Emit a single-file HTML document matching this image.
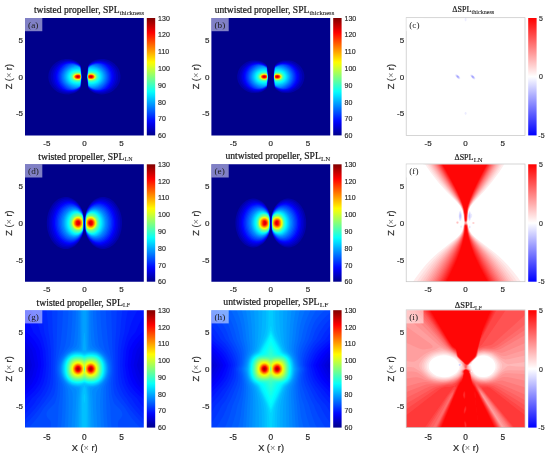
<!DOCTYPE html>
<html><head><meta charset="utf-8"><title>SPL maps</title><style>html,body{margin:0;padding:0;background:#fff}svg{display:block}</style></head><body>
<svg width="550" height="457" viewBox="0 0 550 457">
<rect width="550" height="457" fill="#fff"/>
<defs>
<linearGradient id="gj" x1="0" y1="0" x2="0" y2="1"><stop offset="0.0000" stop-color="#800000"/><stop offset="0.0312" stop-color="#9f0000"/><stop offset="0.0625" stop-color="#bf0000"/><stop offset="0.0938" stop-color="#de0000"/><stop offset="0.1250" stop-color="#fe0000"/><stop offset="0.1562" stop-color="#ff1e00"/><stop offset="0.1875" stop-color="#ff3e00"/><stop offset="0.2188" stop-color="#ff5d00"/><stop offset="0.2500" stop-color="#ff7d00"/><stop offset="0.2812" stop-color="#ff9c00"/><stop offset="0.3125" stop-color="#ffbc00"/><stop offset="0.3438" stop-color="#ffdb00"/><stop offset="0.3750" stop-color="#fffb00"/><stop offset="0.4062" stop-color="#e4ff1b"/><stop offset="0.4375" stop-color="#c4ff3b"/><stop offset="0.4688" stop-color="#a5ff5a"/><stop offset="0.5000" stop-color="#85ff7a"/><stop offset="0.5312" stop-color="#66ff99"/><stop offset="0.5625" stop-color="#46ffb9"/><stop offset="0.5938" stop-color="#27ffd8"/><stop offset="0.6250" stop-color="#07fff8"/><stop offset="0.6562" stop-color="#00e6ff"/><stop offset="0.6875" stop-color="#00c7ff"/><stop offset="0.7188" stop-color="#00a7ff"/><stop offset="0.7500" stop-color="#0088ff"/><stop offset="0.7812" stop-color="#0068ff"/><stop offset="0.8125" stop-color="#0049ff"/><stop offset="0.8438" stop-color="#0029ff"/><stop offset="0.8750" stop-color="#000aff"/><stop offset="0.9062" stop-color="#0000e9"/><stop offset="0.9375" stop-color="#0000ca"/><stop offset="0.9688" stop-color="#0000aa"/><stop offset="1.0000" stop-color="#00008b"/></linearGradient>
<linearGradient id="gb" x1="0" y1="0" x2="0" y2="1"><stop offset="0" stop-color="#ff0000"/><stop offset="0.5" stop-color="#ffffff"/><stop offset="1" stop-color="#0000ff"/></linearGradient>
<clipPath id="c00"><rect x="25.0" y="18.0" width="118.8" height="117.4"/></clipPath>
<clipPath id="c01"><rect x="211.4" y="18.0" width="118.8" height="117.4"/></clipPath>
<clipPath id="c02"><rect x="406.2" y="18.0" width="118.8" height="117.4"/></clipPath>
<clipPath id="c10"><rect x="25.0" y="164.3" width="118.8" height="117.4"/></clipPath>
<clipPath id="c11"><rect x="211.4" y="164.3" width="118.8" height="117.4"/></clipPath>
<clipPath id="c12"><rect x="406.2" y="164.3" width="118.8" height="117.4"/></clipPath>
<clipPath id="c20"><rect x="25.0" y="310.2" width="118.8" height="117.4"/></clipPath>
<clipPath id="c21"><rect x="211.4" y="310.2" width="118.8" height="117.4"/></clipPath>
<clipPath id="c22"><rect x="406.2" y="310.2" width="118.8" height="117.4"/></clipPath>
<filter id="bl" x="-5%" y="-5%" width="110%" height="110%" color-interpolation-filters="sRGB"><feGaussianBlur stdDeviation="0.6"/></filter>
</defs>
<g clip-path="url(#c00)"><g filter="url(#bl)">
<rect x="21.0" y="14.0" width="126.8" height="125.4" fill="#00008b"/>
<path fill="#0000ab" d="M63.4,59.4 65.5,59.0 68.7,59.0 70.3,59.2 73.5,60.1 76.8,61.6 78.4,62.8 80.0,64.5 80.6,65.8 80.8,67.6 81.2,68.3 81.4,69.1 81.6,76.3 81.4,84.3 81.2,85.1 80.8,85.8 80.6,87.6 80.4,88.4 79.2,89.9 77.6,91.3 75.2,92.7 72.7,93.6 68.7,94.4 64.7,94.3 60.7,93.3 57.5,91.9 54.3,89.6 51.7,86.8 50.1,84.3 48.9,81.1 48.3,77.9 48.5,73.9 49.4,70.7 51.1,67.4 53.0,65.0 55.9,62.6 59.1,60.7 61.5,59.8 63.4,59.4ZM97.8,59.4 100.9,59.0 104.1,59.1 108.1,60.1 111.3,61.5 114.5,63.8 117.1,66.6 118.7,69.1 119.9,72.3 120.5,75.5 120.4,78.7 119.7,81.9 118.2,85.1 116.5,87.6 113.7,90.2 111.3,91.9 109.7,92.7 107.3,93.6 104.1,94.3 101.7,94.4 99.3,94.3 96.1,93.6 93.6,92.7 91.2,91.3 89.6,89.9 88.4,88.4 88.2,87.6 88.0,85.8 87.6,85.1 87.4,83.5 87.3,74.7 87.4,69.1 87.6,68.3 88.0,67.6 88.4,65.0 89.6,63.5 92.0,61.6 95.3,60.1 97.8,59.4Z"/>
<path fill="#0000c1" d="M67.3,60.2 70.3,60.3 73.5,61.0 76.0,61.9 78.4,63.4 79.2,64.0 80.4,65.8 81.3,70.7 81.5,76.3 81.4,81.9 81.1,84.3 80.8,85.1 80.4,87.6 79.2,89.4 77.6,90.6 76.0,91.5 73.5,92.4 70.3,93.1 66.3,93.1 63.1,92.5 59.9,91.2 56.8,89.2 54.3,86.8 52.6,84.3 51.3,81.1 50.7,77.9 50.8,74.7 51.5,71.5 53.1,68.3 55.0,65.8 57.8,63.4 60.7,61.8 63.9,60.7 67.3,60.2ZM99.5,60.2 103.3,60.4 106.5,61.2 109.7,62.6 112.0,64.2 114.5,66.6 116.2,69.1 117.5,72.3 118.1,75.5 118.0,78.7 117.3,81.9 115.7,85.1 113.8,87.6 111.0,90.0 108.1,91.6 104.9,92.7 101.7,93.2 98.5,93.1 96.1,92.7 93.6,91.9 91.2,90.6 89.6,89.4 88.4,87.6 87.5,82.7 87.3,77.1 87.4,71.5 87.7,69.1 88.0,68.3 88.4,65.8 89.6,64.0 91.2,62.8 92.8,61.9 96.1,60.7 99.5,60.2Z"/>
<path fill="#0000d6" d="M64.2,61.8 66.3,61.3 68.7,61.1 71.1,61.2 73.5,61.6 76.0,62.5 78.4,63.8 79.2,64.4 80.2,65.8 81.2,70.7 81.5,76.3 81.2,82.7 80.5,86.8 80.0,88.0 79.2,89.0 76.8,90.5 75.2,91.3 72.7,92.0 68.7,92.3 65.5,91.9 62.3,90.9 59.2,89.2 56.7,87.0 54.6,84.3 53.5,81.9 52.8,78.7 52.7,75.5 53.3,72.3 54.2,69.9 55.8,67.4 58.3,64.9 60.7,63.3 64.2,61.8ZM94.7,61.8 97.7,61.2 100.9,61.1 104.1,61.7 106.5,62.5 109.6,64.2 112.1,66.4 114.2,69.1 115.3,71.5 116.0,74.7 116.1,77.9 115.5,81.1 114.6,83.5 113.0,86.0 110.7,88.4 108.1,90.1 105.7,91.2 103.3,91.9 100.9,92.3 98.5,92.3 96.1,92.0 93.6,91.3 91.2,90.1 89.6,89.0 88.6,87.6 87.6,82.7 87.3,77.1 87.6,70.7 88.3,66.6 88.8,65.4 90.4,63.8 92.8,62.5 94.7,61.8Z"/>
<path fill="#0000ec" d="M68.1,61.8 71.1,61.8 73.5,62.1 76.0,62.9 78.4,64.2 79.2,64.8 80.1,65.8 80.4,66.6 81.1,70.7 81.5,76.3 81.3,81.1 80.6,86.0 80.1,87.6 79.2,88.6 76.8,90.1 74.4,91.0 71.9,91.5 68.7,91.6 65.5,91.1 62.5,90.0 59.9,88.4 58.0,86.8 56.3,84.3 55.2,81.9 54.4,78.7 54.4,75.5 54.7,73.1 55.9,69.9 57.3,67.4 59.8,65.0 62.3,63.5 65.5,62.3 68.1,61.8ZM97.3,61.8 100.1,61.8 103.3,62.3 106.3,63.4 109.0,65.0 110.8,66.6 112.5,69.1 113.6,71.5 114.4,74.7 114.4,77.9 114.1,80.3 112.9,83.5 111.5,86.0 109.0,88.4 106.5,89.9 104.1,90.9 100.9,91.6 98.5,91.7 95.3,91.3 92.0,90.1 89.6,88.6 88.8,87.7 88.4,86.8 87.6,81.9 87.3,77.1 87.5,72.3 88.2,67.4 88.7,65.8 89.6,64.8 92.0,63.3 94.4,62.4 97.3,61.8Z"/>
<path fill="#0003ff" d="M67.2,62.6 71.1,62.3 72.7,62.5 75.2,63.0 78.4,64.5 80.0,65.9 80.3,66.6 81.1,71.5 81.4,76.3 81.1,81.9 80.3,86.8 80.0,87.5 78.4,88.9 76.8,89.7 74.4,90.6 71.1,91.1 67.9,90.9 64.7,90.1 62.3,88.9 60.5,87.6 58.5,85.1 57.2,82.7 56.4,80.3 55.9,77.1 56.2,73.9 57.2,70.7 58.5,68.3 60.5,65.8 61.5,65.0 64.5,63.4 67.2,62.6ZM95.3,62.6 97.7,62.3 100.9,62.5 104.1,63.3 106.5,64.5 108.3,65.8 110.3,68.3 111.6,70.7 112.4,73.1 112.8,75.5 112.7,78.7 111.9,81.9 110.7,84.3 109.0,86.8 107.4,88.4 104.9,89.7 102.5,90.6 100.9,90.9 98.5,91.1 96.9,91.0 94.4,90.6 92.0,89.7 90.4,88.9 88.8,87.5 88.5,86.8 87.7,81.9 87.4,77.1 87.7,71.5 88.5,66.6 88.8,65.9 90.4,64.5 92.8,63.3 95.3,62.6Z"/>
<path fill="#0018ff" d="M66.7,63.4 68.7,63.0 70.3,62.8 72.7,62.9 74.4,63.2 76.8,64.0 78.4,64.8 80.0,66.2 80.2,66.6 81.1,72.3 81.4,76.3 81.1,81.1 80.4,86.0 80.0,87.2 79.2,88.0 76.0,89.7 73.5,90.4 70.3,90.6 67.9,90.3 64.5,89.2 63.0,88.4 60.6,86.0 59.0,83.5 57.9,81.1 57.3,78.7 57.2,75.5 57.7,73.1 58.6,70.7 60.0,68.3 62.3,65.7 63.0,65.0 64.5,64.2 66.7,63.4ZM93.8,63.4 96.1,62.9 99.3,62.9 101.7,63.3 104.3,64.2 105.8,65.0 108.2,67.4 109.8,69.9 110.9,72.3 111.5,74.7 111.6,77.1 111.3,79.5 110.5,82.0 109.3,84.3 107.3,86.9 105.8,88.4 103.3,89.6 100.9,90.3 99.3,90.5 96.9,90.6 95.3,90.4 92.8,89.7 91.2,89.0 89.6,88.0 88.8,87.2 88.6,86.8 87.7,81.1 87.4,77.1 87.7,72.3 88.4,67.4 88.8,66.2 89.6,65.4 92.0,64.0 93.8,63.4Z"/>
<path fill="#002eff" d="M69.3,63.4 72.7,63.3 76.0,64.0 77.6,64.7 79.2,65.6 80.0,66.4 80.3,67.4 81.0,72.3 81.4,77.1 81.0,81.1 80.1,86.8 79.2,87.8 77.6,88.7 76.0,89.4 73.5,90.0 71.1,90.1 68.7,89.9 66.1,89.2 64.7,88.3 62.3,86.1 60.7,84.1 59.2,81.1 58.6,78.7 58.4,76.3 58.7,73.9 59.5,71.5 60.9,69.1 62.9,66.6 64.8,65.0 66.3,64.1 69.3,63.4ZM95.4,63.4 97.7,63.3 100.1,63.5 102.7,64.2 104.1,65.1 106.5,67.3 108.1,69.3 109.6,72.3 110.2,74.7 110.4,77.1 110.1,79.5 109.3,81.9 107.9,84.3 105.9,86.8 104.0,88.4 102.5,89.3 99.3,90.0 96.9,90.1 95.3,90.0 92.8,89.4 91.2,88.7 89.6,87.8 88.8,87.0 88.3,85.1 87.7,80.3 87.4,76.3 87.8,72.3 88.7,66.6 89.6,65.6 91.2,64.7 92.8,64.0 95.4,63.4Z"/>
<path fill="#0043ff" d="M68.1,64.2 71.1,63.7 73.5,63.8 75.2,64.1 77.6,65.0 79.2,65.9 80.0,66.6 80.3,67.4 81.0,72.3 81.3,76.3 81.2,79.5 80.3,86.0 80.0,86.8 79.2,87.5 77.6,88.4 76.0,89.1 74.4,89.5 71.9,89.7 70.3,89.6 67.9,89.1 65.5,87.6 62.9,85.1 61.2,82.7 60.2,80.3 59.7,77.9 59.7,75.5 60.2,73.1 60.8,71.5 62.3,69.1 63.7,67.4 65.5,65.8 68.1,64.2ZM93.3,64.2 95.3,63.8 97.7,63.7 100.7,64.2 101.7,64.8 104.1,66.5 105.9,68.3 107.6,70.7 108.6,73.1 109.1,75.5 109.1,77.9 108.6,80.3 108.0,81.9 106.5,84.3 105.1,86.0 103.3,87.6 100.7,89.2 97.7,89.7 95.3,89.6 93.6,89.3 91.2,88.4 89.6,87.5 88.8,86.8 88.5,86.0 87.8,81.1 87.5,77.1 87.6,73.9 88.5,67.4 88.8,66.6 89.6,65.9 91.2,65.0 93.3,64.2Z"/>
<path fill="#0059ff" d="M70.6,64.2 72.7,64.1 74.4,64.3 77.6,65.3 79.2,66.1 80.0,66.8 80.3,68.3 81.1,73.9 81.3,77.1 80.2,86.0 80.0,86.6 78.4,87.7 76.8,88.5 74.4,89.1 71.9,89.3 70.3,89.1 67.9,87.9 66.1,86.8 64.3,85.1 62.5,82.7 61.7,81.1 61.0,78.7 60.8,76.3 61.1,73.9 62.1,71.5 63.0,69.9 64.3,68.3 66.3,66.5 68.7,65.0 70.6,64.2ZM95.0,64.2 96.9,64.1 98.5,64.3 101.5,65.8 103.6,67.4 105.2,69.1 106.7,71.5 107.4,73.1 107.9,75.5 107.9,77.9 107.7,79.5 106.7,81.9 105.8,83.5 104.5,85.1 102.5,86.9 100.1,88.4 98.2,89.2 95.3,89.2 92.8,88.7 90.4,87.7 88.8,86.6 88.5,85.1 87.8,80.3 87.6,77.9 87.6,75.5 88.5,68.3 88.8,66.8 89.6,66.1 91.2,65.3 92.8,64.7 95.0,64.2Z"/>
<path fill="#006fff" d="M71.0,65.0 72.7,64.7 74.4,64.7 76.8,65.2 78.4,65.9 80.0,67.0 80.3,68.3 81.1,74.7 81.2,77.1 80.1,86.0 80.0,86.4 78.4,87.5 76.8,88.2 74.4,88.7 72.7,88.7 71.0,88.4 68.7,87.3 66.3,85.6 64.7,84.0 63.3,81.9 62.5,80.3 62.0,77.9 62.0,75.5 62.3,73.9 62.9,72.3 63.9,70.4 65.0,69.1 66.7,67.4 68.7,66.1 71.0,65.0ZM92.7,65.0 94.4,64.7 96.9,64.8 98.5,65.3 101.0,66.6 103.0,68.3 104.9,70.4 105.9,72.3 106.7,74.7 106.9,76.3 106.7,78.7 105.9,81.1 104.9,83.0 103.3,84.9 101.7,86.3 99.3,87.7 96.9,88.6 94.4,88.7 91.2,87.9 88.8,86.4 88.5,85.1 87.7,78.7 87.6,76.3 88.7,67.4 88.8,67.0 89.6,66.4 91.2,65.5 92.7,65.0Z"/>
<path fill="#0084ff" d="M71.6,65.8 74.4,65.1 77.6,65.8 80.0,67.2 81.1,74.7 81.2,77.9 80.0,86.2 77.6,87.6 74.4,88.3 71.9,87.7 69.8,86.8 67.9,85.6 66.4,84.3 65.0,82.7 64.1,81.1 63.4,79.5 63.1,77.9 63.1,75.5 63.4,73.9 64.1,72.3 65.0,70.7 66.4,69.1 67.9,67.8 69.5,66.8 71.6,65.8ZM91.2,65.8 94.4,65.1 97.7,66.0 100.4,67.4 102.4,69.1 104.1,71.1 105.1,73.1 105.7,75.5 105.7,77.9 105.4,79.5 104.3,81.9 103.1,83.5 101.5,85.1 99.3,86.6 96.9,87.7 94.4,88.3 92.0,87.9 89.6,86.8 88.8,86.2 88.6,85.1 87.6,77.9 87.8,73.9 88.8,67.2 91.2,65.8Z"/>
<path fill="#009aff" d="M75.3,65.8 76.8,65.9 78.4,66.5 80.0,67.4 81.2,76.3 81.0,78.7 80.0,86.0 78.4,86.9 76.8,87.5 76.0,87.6 73.5,87.2 71.1,86.4 69.5,85.5 67.9,84.3 66.3,82.7 65.3,81.1 64.3,78.7 64.1,77.1 64.3,74.7 64.9,73.1 65.7,71.5 67.0,69.9 68.7,68.4 71.1,67.0 73.5,66.2 75.3,65.8ZM92.3,65.8 94.4,66.0 96.9,66.7 99.3,67.9 100.9,69.1 102.5,70.7 103.5,72.3 104.5,74.7 104.7,76.3 104.5,78.7 103.9,80.3 103.1,81.9 101.7,83.6 99.9,85.1 97.7,86.4 95.3,87.2 92.8,87.6 92.0,87.5 90.4,86.9 88.8,86.0 87.6,77.1 87.8,74.7 88.8,67.4 90.4,66.5 92.3,65.8Z"/>
<path fill="#00b0ff" d="M75.8,66.6 77.8,66.6 80.0,67.7 81.1,75.5 81.1,77.9 80.0,85.7 79.2,86.2 77.6,86.8 75.2,86.7 72.7,86.1 70.7,85.1 68.7,83.8 67.6,82.7 66.3,81.0 65.5,79.1 65.2,77.1 65.2,75.5 65.6,73.9 66.4,72.3 67.9,70.3 69.4,69.1 71.1,68.0 73.5,67.1 75.8,66.6ZM91.0,66.6 92.8,66.6 95.3,67.1 97.7,68.0 99.4,69.1 101.2,70.7 102.4,72.3 103.2,73.9 103.6,76.3 103.6,77.9 103.2,79.5 102.4,81.1 100.9,83.1 99.4,84.3 97.7,85.4 95.3,86.3 92.8,86.8 91.0,86.8 88.8,85.7 87.7,77.9 87.7,75.5 88.8,67.7 91.0,66.6Z"/>
<path fill="#00c5ff" d="M76.6,67.4 79.2,67.4 80.0,68.0 80.2,70.7 81.0,74.7 81.1,77.9 80.2,82.7 80.0,85.1 80.0,85.4 79.2,86.0 76.8,86.0 74.4,85.6 71.9,84.8 70.3,83.9 68.9,82.7 67.5,81.1 66.7,79.5 66.3,77.9 66.3,75.5 66.7,73.9 67.5,72.3 68.7,70.8 70.3,69.5 71.9,68.6 74.4,67.8 76.6,67.4ZM89.7,67.4 92.0,67.4 93.6,67.6 96.1,68.3 97.7,69.1 99.3,70.1 100.7,71.5 101.7,73.1 102.4,74.7 102.6,76.3 102.5,77.9 102.1,79.5 101.3,81.1 100.1,82.6 99.0,83.5 96.9,84.8 95.3,85.4 93.6,85.8 91.2,86.0 89.6,86.0 88.8,85.4 88.6,82.7 87.7,77.9 87.7,76.3 88.8,68.0 89.7,67.4Z"/>
<path fill="#00dbff" d="M73.3,69.1 76.8,68.4 80.0,68.5 80.2,70.7 81.1,76.3 81.0,77.9 80.3,81.9 80.0,84.9 78.4,85.1 76.0,85.0 72.7,84.1 71.1,83.3 69.5,82.0 68.7,81.1 67.8,79.5 67.3,77.9 67.2,76.3 67.5,74.7 68.2,73.1 69.4,71.5 70.3,70.7 71.9,69.6 73.3,69.1ZM88.8,69.1 88.8,68.5 90.4,68.3 92.8,68.4 95.3,69.0 96.9,69.6 98.5,70.7 99.4,71.5 100.6,73.1 101.5,75.5 101.6,77.1 101.3,78.7 100.1,81.1 99.3,82.0 97.7,83.3 96.1,84.1 93.6,84.8 91.2,85.1 88.8,84.9 88.6,82.7 87.7,77.1 87.8,75.5 88.5,71.5 88.8,69.1Z"/>
<path fill="#00f0ff" d="M73.9,69.9 76.8,69.3 80.0,69.4 80.3,72.3 81.0,75.5 81.0,77.1 80.0,84.0 76.8,84.1 73.5,83.4 71.9,82.7 70.8,81.9 69.5,80.6 68.9,79.5 68.2,77.1 68.3,75.5 68.9,73.9 69.5,72.8 70.8,71.5 72.0,70.7 73.9,69.9ZM88.8,69.9 88.8,69.4 90.4,69.3 92.8,69.4 94.4,69.7 96.1,70.3 97.7,71.2 99.5,73.1 100.1,74.2 100.5,75.5 100.5,77.9 100.1,79.2 99.5,80.3 97.7,82.2 96.1,83.1 93.6,83.9 91.2,84.1 88.8,84.0 87.8,77.1 87.8,75.5 88.8,69.9Z"/>
<path fill="#07fff8" d="M74.5,70.7 77.6,70.2 80.0,70.4 81.0,76.3 80.9,77.9 80.0,83.0 76.8,83.2 73.5,82.5 71.1,80.9 70.5,80.3 69.6,78.7 69.2,76.3 69.6,74.7 70.0,73.9 70.5,73.1 71.9,71.8 73.5,70.9 74.5,70.7ZM88.8,70.7 88.8,70.4 91.2,70.2 94.4,70.7 96.9,71.8 98.3,73.1 99.2,74.7 99.6,77.1 99.2,78.7 98.3,80.3 97.7,80.9 95.3,82.5 93.6,82.9 91.2,83.2 88.8,83.0 87.8,77.1 88.0,74.7 88.8,70.7Z"/>
<path fill="#1dffe2" d="M74.2,71.5 76.8,71.0 80.0,71.1 81.0,76.3 80.8,78.7 80.3,80.3 80.0,82.3 76.8,82.4 74.4,82.0 72.7,81.3 71.9,80.7 70.8,79.5 70.4,78.7 70.0,77.1 70.1,75.5 70.4,74.7 70.8,73.9 71.9,72.7 72.7,72.1 74.2,71.5ZM88.8,71.5 88.8,71.1 90.4,70.9 93.6,71.2 96.1,72.1 97.3,73.1 98.4,74.7 98.8,76.3 98.7,77.9 98.4,78.7 97.3,80.3 96.1,81.3 93.6,82.2 91.2,82.5 88.8,82.3 87.8,77.1 88.0,74.7 88.8,71.5Z"/>
<path fill="#32ffcd" d="M73.7,72.3 75.2,71.8 76.8,71.5 80.0,71.6 80.9,76.3 80.8,78.5 80.0,81.8 76.8,81.9 74.4,81.4 72.4,80.3 71.1,78.8 70.6,77.1 70.7,75.5 71.1,74.6 71.9,73.5 73.7,72.3ZM88.7,72.3 88.8,71.6 92.0,71.5 94.4,72.0 96.4,73.1 97.7,74.7 98.2,76.3 98.1,77.9 97.2,79.5 96.1,80.6 93.6,81.6 91.2,81.9 88.8,81.8 87.9,77.1 88.0,74.9 88.7,72.3Z"/>
<path fill="#48ffb7" d="M75.4,72.3 77.6,72.0 80.0,72.2 80.8,75.2 80.9,76.3 80.8,78.2 80.0,81.2 77.6,81.4 75.2,81.1 73.4,80.3 72.4,79.5 71.7,78.7 71.2,77.1 71.4,75.5 71.7,74.7 72.4,73.9 73.4,73.1 75.4,72.3ZM88.8,72.3 90.4,72.0 92.8,72.2 95.3,73.0 96.4,73.9 97.4,75.5 97.6,77.1 97.1,78.7 96.4,79.5 95.3,80.4 93.6,81.1 91.2,81.4 88.8,81.2 88.0,78.2 87.9,77.1 88.0,75.2 88.8,72.3Z"/>
<path fill="#5dffa2" d="M74.6,73.1 76.0,72.7 77.6,72.5 80.0,72.7 80.8,75.4 80.9,76.3 80.8,78.0 80.0,80.7 77.6,80.9 75.2,80.5 73.5,79.8 72.4,78.7 71.8,77.1 72.0,75.5 72.4,74.7 73.2,73.9 74.6,73.1ZM88.8,73.1 88.8,72.7 91.2,72.5 93.6,72.9 95.3,73.6 96.4,74.7 97.0,76.3 96.8,77.9 96.4,78.7 95.3,79.8 93.6,80.5 91.2,80.9 88.8,80.7 88.0,78.0 87.9,77.1 88.0,75.4 88.8,73.1Z"/>
<path fill="#73ff8c" d="M76.8,73.1 78.4,73.0 80.0,73.2 80.7,75.5 80.8,76.3 80.7,77.9 80.0,80.2 77.6,80.5 75.2,80.1 73.5,79.3 72.5,77.9 72.2,77.1 72.2,76.3 73.0,74.7 73.5,74.1 75.2,73.3 76.8,73.1ZM89.8,73.1 91.2,72.9 93.6,73.3 95.3,74.1 95.8,74.7 96.6,76.3 96.6,77.1 95.8,78.7 95.3,79.3 93.6,80.1 92.8,80.3 91.2,80.5 88.8,80.2 88.1,77.9 88.0,75.7 88.8,73.2 89.8,73.1Z"/>
<path fill="#89ff76" d="M74.6,73.9 75.2,73.5 76.8,73.3 80.0,73.4 80.8,76.3 80.7,77.9 80.0,80.0 77.6,80.2 76.0,80.1 75.2,79.9 73.4,78.7 72.6,77.1 72.6,76.3 73.4,74.7 74.6,73.9ZM88.6,73.9 88.8,73.4 90.4,73.2 93.6,73.5 95.3,74.6 95.9,75.5 96.2,76.3 96.2,77.1 95.9,77.9 95.3,78.8 93.6,79.9 91.2,80.2 88.8,80.0 88.0,77.1 88.1,75.5 88.6,73.9Z"/>
<path fill="#9eff61" d="M75.0,73.9 76.0,73.6 77.6,73.4 80.0,73.6 80.8,76.3 80.6,77.9 80.0,79.8 78.4,80.0 76.0,79.8 74.4,79.2 73.5,78.5 72.9,77.1 72.9,76.3 73.1,75.5 73.8,74.7 75.0,73.9ZM88.7,73.9 88.8,73.6 91.2,73.4 92.8,73.6 94.4,74.2 95.3,74.9 95.9,76.3 95.9,77.1 95.7,77.9 94.4,79.2 92.8,79.8 90.4,80.0 88.8,79.8 88.0,77.1 88.2,75.5 88.7,73.9Z"/>
<path fill="#b4ff4b" d="M75.6,73.9 77.6,73.6 80.0,73.8 80.7,76.3 80.6,77.9 80.0,79.6 78.4,79.8 76.0,79.6 74.4,78.9 73.5,78.1 73.1,77.1 73.1,76.3 73.4,75.5 74.4,74.5 75.6,73.9ZM88.8,73.9 90.4,73.6 92.0,73.6 93.6,74.0 94.4,74.5 95.4,75.5 95.7,76.3 95.7,77.1 95.4,77.9 94.4,78.9 92.8,79.6 90.4,79.8 88.8,79.6 88.1,77.1 88.2,75.5 88.8,73.9Z"/>
<path fill="#caff35" d="M76.4,73.9 78.4,73.7 80.0,74.0 80.7,76.3 80.5,77.9 80.0,79.4 78.4,79.7 76.0,79.4 74.4,78.7 73.7,77.9 73.3,77.1 73.3,76.3 73.7,75.5 74.4,74.7 76.4,73.9ZM89.4,73.9 92.0,73.8 93.6,74.3 94.4,74.7 95.1,75.5 95.5,76.3 95.5,77.1 95.1,77.9 94.4,78.7 92.8,79.4 90.4,79.7 88.8,79.4 88.3,77.9 88.1,76.3 88.8,74.0 89.4,73.9Z"/>
<path fill="#dfff20" d="M74.8,74.7 76.0,74.1 76.8,74.0 78.4,73.9 80.0,74.2 80.6,76.3 80.5,77.9 80.0,79.2 78.4,79.5 76.8,79.4 75.2,78.9 74.4,78.4 73.6,77.1 73.6,76.3 73.9,75.5 74.8,74.7ZM88.6,74.7 88.8,74.2 90.4,73.9 92.0,74.0 93.6,74.5 94.9,75.5 95.2,76.3 95.2,77.1 94.9,77.9 94.0,78.7 92.8,79.3 90.4,79.5 88.8,79.2 88.2,77.1 88.3,75.5 88.6,74.7Z"/>
<path fill="#f5ff0a" d="M75.1,74.7 76.0,74.3 77.6,74.0 79.2,74.1 80.0,74.4 80.6,76.3 80.4,77.9 80.0,79.0 78.4,79.4 76.8,79.3 75.2,78.7 74.4,78.1 73.8,77.1 73.8,76.3 74.2,75.5 75.1,74.7ZM88.7,74.7 88.8,74.4 90.4,74.0 92.8,74.3 93.7,74.7 94.6,75.5 95.0,76.3 95.0,77.1 94.4,78.1 92.8,79.1 90.4,79.4 88.8,79.0 88.2,77.1 88.4,75.5 88.7,74.7Z"/>
<path fill="#fff400" d="M75.5,74.7 76.8,74.2 77.6,74.1 79.2,74.3 80.0,74.5 80.5,76.3 80.4,77.9 80.0,78.9 78.4,79.2 76.8,79.2 75.2,78.6 74.4,77.9 73.9,77.1 73.9,76.3 74.4,75.5 75.5,74.7ZM88.8,74.7 89.6,74.3 90.4,74.2 92.0,74.2 92.8,74.4 93.6,74.8 94.4,75.5 94.9,76.3 94.9,77.1 94.4,77.9 93.6,78.6 92.8,79.0 92.0,79.2 90.4,79.2 88.8,78.9 88.3,77.1 88.4,75.5 88.8,74.7Z"/>
<path fill="#ffde00" d="M75.8,74.7 77.6,74.3 79.2,74.4 80.0,74.7 80.5,76.3 80.3,77.9 80.0,78.7 78.4,79.1 76.8,79.0 75.2,78.4 74.6,77.9 74.1,77.1 74.1,76.3 74.6,75.5 75.8,74.7ZM88.9,74.7 90.4,74.3 92.0,74.4 92.8,74.6 94.2,75.5 94.7,76.3 94.7,77.1 94.2,77.9 93.6,78.4 92.0,79.0 90.4,79.1 88.8,78.7 88.5,77.9 88.3,76.3 88.9,74.7Z"/>
<path fill="#ffc800" d="M76.1,74.7 76.8,74.5 78.4,74.4 80.0,74.8 80.4,76.3 80.3,77.9 80.0,78.6 78.4,79.0 76.8,78.9 76.0,78.7 74.8,77.9 74.3,77.1 74.3,76.3 75.2,75.2 76.1,74.7ZM89.2,74.7 91.2,74.4 92.8,74.7 94.0,75.5 94.5,76.3 94.5,77.1 93.6,78.2 92.0,78.9 90.4,79.0 88.8,78.6 88.5,77.9 88.4,76.3 88.8,74.8 89.2,74.7Z"/>
<path fill="#ffb300" d="M76.5,74.7 78.4,74.5 80.0,75.0 80.3,76.3 80.3,77.1 80.0,78.4 79.2,78.7 77.6,78.9 76.0,78.5 75.0,77.9 74.5,77.1 74.5,76.3 75.2,75.3 76.5,74.7ZM89.6,74.7 90.4,74.5 92.0,74.6 93.6,75.3 94.3,76.3 94.3,77.1 93.8,77.9 92.8,78.5 91.2,78.9 89.6,78.7 88.8,78.4 88.5,77.1 88.6,75.5 88.8,75.0 89.6,74.7Z"/>
<path fill="#ff9d00" d="M77.1,74.7 78.4,74.6 80.0,75.1 80.3,76.3 80.3,77.1 80.0,78.3 78.6,78.7 77.6,78.8 76.0,78.4 75.1,77.9 74.6,77.1 74.6,76.3 75.2,75.5 76.0,75.0 77.1,74.7ZM90.2,74.7 92.0,74.7 93.7,75.5 94.2,76.3 94.2,77.1 93.7,77.9 92.8,78.4 91.2,78.8 90.2,78.7 88.8,78.3 88.5,77.1 88.7,75.5 88.8,75.1 90.2,74.7Z"/>
<path fill="#ff8800" d="M75.4,75.5 76.0,75.1 77.6,74.7 78.4,74.8 80.0,75.2 80.2,76.3 80.0,78.2 78.4,78.6 77.6,78.7 76.0,78.3 75.4,77.9 74.8,77.1 74.8,76.3 75.4,75.5ZM88.7,75.5 88.8,75.2 90.4,74.8 92.0,74.9 93.4,75.5 94.0,76.3 94.0,77.1 93.4,77.9 92.0,78.5 91.2,78.7 89.6,78.5 88.8,78.2 88.7,77.9 88.6,77.1 88.7,75.5Z"/>
<path fill="#ff7200" d="M75.6,75.5 77.6,74.9 78.4,74.9 80.0,75.4 80.2,76.3 80.0,78.0 78.4,78.5 77.6,78.5 76.0,78.1 74.9,77.1 74.9,76.3 75.6,75.5ZM88.8,75.5 90.4,74.9 92.0,75.0 92.8,75.3 93.6,76.0 93.9,76.3 93.9,77.1 93.2,77.9 92.0,78.4 91.2,78.5 89.6,78.3 88.8,77.9 88.6,77.1 88.8,75.5Z"/>
<path fill="#ff5c00" d="M75.8,75.5 77.6,75.0 78.4,75.0 80.0,75.5 80.1,76.3 80.0,77.9 78.4,78.4 77.6,78.4 76.0,78.0 75.1,77.1 75.1,76.3 75.8,75.5ZM88.8,75.5 90.4,75.0 91.2,75.0 92.8,75.4 93.7,76.3 93.7,77.1 93.0,77.9 92.0,78.3 91.2,78.4 89.6,78.2 88.8,77.9 88.7,77.1 88.8,75.5Z"/>
<path fill="#ff4700" d="M76.0,75.5 77.6,75.1 78.4,75.1 79.7,75.5 80.0,75.8 80.1,76.3 80.0,77.6 79.7,77.9 78.4,78.3 77.6,78.3 76.0,77.9 75.3,77.1 75.3,76.3 76.0,75.5ZM89.1,75.5 90.4,75.1 91.2,75.1 92.8,75.5 93.5,76.3 93.5,77.1 92.8,77.9 92.0,78.1 91.2,78.3 89.6,78.1 88.8,77.6 88.7,77.1 88.8,75.8 89.1,75.5Z"/>
<path fill="#ff3100" d="M76.4,75.5 77.6,75.2 79.3,75.5 80.0,76.0 80.0,77.4 79.3,77.9 78.4,78.1 76.4,77.9 75.5,77.1 75.5,76.3 76.4,75.5ZM89.5,75.5 91.2,75.2 92.4,75.5 93.3,76.3 93.3,77.1 92.8,77.6 92.0,78.0 90.4,78.1 89.5,77.9 88.8,77.4 88.8,77.1 88.8,76.0 89.5,75.5Z"/>
<path fill="#ff1b00" d="M76.9,75.5 78.4,75.4 79.2,75.6 80.0,76.3 80.0,77.1 78.8,77.9 77.6,78.0 76.8,77.9 75.8,77.1 75.8,76.3 76.9,75.5ZM90.0,75.5 91.2,75.4 92.0,75.5 93.0,76.3 93.0,77.1 91.9,77.9 90.4,78.0 89.6,77.8 88.8,77.1 88.8,76.3 90.0,75.5Z"/>
<path fill="#ff0600" d="M76.0,76.3 76.8,75.7 77.6,75.5 78.4,75.5 79.2,75.8 79.7,76.3 79.7,77.1 79.2,77.6 78.4,77.9 77.6,77.9 76.8,77.7 76.0,77.1 76.0,76.3ZM89.1,76.3 89.6,75.8 90.4,75.5 91.2,75.5 92.0,75.7 92.8,76.3 92.8,77.1 92.0,77.7 91.2,77.9 90.4,77.9 89.6,77.6 89.1,77.1 89.1,76.3Z"/>
<path fill="#ef0000" d="M76.3,76.3 77.6,75.7 78.4,75.7 79.4,76.3 79.4,77.1 78.4,77.7 77.6,77.7 76.3,77.1 76.3,76.3ZM89.4,76.3 90.4,75.7 91.2,75.7 92.5,76.3 92.5,77.1 91.2,77.7 90.4,77.7 89.4,77.1 89.4,76.3Z"/>
<path fill="#da0000" d="M76.6,76.3 77.6,75.9 78.4,75.9 79.2,76.3 79.2,77.1 78.4,77.5 77.6,77.5 76.6,77.1 76.6,76.3ZM89.6,76.3 90.4,75.9 91.2,75.9 92.2,76.3 92.2,77.1 91.2,77.5 90.4,77.5 89.6,77.1 89.6,76.3Z"/>
<path fill="#c40000" d="M77.0,76.3 77.6,76.1 78.7,76.3 78.7,77.1 77.6,77.3 77.0,77.1 77.0,76.3ZM90.1,76.3 91.2,76.1 91.8,76.3 91.8,77.1 91.2,77.3 90.1,77.1 90.1,76.3Z"/>
<path fill="#ae0000" d="M77.5,76.3 77.7,76.3 77.7,77.1 77.5,77.1 77.5,76.3ZM91.1,76.3 91.3,76.3 91.2,77.1 91.1,77.1 91.1,76.3Z"/>
</g></g>
<rect x="25.0" y="18.0" width="17.3" height="13.2" fill="#fff" fill-opacity="0.5"/>
<text x="28.1" y="27.9" font-family="'Liberation Serif',serif" font-size="9.2" fill="#1a1a1a">(a)</text>
<rect x="146.8" y="18.0" width="8.4" height="117.4" fill="url(#gj)"/>
<g font-family="'Liberation Sans',sans-serif" font-size="7" fill="#262626" stroke="#262626" stroke-width="0.15">
<text x="158.1" y="20.6">130</text>
<text x="158.1" y="37.4">120</text>
<text x="158.1" y="54.1">110</text>
<text x="158.1" y="70.9">100</text>
<text x="158.1" y="87.7">90</text>
<text x="158.1" y="104.5">80</text>
<text x="158.1" y="121.2">70</text>
<text x="158.1" y="138.0">60</text>
</g>
<g font-family="'Liberation Sans',sans-serif" font-size="8.0" fill="#262626" stroke="#262626" stroke-width="0.18">
<text x="46.9" y="146.3" text-anchor="middle">-5</text>
<text x="84.4" y="146.3" text-anchor="middle">0</text>
<text x="121.5" y="146.3" text-anchor="middle">5</text>
<text x="23.0" y="43.0" text-anchor="end" font-size="8.0">5</text>
<text x="23.0" y="79.7" text-anchor="end" font-size="8.0">0</text>
<text x="23.0" y="116.4" text-anchor="end" font-size="8.0">-5</text>
</g>
<text transform="translate(12.4,76.7) rotate(-90)" text-anchor="middle" font-family="'Liberation Sans',sans-serif" font-size="9.2" fill="#262626" stroke="#262626" stroke-width="0.2">Z (<tspan fill="#777" stroke="none">×</tspan> r)</text>
<g clip-path="url(#c01)"><g filter="url(#bl)">
<rect x="207.4" y="14.0" width="126.8" height="125.4" fill="#00008b"/>
<path fill="#0000ab" d="M249.6,61.0 251.1,60.6 254.3,60.3 256.7,60.4 259.1,60.7 261.6,61.5 264.0,62.8 265.6,64.0 266.9,65.8 267.2,67.8 267.8,69.1 267.9,70.7 267.9,77.9 267.8,84.3 267.2,85.6 266.9,87.6 266.5,88.4 265.6,89.4 264.0,90.6 261.6,91.9 258.3,92.8 255.1,93.1 251.1,92.8 247.9,91.8 244.7,90.1 241.6,87.6 239.7,85.1 238.1,81.9 237.3,78.7 237.2,75.5 238.1,71.5 239.2,69.1 240.9,66.6 243.4,64.2 246.3,62.3 249.6,61.0ZM281.7,61.0 283.3,60.6 284.9,60.4 288.9,60.4 291.3,60.8 293.7,61.6 295.3,62.3 298.2,64.2 300.1,66.0 301.9,68.3 303.5,71.5 304.3,74.7 304.4,77.9 303.7,81.1 302.8,83.5 301.3,86.0 299.2,88.4 296.9,90.1 293.7,91.8 291.3,92.6 288.1,93.1 285.7,93.1 282.5,92.7 280.0,91.9 277.6,90.6 276.0,89.4 274.7,87.6 274.4,85.6 273.8,84.3 273.6,77.1 273.8,69.1 274.4,67.8 274.7,65.8 276.0,64.0 277.6,62.8 280.0,61.5 281.7,61.0Z"/>
<path fill="#0000c1" d="M251.8,61.8 255.9,61.3 258.3,61.5 260.8,62.0 263.2,63.0 265.6,64.6 266.4,65.4 266.9,66.6 267.2,68.4 267.7,69.9 267.9,76.3 267.7,82.7 266.9,86.8 266.4,88.0 265.6,88.8 263.2,90.4 260.8,91.4 257.5,92.0 254.3,92.0 251.1,91.4 247.9,90.1 245.2,88.4 243.1,86.3 241.1,83.5 240.1,81.1 239.4,77.9 239.5,74.7 240.4,71.5 241.6,69.1 243.4,66.6 246.3,64.2 248.7,62.9 251.8,61.8ZM281.8,61.8 284.9,61.3 288.1,61.5 291.3,62.2 294.0,63.4 296.4,65.0 298.9,67.4 300.5,69.9 301.5,72.3 302.2,75.5 302.1,78.7 301.5,81.1 300.1,84.1 298.2,86.8 296.1,88.6 293.7,90.1 290.5,91.4 288.1,91.9 285.7,92.1 283.3,91.9 280.8,91.4 278.4,90.4 276.0,88.8 275.2,88.0 274.7,86.8 274.4,85.0 273.9,83.5 273.7,77.1 273.9,70.7 274.7,66.6 275.2,65.4 276.8,64.0 279.2,62.7 281.8,61.8Z"/>
<path fill="#0000d6" d="M252.9,62.6 255.1,62.2 257.5,62.2 259.1,62.3 261.6,62.9 264.8,64.5 266.4,65.8 266.8,66.6 267.6,70.7 267.9,76.3 267.6,82.7 267.0,86.0 266.4,87.6 265.6,88.3 264.0,89.4 261.6,90.5 258.3,91.2 255.1,91.2 251.9,90.5 249.5,89.6 247.1,88.1 244.7,86.0 243.0,83.5 241.9,81.1 241.3,78.7 241.2,75.5 241.9,72.3 243.0,69.9 244.7,67.4 247.1,65.3 249.5,63.8 252.9,62.6ZM281.3,62.6 283.3,62.2 286.5,62.2 289.7,62.9 292.1,63.8 294.5,65.3 296.9,67.4 298.6,69.9 299.7,72.3 300.3,74.7 300.4,77.9 300.0,80.3 299.1,82.7 297.5,85.1 295.3,87.5 292.9,89.1 290.5,90.3 288.1,90.9 286.5,91.2 284.1,91.2 281.7,90.9 279.2,90.2 277.6,89.4 276.0,88.3 275.2,87.6 274.8,86.8 274.0,82.7 273.7,77.1 274.0,70.7 274.8,66.6 275.2,65.8 276.8,64.5 279.2,63.2 281.3,62.6Z"/>
<path fill="#0000ec" d="M252.8,63.4 254.3,63.0 256.7,62.8 259.1,62.9 260.8,63.2 263.2,64.0 264.8,64.8 266.4,66.1 266.7,66.6 267.5,70.7 267.8,76.3 267.6,81.9 266.9,86.0 266.4,87.3 265.6,88.0 262.4,89.7 259.9,90.4 256.7,90.6 253.5,90.2 251.1,89.4 248.7,88.1 246.1,86.0 244.3,83.5 243.1,81.1 242.5,78.7 242.4,76.3 242.9,73.1 243.8,70.7 245.4,68.3 247.9,65.9 250.3,64.4 252.8,63.4ZM280.0,63.4 282.5,62.9 285.7,62.8 288.8,63.4 291.3,64.4 293.6,65.8 295.5,67.4 297.3,69.9 298.5,72.3 299.1,74.7 299.2,77.1 298.7,80.3 297.8,82.7 296.2,85.1 294.5,86.9 292.1,88.6 289.7,89.7 288.1,90.2 285.7,90.6 283.3,90.6 281.7,90.4 279.2,89.7 277.6,89.0 276.0,88.0 275.2,87.3 274.9,86.8 274.1,82.7 273.8,77.1 274.0,71.5 274.7,67.4 275.2,66.1 276.0,65.4 277.6,64.4 280.0,63.4Z"/>
<path fill="#0003ff" d="M256.0,63.4 258.3,63.3 260.8,63.6 263.2,64.3 265.6,65.7 266.4,66.3 266.8,67.4 267.5,71.5 267.8,75.5 267.8,78.7 267.5,81.9 266.5,86.8 265.6,87.7 264.0,88.7 261.6,89.6 259.9,89.9 257.5,90.1 254.3,89.7 251.9,88.9 249.4,87.6 247.4,86.0 245.7,83.5 244.3,80.3 244.0,78.7 243.9,75.5 244.3,73.1 245.3,70.7 246.7,68.3 248.4,66.6 250.8,65.0 253.5,63.9 256.0,63.4ZM282.1,63.4 284.9,63.3 287.3,63.7 289.7,64.5 292.2,65.8 294.2,67.4 295.4,69.1 296.7,71.5 297.5,73.9 297.7,76.3 297.5,79.5 296.3,82.7 294.9,85.1 293.2,86.8 291.3,88.1 288.9,89.2 286.5,89.9 284.1,90.1 281.7,89.9 279.2,89.3 276.8,88.3 276.0,87.7 275.1,86.8 274.2,82.7 273.8,78.7 273.8,74.7 274.1,71.5 275.1,66.6 276.0,65.7 277.6,64.7 280.0,63.8 282.1,63.4Z"/>
<path fill="#0018ff" d="M254.8,64.2 256.7,63.9 258.3,63.8 259.9,63.9 262.4,64.4 264.8,65.4 265.6,65.9 266.4,66.6 266.7,67.4 267.5,72.3 267.8,76.3 267.5,81.1 266.9,85.1 266.4,86.8 264.8,88.0 262.4,89.0 259.9,89.5 256.7,89.5 253.5,88.8 251.9,88.1 249.7,86.8 248.1,85.1 246.5,82.7 245.6,80.3 245.1,77.9 245.2,74.7 245.8,72.3 247.0,69.9 248.1,68.3 249.7,66.6 251.9,65.3 254.8,64.2ZM280.0,64.2 282.5,63.8 284.9,63.9 288.1,64.6 290.5,65.7 291.9,66.6 293.7,68.5 295.1,70.7 296.0,73.1 296.5,75.5 296.5,77.9 296.0,80.3 295.1,82.7 293.5,85.1 291.9,86.8 290.5,87.7 288.1,88.8 284.9,89.5 282.5,89.6 280.8,89.4 278.4,88.7 276.8,88.0 275.2,86.8 274.9,86.0 274.1,81.1 273.8,77.1 274.1,72.3 274.9,67.4 275.2,66.6 276.8,65.4 278.4,64.7 280.0,64.2Z"/>
<path fill="#002eff" d="M258.2,64.2 259.9,64.3 262.4,64.7 264.8,65.7 266.4,66.8 266.8,68.3 267.7,75.5 267.7,77.9 267.4,81.1 266.8,85.1 266.4,86.6 264.8,87.7 263.2,88.4 261.6,88.9 259.1,89.2 256.7,89.1 253.9,88.4 252.2,87.6 250.3,86.0 248.7,84.1 247.4,81.9 246.5,79.5 246.2,77.1 246.3,74.7 247.0,72.3 248.3,69.9 249.5,68.2 252.2,65.8 255.1,64.7 258.2,64.2ZM282.4,64.2 284.9,64.3 287.7,65.0 289.4,65.8 291.3,67.4 292.9,69.3 294.2,71.5 295.1,73.9 295.4,76.3 295.3,78.7 294.6,81.1 293.3,83.5 291.4,86.0 289.4,87.6 287.7,88.4 285.7,88.9 283.3,89.2 281.7,89.1 279.2,88.7 276.8,87.7 275.2,86.6 274.8,85.1 274.2,81.1 273.9,77.1 274.2,72.3 274.8,68.3 275.2,66.8 276.8,65.7 278.4,65.0 280.0,64.5 282.4,64.2Z"/>
<path fill="#0043ff" d="M255.7,65.0 258.3,64.6 261.6,64.9 264.8,66.0 266.4,67.0 266.6,67.4 267.3,72.3 267.7,76.3 267.4,80.3 266.8,85.1 266.4,86.4 265.6,87.0 264.0,87.8 262.4,88.4 259.9,88.8 257.5,88.7 255.7,88.4 253.9,87.6 251.9,86.1 250.2,84.3 248.6,81.9 247.7,79.5 247.4,77.9 247.4,75.5 247.9,73.1 248.7,71.3 250.2,69.1 251.7,67.4 253.9,65.8 255.7,65.0ZM279.3,65.0 281.7,64.6 284.1,64.7 285.9,65.0 287.7,65.8 289.7,67.3 291.4,69.1 293.0,71.5 293.9,73.9 294.2,75.5 294.2,77.9 293.7,80.3 292.9,82.1 291.4,84.3 289.9,86.0 287.7,87.6 285.9,88.4 283.3,88.8 280.0,88.5 276.8,87.4 275.2,86.4 275.0,86.0 274.3,81.1 273.9,77.1 274.2,73.1 274.8,68.3 275.2,67.0 276.0,66.4 277.6,65.6 279.3,65.0Z"/>
<path fill="#0059ff" d="M258.7,65.0 260.8,65.1 263.2,65.6 264.8,66.2 266.4,67.2 266.7,68.3 267.6,75.5 267.6,77.9 267.4,80.3 266.7,85.1 266.4,86.2 264.8,87.2 263.2,87.8 259.9,88.4 257.5,88.2 255.8,87.6 253.5,86.2 251.9,84.8 250.3,82.8 249.4,81.1 248.8,79.5 248.4,77.1 248.6,74.7 249.0,73.1 249.8,71.5 251.1,69.5 252.7,67.9 255.1,66.2 256.7,65.5 258.7,65.0ZM281.5,65.0 283.3,65.1 285.7,65.8 287.3,66.7 289.3,68.3 290.8,69.9 292.2,72.3 292.8,73.9 293.2,76.3 293.0,78.7 292.6,80.3 291.8,81.9 290.5,83.9 288.9,85.5 286.5,87.2 284.9,87.9 282.9,88.4 280.8,88.3 278.4,87.8 276.8,87.2 275.2,86.2 274.9,85.1 274.0,77.9 274.0,75.5 274.2,73.1 274.9,68.3 275.2,67.2 277.6,65.9 279.2,65.4 281.5,65.0Z"/>
<path fill="#006fff" d="M258.0,65.8 260.8,65.5 263.2,65.9 264.8,66.5 266.4,67.4 266.6,68.3 267.6,76.3 267.5,78.7 266.6,85.1 266.4,86.0 265.6,86.5 264.0,87.3 262.4,87.7 260.8,87.9 258.3,87.7 256.2,86.8 254.3,85.6 252.8,84.3 251.4,82.7 250.5,81.1 249.6,78.7 249.4,77.1 249.6,74.7 250.1,73.1 251.1,71.2 252.1,69.9 253.7,68.3 255.9,66.8 258.0,65.8ZM278.6,65.8 280.8,65.5 283.3,65.7 284.9,66.4 286.8,67.4 288.8,69.1 290.2,70.7 291.1,72.3 292.0,74.7 292.2,76.3 292.0,78.7 291.1,81.1 290.2,82.7 288.8,84.3 287.3,85.6 285.4,86.8 283.3,87.7 280.8,87.9 278.4,87.5 276.8,86.9 275.2,86.0 275.0,85.1 274.0,77.1 274.1,74.7 275.0,68.3 275.2,67.4 276.8,66.5 278.6,65.8Z"/>
<path fill="#0084ff" d="M258.3,66.6 260.8,65.9 261.6,65.9 264.0,66.4 265.6,67.1 266.4,67.6 266.6,68.3 267.5,75.5 267.5,78.7 266.4,85.8 264.0,87.0 261.6,87.5 260.8,87.5 258.3,86.8 256.6,86.0 254.3,84.4 252.7,82.8 251.6,81.1 250.9,79.5 250.5,77.9 250.5,75.5 250.9,73.9 251.6,72.3 252.6,70.7 254.3,69.0 255.9,67.8 258.3,66.6ZM277.1,66.6 280.0,65.9 280.8,65.9 283.3,66.6 285.7,67.8 287.4,69.1 289.0,70.7 290.0,72.3 290.9,74.7 291.1,76.3 290.9,78.7 290.0,81.1 289.0,82.7 287.4,84.3 285.7,85.6 283.3,86.8 280.8,87.5 280.0,87.5 277.6,87.0 275.2,85.8 275.0,85.1 274.1,77.9 274.1,74.7 275.2,67.6 277.1,66.6Z"/>
<path fill="#009aff" d="M261.8,66.6 263.6,66.6 265.6,67.4 266.4,67.8 267.6,76.3 267.4,78.7 266.4,85.6 265.6,86.0 263.2,86.8 261.6,86.7 259.1,86.1 257.0,85.1 255.1,83.9 253.5,82.3 252.3,80.3 251.7,78.7 251.5,77.1 251.6,75.5 252.3,73.1 253.2,71.5 254.3,70.2 255.9,68.9 257.5,67.9 259.9,67.0 261.8,66.6ZM278.0,66.6 280.0,66.7 282.5,67.3 284.6,68.3 286.5,69.5 288.1,71.1 289.3,73.1 289.9,74.7 290.1,76.3 290.0,77.9 289.3,80.3 288.4,81.9 287.3,83.2 285.7,84.5 284.1,85.5 281.7,86.4 279.2,86.8 277.6,86.6 275.2,85.6 274.0,77.1 274.2,74.7 275.2,67.8 276.0,67.4 278.0,66.6Z"/>
<path fill="#00b0ff" d="M262.1,67.4 264.8,67.4 266.4,68.1 266.4,68.3 267.5,75.5 267.5,77.9 266.4,85.3 264.8,86.0 263.2,86.1 260.8,85.7 258.3,84.9 256.7,84.0 255.1,82.7 253.8,81.1 253.0,79.5 252.5,77.9 252.4,76.3 252.7,74.7 253.3,73.1 254.4,71.5 255.9,70.0 257.5,68.9 259.9,67.9 262.1,67.4ZM276.7,67.4 278.4,67.3 280.8,67.7 283.3,68.5 284.9,69.4 286.5,70.7 287.8,72.3 288.6,73.9 289.1,75.5 289.2,77.1 288.9,78.7 288.3,80.3 287.2,81.9 285.7,83.4 284.1,84.5 282.5,85.2 280.0,85.9 278.4,86.1 276.8,86.0 275.2,85.3 275.2,85.1 274.1,77.9 274.1,75.5 275.2,68.1 276.7,67.4Z"/>
<path fill="#00c5ff" d="M262.4,68.3 264.8,68.1 266.4,68.4 266.7,71.5 267.5,76.3 267.4,77.9 266.7,81.9 266.4,85.0 264.8,85.3 262.4,85.1 259.9,84.6 258.3,84.0 256.7,83.0 255.6,81.9 254.4,80.3 253.7,78.7 253.4,77.1 253.5,75.5 254.0,73.9 255.1,72.0 256.4,70.7 258.3,69.4 259.9,68.8 262.4,68.3ZM275.8,68.3 279.2,68.3 281.7,68.8 283.3,69.4 284.9,70.4 286.0,71.5 287.6,73.9 288.1,75.5 288.2,77.1 287.9,78.7 287.3,80.2 286.5,81.4 285.2,82.7 282.5,84.3 279.2,85.1 276.8,85.3 275.2,85.0 274.9,81.9 274.2,77.9 274.1,76.3 274.9,71.5 275.2,68.4 275.8,68.3Z"/>
<path fill="#00dbff" d="M263.1,69.1 266.4,69.2 267.5,76.3 267.4,77.9 266.6,81.9 266.4,84.2 264.8,84.4 262.4,84.3 259.9,83.7 258.3,83.0 256.8,81.9 255.9,81.0 255.0,79.5 254.4,77.9 254.3,76.3 254.7,74.7 255.1,73.6 256.0,72.3 257.5,70.9 259.1,70.0 260.8,69.5 263.1,69.1ZM276.2,69.1 279.2,69.1 282.5,70.0 284.9,71.6 285.7,72.4 286.6,73.9 287.3,76.3 287.2,77.9 286.6,79.5 285.7,81.0 284.9,81.8 282.5,83.4 279.2,84.3 276.8,84.4 275.2,84.2 275.0,81.9 274.2,77.9 274.1,76.3 275.2,69.2 276.2,69.1Z"/>
<path fill="#00f0ff" d="M259.9,70.7 261.6,70.2 263.2,69.9 266.4,70.1 267.4,76.3 267.4,77.9 266.4,83.3 263.2,83.5 259.9,82.8 257.5,81.4 256.0,79.5 255.6,78.7 255.3,77.1 255.6,74.7 256.5,73.1 257.3,72.3 258.3,71.4 259.9,70.7ZM275.2,70.7 275.2,70.1 276.0,70.0 278.4,69.9 280.0,70.2 282.5,71.0 284.1,72.0 284.9,72.9 286.0,74.7 286.3,77.1 286.0,78.7 285.6,79.5 284.1,81.4 282.5,82.4 280.0,83.2 277.6,83.5 275.2,83.3 274.2,77.1 274.4,74.7 275.2,70.7Z"/>
<path fill="#07fff8" d="M260.3,71.5 261.6,71.0 263.2,70.8 266.4,70.9 267.4,76.3 267.2,78.7 266.4,82.5 263.2,82.6 260.8,82.1 259.9,81.8 258.3,80.9 257.1,79.5 256.6,78.7 256.2,77.1 256.2,76.3 256.6,74.7 257.1,73.9 258.3,72.5 260.3,71.5ZM275.2,71.5 275.2,70.9 276.8,70.8 279.2,70.9 281.7,71.6 283.9,73.1 285.0,74.7 285.4,76.3 285.4,77.1 285.0,78.7 283.9,80.3 281.7,81.8 280.0,82.4 277.6,82.6 275.2,82.5 274.2,77.1 274.4,74.7 275.2,71.5Z"/>
<path fill="#1dffe2" d="M263.3,71.5 266.4,71.6 267.4,76.3 267.2,78.5 266.4,81.8 264.0,82.0 260.8,81.5 259.1,80.7 258.3,80.0 257.4,78.7 257.1,77.9 256.9,77.1 257.1,75.5 257.4,74.7 258.3,73.4 259.1,72.7 260.8,71.9 263.3,71.5ZM276.4,71.5 278.4,71.5 280.8,71.9 282.9,73.1 284.2,74.7 284.7,76.3 284.5,77.9 283.7,79.5 282.5,80.7 280.8,81.5 279.2,81.8 277.6,82.0 275.2,81.8 274.3,77.9 274.3,75.5 275.2,71.6 276.4,71.5Z"/>
<path fill="#32ffcd" d="M261.5,72.3 264.0,71.9 266.4,72.1 267.3,76.3 267.2,78.2 266.4,81.3 264.0,81.5 261.5,81.1 259.6,80.3 258.6,79.5 258.0,78.7 257.5,77.1 257.7,75.5 258.0,74.7 258.6,73.9 259.6,73.1 261.5,72.3ZM275.2,72.3 275.2,72.1 276.8,71.9 279.2,72.1 281.7,72.9 283.0,73.9 283.9,75.5 284.1,77.1 283.6,78.7 283.0,79.5 281.7,80.5 280.0,81.2 277.6,81.5 275.2,81.3 274.3,77.1 274.4,75.2 275.2,72.3Z"/>
<path fill="#48ffb7" d="M260.7,73.1 263.2,72.5 266.4,72.6 267.3,76.3 267.2,78.0 266.4,80.8 264.0,81.0 261.6,80.6 259.9,79.9 258.7,78.7 258.1,77.1 258.3,75.5 259.1,74.1 260.7,73.1ZM275.1,73.1 275.2,72.6 278.4,72.5 280.0,72.8 281.7,73.5 282.9,74.7 283.3,75.5 283.5,77.1 282.9,78.7 281.7,79.9 280.0,80.6 277.6,81.0 275.2,80.8 274.3,77.1 274.4,75.4 275.1,73.1Z"/>
<path fill="#5dffa2" d="M262.3,73.1 264.0,72.9 266.4,73.1 267.2,76.3 267.1,77.9 266.4,80.3 264.0,80.5 261.6,80.2 259.9,79.3 258.8,77.9 258.6,76.3 258.8,75.5 259.3,74.7 260.8,73.6 262.3,73.1ZM275.4,73.1 277.6,72.9 279.2,73.1 280.0,73.2 281.7,74.1 282.5,75.0 283.0,76.3 282.8,77.9 282.3,78.7 281.3,79.5 280.0,80.2 277.6,80.5 275.2,80.3 274.5,77.9 274.4,76.3 274.7,74.7 275.4,73.1Z"/>
<path fill="#73ff8c" d="M261.1,73.9 262.4,73.3 263.2,73.2 266.4,73.4 267.2,76.3 267.1,77.9 266.4,80.0 264.8,80.2 262.4,80.1 260.8,79.4 259.9,78.7 259.3,77.9 259.2,77.1 259.3,75.5 260.0,74.7 261.1,73.9ZM275.1,73.9 275.2,73.4 277.6,73.2 279.2,73.3 280.8,74.0 282.3,75.5 282.4,76.3 282.3,77.9 280.8,79.4 279.2,80.1 276.8,80.2 275.2,80.0 274.4,77.1 274.5,75.5 275.1,73.9Z"/>
<path fill="#89ff76" d="M261.8,73.9 262.4,73.6 264.0,73.4 266.4,73.7 267.2,76.3 267.0,77.9 266.4,79.7 264.8,80.0 262.4,79.8 260.8,79.1 259.6,77.9 259.4,77.1 259.6,75.5 260.8,74.3 261.8,73.9ZM275.2,73.9 275.2,73.7 276.0,73.5 278.4,73.4 279.2,73.6 280.8,74.3 282.0,75.5 282.2,76.3 282.0,77.9 280.8,79.1 279.2,79.8 276.8,80.0 275.2,79.7 274.4,77.1 274.6,75.5 275.2,73.9Z"/>
<path fill="#9eff61" d="M262.3,73.9 264.0,73.6 266.4,73.9 267.1,76.3 267.0,77.9 266.4,79.5 264.8,79.8 263.2,79.7 260.8,78.8 259.9,77.9 259.6,77.1 259.6,76.3 259.9,75.5 260.8,74.6 262.3,73.9ZM275.4,73.9 276.8,73.6 278.4,73.7 280.8,74.6 281.7,75.5 282.0,76.3 282.0,77.1 281.7,77.9 280.8,78.8 278.4,79.7 276.8,79.8 275.2,79.5 274.6,77.9 274.5,76.3 274.9,74.7 275.2,73.9 275.4,73.9Z"/>
<path fill="#b4ff4b" d="M263.2,73.9 264.8,73.8 266.4,74.1 267.1,76.3 266.9,77.9 266.4,79.3 264.8,79.6 262.4,79.4 261.0,78.7 260.2,77.9 259.8,77.1 259.8,76.3 260.2,75.5 261.6,74.3 263.2,73.9ZM276.3,73.9 278.4,73.9 279.2,74.0 280.6,74.7 281.4,75.5 281.8,76.3 281.8,77.1 281.4,77.9 280.6,78.7 279.2,79.4 276.8,79.6 275.2,79.3 274.5,77.1 274.7,75.5 275.2,74.1 276.3,73.9Z"/>
<path fill="#caff35" d="M261.3,74.7 262.4,74.2 264.0,74.0 266.4,74.3 267.0,76.3 266.9,77.9 266.4,79.1 264.8,79.4 263.2,79.4 261.6,78.9 260.8,78.3 260.1,77.1 260.1,76.3 260.4,75.5 261.3,74.7ZM275.1,74.7 275.2,74.3 276.8,74.0 279.2,74.2 280.3,74.7 281.2,75.5 281.5,76.3 281.5,77.1 280.8,78.3 279.2,79.2 276.8,79.4 275.2,79.1 274.6,77.1 274.7,75.5 275.1,74.7Z"/>
<path fill="#dfff20" d="M261.7,74.7 263.2,74.2 264.0,74.1 265.6,74.2 266.4,74.5 267.0,76.3 266.8,77.9 266.4,78.9 264.8,79.3 263.2,79.2 261.6,78.7 260.8,78.0 260.3,77.1 260.3,76.3 260.7,75.5 261.7,74.7ZM275.1,74.7 275.2,74.5 276.8,74.1 278.4,74.2 279.2,74.4 280.0,74.7 280.9,75.5 281.3,76.3 281.3,77.1 280.8,78.0 280.0,78.7 279.2,79.0 278.4,79.2 276.8,79.3 275.2,78.9 274.6,77.1 274.8,75.5 275.1,74.7Z"/>
<path fill="#f5ff0a" d="M262.1,74.7 264.0,74.2 265.6,74.3 266.4,74.6 266.9,76.3 266.7,77.9 266.4,78.8 264.8,79.2 263.2,79.1 261.6,78.5 260.9,77.9 260.5,77.1 260.5,76.3 260.9,75.5 262.1,74.7ZM275.2,74.7 276.8,74.2 278.4,74.3 279.2,74.6 280.0,74.9 280.7,75.5 281.1,76.3 281.1,77.1 280.7,77.9 280.0,78.5 278.4,79.1 276.8,79.2 275.2,78.8 274.7,77.1 274.9,75.5 275.2,74.7Z"/>
<path fill="#fff400" d="M262.5,74.7 263.2,74.4 264.8,74.3 266.4,74.8 266.9,76.3 266.9,77.1 266.4,78.6 264.8,79.1 263.2,79.0 261.6,78.3 261.1,77.9 260.7,77.1 260.7,76.3 261.1,75.5 262.5,74.7ZM275.5,74.7 276.8,74.3 277.6,74.3 278.4,74.4 280.0,75.1 280.5,75.5 280.9,76.3 280.9,77.1 280.5,77.9 280.0,78.3 278.4,79.0 276.8,79.1 275.2,78.6 274.7,77.1 274.7,76.3 275.2,74.8 275.5,74.7Z"/>
<path fill="#ffde00" d="M262.8,74.7 264.8,74.5 266.4,74.9 266.8,76.3 266.8,77.1 266.4,78.5 264.8,78.9 264.0,79.0 262.4,78.6 261.3,77.9 260.8,77.1 260.8,76.3 261.6,75.3 262.8,74.7ZM275.9,74.7 277.6,74.4 278.4,74.6 280.0,75.3 280.8,76.3 280.8,77.1 280.3,77.9 279.2,78.6 277.6,79.0 276.8,78.9 275.2,78.5 274.8,77.1 274.8,76.3 275.2,74.9 275.9,74.7Z"/>
<path fill="#ffc800" d="M263.3,74.7 264.8,74.6 266.4,75.0 266.8,76.3 266.8,77.1 266.4,78.4 264.8,78.8 264.0,78.8 262.4,78.4 261.5,77.9 261.0,77.1 261.0,76.3 261.6,75.4 263.3,74.7ZM276.4,74.7 277.6,74.6 278.4,74.7 280.0,75.4 280.6,76.3 280.6,77.1 280.1,77.9 279.2,78.4 277.6,78.8 276.8,78.8 275.2,78.4 274.8,77.1 275.0,75.5 275.2,75.0 276.4,74.7Z"/>
<path fill="#ffb300" d="M261.7,75.5 262.4,75.1 264.0,74.7 265.6,74.9 266.4,75.2 266.7,76.3 266.7,77.1 266.4,78.2 264.8,78.7 263.2,78.6 262.4,78.3 261.7,77.9 261.1,77.1 261.1,76.3 261.7,75.5ZM275.1,75.5 275.2,75.2 276.0,74.9 277.6,74.7 278.4,74.8 279.9,75.5 280.5,76.3 280.5,77.1 279.9,77.9 279.2,78.3 277.6,78.7 276.0,78.5 275.2,78.2 275.1,77.9 274.9,77.1 275.1,75.5Z"/>
<path fill="#ff9d00" d="M261.9,75.5 262.4,75.2 264.0,74.8 265.6,75.0 266.4,75.3 266.7,76.3 266.7,77.1 266.4,78.1 264.8,78.6 263.2,78.5 262.4,78.2 261.9,77.9 261.3,77.1 261.3,76.3 261.9,75.5ZM275.1,75.5 275.2,75.3 276.8,74.8 278.4,74.9 279.7,75.5 280.3,76.3 280.3,77.1 279.7,77.9 278.4,78.5 277.6,78.6 276.0,78.4 275.2,78.1 275.1,77.9 274.9,77.1 275.1,75.5Z"/>
<path fill="#ff8800" d="M262.0,75.5 264.0,74.9 265.6,75.1 266.4,75.4 266.6,76.3 266.4,78.0 264.8,78.5 263.2,78.4 262.4,78.1 261.4,77.1 261.4,76.3 262.0,75.5ZM275.2,75.5 276.8,74.9 278.4,75.0 279.6,75.5 280.0,76.1 280.2,77.1 279.6,77.9 278.4,78.4 277.6,78.5 276.0,78.3 275.2,77.9 275.0,77.1 275.2,75.5Z"/>
<path fill="#ff7200" d="M262.2,75.5 264.0,75.0 265.6,75.2 266.3,75.5 266.5,76.3 266.4,77.8 264.8,78.4 263.2,78.3 262.4,78.0 261.6,77.1 261.6,76.3 262.2,75.5ZM275.3,75.5 276.0,75.2 277.6,75.0 279.2,75.4 280.0,76.3 280.0,77.1 279.4,77.9 278.4,78.3 277.6,78.4 276.0,78.2 275.2,77.8 275.1,76.3 275.3,75.5Z"/>
<path fill="#ff5c00" d="M262.5,75.5 264.0,75.1 264.8,75.2 266.0,75.5 266.4,75.8 266.5,76.3 266.4,77.6 265.6,78.1 264.8,78.2 264.0,78.3 262.5,77.9 261.7,77.1 261.7,76.3 262.5,75.5ZM275.6,75.5 276.8,75.2 277.6,75.1 279.1,75.5 279.9,76.3 279.9,77.1 279.2,77.8 278.4,78.1 277.6,78.3 276.0,78.1 275.2,77.6 275.1,77.1 275.2,75.8 275.6,75.5Z"/>
<path fill="#ff4700" d="M262.8,75.5 264.0,75.2 265.8,75.5 266.4,76.0 266.4,77.4 265.8,77.9 264.8,78.1 262.8,77.9 261.9,77.1 261.9,76.3 262.8,75.5ZM275.8,75.5 277.6,75.2 278.8,75.5 279.7,76.3 279.7,77.1 279.2,77.6 278.4,78.0 276.8,78.1 275.8,77.9 275.2,77.4 275.2,77.1 275.2,76.0 275.8,75.5Z"/>
<path fill="#ff3100" d="M263.1,75.5 264.8,75.4 265.6,75.6 266.4,76.2 266.4,77.2 265.4,77.9 264.0,78.0 263.1,77.9 262.1,77.1 262.1,76.3 263.1,75.5ZM276.2,75.5 277.6,75.4 278.5,75.5 279.5,76.3 279.5,77.1 278.4,77.9 276.8,78.0 276.0,77.8 275.2,77.2 275.2,76.3 276.2,75.5Z"/>
<path fill="#ff1b00" d="M263.8,75.5 264.8,75.5 265.6,75.8 266.2,76.3 266.2,77.1 265.6,77.6 264.8,77.9 263.2,77.7 262.3,77.1 262.3,76.3 263.2,75.7 263.8,75.5ZM276.8,75.5 278.4,75.7 279.3,76.3 279.3,77.1 278.4,77.7 277.8,77.9 276.8,77.9 276.0,77.6 275.4,77.1 275.4,76.3 276.0,75.8 276.8,75.5Z"/>
<path fill="#ff0600" d="M262.6,76.3 263.2,75.9 264.0,75.6 264.8,75.7 266.0,76.3 266.0,77.1 264.8,77.7 264.0,77.8 263.2,77.5 262.6,77.1 262.6,76.3ZM275.6,76.3 276.8,75.7 277.6,75.6 278.4,75.9 279.0,76.3 279.0,77.1 278.4,77.5 277.6,77.8 276.8,77.7 275.6,77.1 275.6,76.3Z"/>
<path fill="#ef0000" d="M262.8,76.3 264.0,75.8 264.8,75.8 265.7,76.3 265.7,77.1 264.8,77.6 264.0,77.6 262.8,77.1 262.8,76.3ZM275.9,76.3 276.8,75.8 277.6,75.8 278.8,76.3 278.8,77.1 277.6,77.6 276.8,77.6 275.9,77.1 275.9,76.3Z"/>
<path fill="#da0000" d="M263.1,76.3 264.0,76.0 264.8,76.0 265.4,76.3 265.4,77.1 264.8,77.4 264.0,77.4 263.2,77.2 263.1,76.3ZM276.2,76.3 276.8,76.0 277.6,76.0 278.4,76.2 278.5,77.1 277.6,77.4 276.8,77.4 276.2,77.1 276.2,76.3Z"/>
<path fill="#c40000" d="M263.5,76.3 264.0,76.1 265.0,76.3 265.0,77.1 264.0,77.3 263.5,77.1 263.5,76.3ZM276.6,76.3 277.6,76.1 278.1,76.3 278.1,77.1 277.6,77.3 276.6,77.1 276.6,76.3Z"/>
</g></g>
<rect x="211.4" y="18.0" width="17.3" height="13.2" fill="#fff" fill-opacity="0.5"/>
<text x="214.5" y="27.9" font-family="'Liberation Serif',serif" font-size="9.2" fill="#1a1a1a">(b)</text>
<rect x="333.2" y="18.0" width="8.4" height="117.4" fill="url(#gj)"/>
<g font-family="'Liberation Sans',sans-serif" font-size="7" fill="#262626" stroke="#262626" stroke-width="0.15">
<text x="344.5" y="20.6">130</text>
<text x="344.5" y="37.4">120</text>
<text x="344.5" y="54.1">110</text>
<text x="344.5" y="70.9">100</text>
<text x="344.5" y="87.7">90</text>
<text x="344.5" y="104.5">80</text>
<text x="344.5" y="121.2">70</text>
<text x="344.5" y="138.0">60</text>
</g>
<g font-family="'Liberation Sans',sans-serif" font-size="8.0" fill="#262626" stroke="#262626" stroke-width="0.18">
<text x="233.3" y="146.3" text-anchor="middle">-5</text>
<text x="270.8" y="146.3" text-anchor="middle">0</text>
<text x="307.9" y="146.3" text-anchor="middle">5</text>
<text x="209.4" y="43.0" text-anchor="end" font-size="8.0">5</text>
<text x="209.4" y="79.7" text-anchor="end" font-size="8.0">0</text>
<text x="209.4" y="116.4" text-anchor="end" font-size="8.0">-5</text>
</g>
<text transform="translate(198.8,76.7) rotate(-90)" text-anchor="middle" font-family="'Liberation Sans',sans-serif" font-size="9.2" fill="#262626" stroke="#262626" stroke-width="0.2">Z (<tspan fill="#777" stroke="none">×</tspan> r)</text>
<g clip-path="url(#c02)"><g filter="url(#bl)">
<rect x="402.2" y="14.0" width="126.8" height="125.4" fill="#fff"/>
<path fill="#ececff" d="M464.8,18.4 465.2,17.6 466.0,17.6 466.4,18.4 466.6,20.0 466.0,21.3 465.2,21.3 464.9,20.8 464.6,20.0 464.8,18.4ZM455.2,74.7 455.6,74.3 456.4,74.2 458.0,75.0 459.9,77.1 460.2,77.9 460.2,78.7 459.6,79.3 458.8,79.2 457.2,78.0 455.6,76.3 455.2,75.5 455.2,74.7ZM470.4,74.7 470.8,74.4 471.6,74.5 472.4,74.8 474.0,76.3 475.3,77.9 475.4,78.7 474.8,79.4 474.0,79.4 473.2,79.1 471.1,77.1 470.2,75.5 470.4,74.7ZM464.8,112.5 465.2,112.1 466.0,112.1 466.4,112.5 466.7,113.3 466.5,114.1 466.0,114.7 465.2,114.7 464.7,114.1 464.5,113.3 464.8,112.5Z"/>
<path fill="#dfdfff" d="M456.2,74.7 457.2,74.9 458.9,76.3 459.9,77.9 459.6,78.7 458.8,78.7 458.0,78.4 456.5,77.1 455.9,76.3 455.7,75.5 456.2,74.7ZM470.7,75.5 470.8,75.2 471.6,74.9 472.4,75.1 473.2,75.7 474.5,77.1 474.8,77.9 474.8,78.7 474.0,79.0 472.4,78.2 471.4,77.1 470.7,75.5Z"/>
<path fill="#d2d2ff" d="M455.9,75.5 456.4,75.0 457.2,75.1 458.7,76.3 459.3,77.1 459.5,77.9 458.8,78.5 458.0,78.2 456.7,77.1 456.2,76.3 455.9,75.5ZM471.1,75.5 471.6,75.1 472.4,75.4 473.6,76.3 474.2,77.1 474.6,77.9 474.0,78.7 473.2,78.5 471.7,77.1 471.1,76.3 471.1,75.5Z"/>
<path fill="#c6c6ff" d="M456.2,75.5 456.4,75.3 457.2,75.3 458.0,75.8 459.1,77.1 459.2,77.9 458.8,78.2 458.0,77.9 457.2,77.3 456.4,76.3 456.2,75.5ZM471.5,75.5 471.6,75.4 472.4,75.6 473.3,76.3 474.0,77.1 474.3,77.9 474.0,78.4 473.2,78.3 471.9,77.1 471.3,76.3 471.5,75.5Z"/>
<path fill="#b9b9ff" d="M457.0,75.5 458.3,76.3 458.9,77.1 458.9,77.9 458.0,77.7 457.2,77.1 456.6,76.3 457.0,75.5ZM471.5,76.3 471.6,75.9 472.4,75.8 473.8,77.1 474.1,77.9 473.2,78.1 472.0,77.1 471.5,76.3Z"/>
<path fill="#acacff" d="M456.8,76.3 457.2,75.7 458.0,76.1 458.7,77.1 458.0,77.6 456.8,76.3ZM471.8,76.3 472.4,76.0 473.2,76.6 473.7,77.1 473.4,77.9 472.4,77.4 471.8,76.3Z"/>
<path fill="#9f9fff" d="M456.9,76.3 457.2,76.0 458.0,76.3 458.4,77.1 458.0,77.4 456.9,76.3ZM472.1,76.3 472.4,76.1 473.2,76.8 473.5,77.1 473.2,77.6 472.3,77.1 472.1,76.3Z"/>
<path fill="#9393ff" d="M457.1,76.3 457.3,76.3 457.1,76.3ZM457.8,77.1 458.0,76.8 458.1,77.1 457.8,77.1ZM472.8,77.1 473.3,77.1 473.2,77.3 472.8,77.1Z"/>
</g></g>
<rect x="406.20" y="17.70" width="118.8" height="117.7" fill="none" stroke="#c4c4c4" stroke-width="0.7"/>
<rect x="406.2" y="18.0" width="17.3" height="13.2" fill="#fff" fill-opacity="0.5"/>
<text x="409.3" y="27.9" font-family="'Liberation Serif',serif" font-size="9.2" fill="#1a1a1a">(c)</text>
<rect x="528.2" y="18.0" width="8.4" height="117.4" fill="url(#gb)"/>
<g font-family="'Liberation Sans',sans-serif" font-size="7" fill="#262626" stroke="#262626" stroke-width="0.15">
<text x="539.1" y="20.6">5</text>
<text x="539.1" y="79.3">0</text>
<text x="538.3" y="138.0">-5</text>
</g>
<g font-family="'Liberation Sans',sans-serif" font-size="8.0" fill="#262626" stroke="#262626" stroke-width="0.18">
<text x="428.1" y="146.3" text-anchor="middle">-5</text>
<text x="465.6" y="146.3" text-anchor="middle">0</text>
<text x="502.7" y="146.3" text-anchor="middle">5</text>
<text x="404.2" y="43.0" text-anchor="end" font-size="8.0">5</text>
<text x="404.2" y="79.7" text-anchor="end" font-size="8.0">0</text>
<text x="404.2" y="116.4" text-anchor="end" font-size="8.0">-5</text>
</g>
<text transform="translate(393.6,76.7) rotate(-90)" text-anchor="middle" font-family="'Liberation Sans',sans-serif" font-size="9.2" fill="#262626" stroke="#262626" stroke-width="0.2">Z (<tspan fill="#777" stroke="none">×</tspan> r)</text>
<g clip-path="url(#c10)"><g filter="url(#bl)">
<rect x="21.0" y="160.3" width="126.8" height="125.4" fill="#00008b"/>
<path fill="#0000ab" d="M61.6,197.7 64.7,197.0 67.1,197.1 68.7,197.3 71.9,198.4 75.2,200.4 78.4,203.6 80.4,206.5 82.1,209.7 82.4,210.9 82.8,211.3 83.2,213.8 83.6,214.6 83.8,215.4 84.0,220.2 83.8,229.8 83.6,231.4 83.2,232.2 82.8,234.7 82.4,235.1 82.1,236.3 79.4,241.1 77.6,243.3 76.0,244.9 74.4,246.2 71.9,247.6 69.5,248.5 67.9,248.9 65.5,249.0 63.9,248.9 60.7,248.0 57.5,246.4 54.1,243.5 51.6,240.3 49.1,235.5 47.6,230.6 46.9,226.6 46.8,221.8 47.3,217.0 48.2,212.9 49.8,208.9 51.6,205.7 53.4,203.3 54.9,201.7 58.3,199.1 61.6,197.7ZM98.8,197.7 100.1,197.3 102.5,197.0 104.9,197.1 106.5,197.4 108.9,198.3 110.5,199.1 113.7,201.6 116.6,204.9 119.0,208.9 120.6,212.9 121.4,216.2 121.9,219.4 122.0,224.2 121.4,229.8 120.3,233.9 118.2,238.7 117.2,240.3 115.4,242.7 113.7,244.4 112.1,245.8 108.9,247.7 106.5,248.6 104.9,248.9 101.7,248.9 99.3,248.5 96.1,247.2 92.8,244.9 91.2,243.3 89.4,241.1 87.5,237.9 86.7,236.3 86.4,235.1 86.0,234.7 85.6,232.2 85.2,231.4 85.0,230.6 84.8,225.8 84.9,217.0 85.2,214.6 85.6,213.8 86.0,211.3 86.4,210.9 86.7,209.7 88.4,206.5 89.4,204.9 91.2,202.7 94.4,199.8 96.9,198.4 98.8,197.7Z"/>
<path fill="#0000c1" d="M65.2,198.5 67.1,198.4 68.7,198.5 71.9,199.4 75.2,201.3 77.6,203.4 80.0,206.5 81.8,209.7 82.8,212.1 83.2,214.5 83.5,215.4 83.8,217.8 83.9,225.8 83.7,229.8 82.8,233.9 81.0,237.9 78.4,241.7 76.8,243.4 75.2,244.7 73.5,245.8 71.1,246.9 69.5,247.3 67.1,247.6 63.9,247.3 61.9,246.7 60.1,245.9 57.5,244.2 55.8,242.7 54.4,241.1 51.8,237.1 50.2,233.3 49.1,229.0 48.6,224.2 48.7,219.4 49.7,214.6 51.1,210.5 53.2,206.5 55.8,203.3 58.7,200.9 61.9,199.3 65.2,198.5ZM100.6,198.5 104.1,198.5 107.3,199.4 110.5,201.2 112.1,202.5 113.7,204.1 115.4,206.2 116.6,208.1 118.4,212.1 119.7,217.0 120.2,221.8 120.1,226.6 119.1,231.4 117.4,236.3 115.4,239.8 112.9,242.7 109.7,245.3 106.5,246.9 104.1,247.5 102.5,247.6 99.3,247.3 96.9,246.6 93.6,244.7 91.2,242.6 88.8,239.5 87.0,236.3 86.0,233.9 85.6,231.5 85.3,230.6 85.0,228.2 84.9,220.2 85.1,216.2 86.0,212.1 87.8,208.1 90.4,204.3 92.0,202.6 93.6,201.3 96.9,199.4 98.5,198.9 100.6,198.5Z"/>
<path fill="#0000d6" d="M64.6,200.1 67.9,199.7 71.1,200.2 74.4,201.6 76.8,203.4 79.2,205.9 81.6,209.8 82.8,212.9 83.7,217.8 83.7,228.2 82.8,233.1 81.6,236.2 79.2,240.1 77.6,241.9 76.0,243.3 72.7,245.2 71.1,245.8 68.7,246.2 65.5,246.1 62.3,245.2 59.4,243.5 56.7,241.0 54.3,237.9 52.3,233.9 51.1,229.8 50.5,225.8 50.4,221.0 50.9,217.0 52.0,212.9 53.8,208.9 56.0,205.7 58.4,203.3 61.5,201.2 64.6,200.1ZM98.2,200.1 100.1,199.8 101.7,199.7 104.9,200.2 108.2,201.7 111.3,204.1 114.0,207.3 116.2,211.3 117.5,215.4 118.3,220.2 118.4,225.0 117.7,229.8 116.5,233.9 114.5,237.9 112.1,241.1 110.5,242.6 108.9,243.8 105.7,245.5 102.5,246.2 99.3,246.1 96.9,245.5 93.6,243.9 91.2,241.9 88.8,239.0 87.2,236.2 86.0,233.1 85.1,228.2 85.1,217.8 86.0,212.9 87.2,209.8 89.6,205.9 92.0,203.4 93.6,202.1 95.3,201.2 98.2,200.1Z"/>
<path fill="#0000ec" d="M64.5,201.7 66.3,201.2 67.9,201.0 71.1,201.3 73.5,202.1 75.2,202.9 76.8,204.1 79.2,206.5 81.6,210.2 82.7,212.9 83.6,217.8 83.6,228.2 82.7,233.1 81.6,235.8 79.2,239.5 76.8,241.9 75.2,243.1 73.5,243.9 70.3,244.9 67.1,244.9 63.9,244.1 60.7,242.4 58.4,240.3 56.4,237.9 54.6,234.7 53.1,230.6 52.3,226.6 52.1,222.6 52.4,218.6 53.1,215.4 54.6,211.3 56.4,208.1 59.1,205.0 61.5,203.1 64.5,201.7ZM96.4,201.7 99.3,201.0 102.5,201.2 105.7,202.2 108.9,204.3 111.8,207.3 114.2,211.3 115.7,215.4 116.5,219.4 116.7,223.4 116.4,227.4 115.2,232.3 113.4,236.3 111.2,239.5 108.1,242.4 104.9,244.1 101.7,244.9 98.5,244.9 95.3,243.9 92.8,242.5 90.4,240.4 88.8,238.4 87.2,235.8 86.1,233.1 85.2,228.2 85.2,217.8 86.1,212.9 86.7,211.3 88.0,208.8 90.4,205.6 92.0,204.1 93.6,202.9 96.4,201.7Z"/>
<path fill="#0003ff" d="M66.1,202.5 68.7,202.1 71.9,202.4 75.2,203.7 77.6,205.4 80.0,208.1 81.6,210.6 82.5,212.9 83.6,217.8 83.6,228.2 82.5,233.1 81.6,235.4 79.2,238.9 76.8,241.2 75.2,242.3 73.5,243.1 70.3,243.9 67.1,243.7 64.7,243.1 62.3,241.8 59.6,239.5 57.1,236.3 55.5,233.1 54.4,229.8 53.7,225.8 53.5,221.8 54.0,217.8 55.1,213.7 56.6,210.5 58.3,208.0 60.7,205.4 63.1,203.7 66.1,202.5ZM96.6,202.5 98.5,202.1 100.1,202.1 103.3,202.7 106.3,204.1 108.9,206.2 111.2,208.9 113.0,212.1 114.4,216.2 115.1,220.2 115.2,225.0 114.6,229.0 113.3,233.1 111.7,236.3 109.2,239.5 106.5,241.8 104.1,243.1 100.9,243.9 97.7,243.8 95.3,243.1 92.8,241.8 90.4,239.8 88.8,237.9 87.2,235.4 86.3,233.1 85.2,228.2 85.2,217.8 86.3,212.9 87.2,210.6 88.8,208.1 91.2,205.4 93.6,203.7 96.6,202.5Z"/>
<path fill="#0018ff" d="M67.9,203.3 71.1,203.2 73.5,203.7 76.0,204.9 78.4,206.8 80.0,208.6 81.6,211.0 82.6,213.7 83.5,217.8 83.6,222.6 83.5,228.2 82.6,232.3 81.6,235.0 79.2,238.4 76.8,240.6 75.2,241.6 73.5,242.3 71.9,242.7 70.3,242.9 67.1,242.5 64.7,241.7 62.3,240.1 59.9,237.8 57.8,234.7 56.4,231.4 55.5,228.2 55.0,224.2 55.1,220.2 55.6,217.0 56.7,213.7 58.2,210.5 60.0,208.1 62.5,205.7 65.3,204.1 67.9,203.3ZM97.1,203.3 100.1,203.2 103.3,204.0 105.7,205.3 108.1,207.3 110.5,210.5 112.1,213.7 113.2,217.0 113.8,221.0 113.8,225.0 113.2,229.0 112.1,232.3 110.5,235.5 108.1,238.7 105.7,240.7 103.3,242.0 100.1,242.8 97.7,242.8 95.3,242.3 92.8,241.1 90.4,239.2 88.8,237.4 87.2,235.0 86.2,232.3 85.3,228.2 85.2,223.4 85.3,217.8 86.2,213.7 87.2,211.0 88.8,208.6 91.2,206.0 92.8,204.9 94.4,204.1 97.1,203.3Z"/>
<path fill="#002eff" d="M66.6,204.9 69.5,204.2 71.9,204.2 73.5,204.6 75.2,205.2 77.6,206.7 80.0,209.0 81.6,211.4 82.5,213.7 83.4,217.8 83.5,222.6 83.4,228.2 82.5,232.3 81.6,234.6 80.0,237.0 77.6,239.3 75.2,240.8 73.5,241.4 71.9,241.8 69.5,241.8 66.6,241.1 63.9,239.6 61.9,237.9 59.9,235.5 58.6,233.1 57.3,229.8 56.6,226.6 56.4,223.4 56.6,219.4 57.3,216.2 58.6,212.9 59.9,210.5 61.9,208.1 63.9,206.4 66.6,204.9ZM94.3,204.9 96.9,204.2 98.5,204.2 100.1,204.3 101.7,204.7 103.3,205.4 105.7,207.0 108.1,209.5 109.8,212.1 111.2,215.4 112.2,219.4 112.4,222.6 112.2,226.6 111.2,230.6 109.8,233.9 108.1,236.5 105.7,239.0 103.3,240.6 101.7,241.3 100.1,241.7 97.7,241.8 95.3,241.4 92.8,240.4 90.4,238.7 88.8,237.0 87.2,234.6 86.3,232.3 85.4,228.2 85.3,223.4 85.4,217.8 86.4,213.2 87.2,211.4 88.0,210.1 89.6,208.1 92.0,206.1 94.3,204.9Z"/>
<path fill="#0043ff" d="M68.0,205.7 69.5,205.3 71.1,205.2 73.5,205.4 76.0,206.3 78.4,207.9 80.0,209.5 81.6,211.8 82.4,213.7 83.3,217.8 83.4,222.6 83.3,228.2 82.4,232.3 81.6,234.2 80.0,236.5 77.6,238.7 75.2,240.1 72.7,240.7 70.3,240.8 67.9,240.3 65.5,239.1 63.0,237.1 61.1,234.7 59.7,232.3 58.6,229.0 57.9,225.8 57.8,222.6 58.0,219.4 58.8,216.2 60.1,212.9 61.6,210.5 63.8,208.1 66.1,206.5 68.0,205.7ZM94.3,205.7 96.9,205.2 98.5,205.2 100.1,205.5 102.5,206.4 105.0,208.1 107.2,210.5 108.9,213.4 110.2,217.0 110.9,220.2 111.0,224.2 110.6,227.4 109.7,230.6 108.2,233.9 106.5,236.3 103.9,238.7 102.5,239.6 100.9,240.3 98.5,240.8 96.1,240.7 93.6,240.1 91.2,238.7 89.6,237.4 87.2,234.2 86.4,232.3 85.5,228.2 85.4,223.4 85.5,217.8 86.4,213.6 87.2,211.8 89.6,208.6 92.0,206.7 94.3,205.7Z"/>
<path fill="#0059ff" d="M69.3,206.5 71.9,206.2 74.4,206.5 76.8,207.4 78.4,208.5 80.0,210.0 81.6,212.2 82.4,213.9 83.2,217.8 83.4,222.6 83.2,228.2 82.4,232.1 81.6,233.8 80.0,236.0 77.6,238.1 75.2,239.3 72.7,239.8 70.3,239.7 67.9,239.0 65.9,237.9 63.9,236.1 62.2,233.9 60.9,231.4 59.8,228.2 59.2,225.0 59.2,221.8 59.6,218.6 60.5,215.4 61.7,212.9 63.1,210.8 64.9,208.9 67.1,207.4 69.3,206.5ZM94.3,206.5 96.9,206.2 99.3,206.5 101.7,207.4 104.1,209.1 106.1,211.3 107.9,214.6 109.0,217.8 109.6,221.0 109.6,224.2 109.2,227.4 108.3,230.6 106.6,233.9 104.7,236.3 102.5,238.1 100.1,239.3 97.7,239.8 95.3,239.7 93.6,239.3 91.2,238.1 89.6,236.8 87.2,233.8 86.4,232.1 85.6,228.2 85.4,223.4 85.6,217.8 86.4,213.9 87.2,212.2 89.6,209.2 92.0,207.4 94.3,206.5Z"/>
<path fill="#006fff" d="M70.8,207.3 72.7,207.1 75.2,207.5 77.6,208.5 79.2,209.7 80.8,211.4 81.6,212.5 82.4,214.3 83.1,217.8 83.3,222.6 83.1,228.2 82.7,230.6 82.1,232.3 81.6,233.5 80.8,234.6 78.4,236.9 76.0,238.2 73.5,238.8 71.1,238.8 68.7,238.0 67.0,237.1 65.1,235.5 63.2,233.1 62.0,230.6 61.2,228.2 60.6,225.0 60.5,221.8 60.8,219.4 61.7,216.2 62.8,213.7 64.4,211.3 66.3,209.5 68.4,208.1 70.8,207.3ZM94.4,207.3 96.9,207.2 99.3,207.7 101.7,208.9 103.7,210.5 105.6,212.9 106.8,215.4 107.6,217.8 108.2,221.0 108.3,224.2 107.8,227.4 106.8,230.6 105.6,233.1 103.7,235.5 101.7,237.1 99.3,238.3 96.9,238.8 94.4,238.7 92.8,238.2 91.2,237.5 89.6,236.3 88.0,234.6 87.2,233.5 86.4,231.7 85.7,228.2 85.5,223.4 85.7,217.8 86.4,214.3 87.2,212.5 88.0,211.4 89.6,209.7 92.0,208.1 94.4,207.3Z"/>
<path fill="#0084ff" d="M72.8,208.1 75.2,208.3 76.8,208.8 79.2,210.3 80.8,211.9 81.6,212.9 82.6,215.4 83.1,217.8 83.2,221.8 83.1,228.2 82.4,231.4 81.6,233.1 80.0,235.0 77.6,236.8 76.0,237.5 73.5,237.9 71.1,237.6 69.5,237.1 67.1,235.5 65.5,233.9 63.9,231.4 62.8,229.0 62.2,226.6 61.9,223.4 62.1,220.2 62.6,217.8 63.5,215.4 64.9,212.9 66.3,211.2 68.7,209.3 71.1,208.4 72.8,208.1ZM95.1,208.1 96.9,208.2 99.3,208.9 101.7,210.5 103.3,212.1 104.9,214.6 106.0,217.0 106.6,219.4 106.9,222.6 106.7,225.8 106.2,228.2 105.3,230.6 103.9,233.1 102.5,234.8 100.1,236.7 98.5,237.4 96.1,237.9 93.6,237.7 92.0,237.2 89.6,235.7 88.0,234.1 87.2,233.1 86.2,230.6 85.7,228.2 85.6,225.8 85.7,217.8 86.4,214.6 87.2,212.9 88.8,211.0 91.2,209.2 92.8,208.5 95.1,208.1Z"/>
<path fill="#009aff" d="M70.6,209.7 71.9,209.2 74.4,209.0 76.0,209.2 78.4,210.2 80.0,211.5 81.6,213.3 82.4,214.9 82.7,216.2 83.1,219.4 83.1,225.0 83.0,228.2 82.4,231.1 81.6,232.7 80.0,234.5 78.4,235.8 76.0,236.8 74.4,237.0 71.9,236.8 70.3,236.2 68.7,235.3 67.2,233.9 65.9,232.3 64.2,229.0 63.5,226.6 63.2,224.2 63.2,221.8 63.5,219.4 64.2,217.0 64.9,215.4 66.5,212.9 68.7,210.7 70.6,209.7ZM91.5,209.7 93.6,209.1 96.1,209.1 97.7,209.5 100.1,210.7 101.6,212.1 102.9,213.7 104.6,217.0 105.3,219.4 105.6,222.6 105.4,225.8 104.6,229.0 103.9,230.6 102.3,233.1 100.8,234.7 99.3,235.8 96.9,236.8 95.3,237.0 93.6,236.9 92.0,236.5 90.4,235.8 88.8,234.5 87.2,232.7 86.4,231.1 86.1,229.8 85.7,226.6 85.6,221.8 85.8,217.8 86.3,215.4 87.2,213.3 88.0,212.3 89.6,210.8 91.5,209.7Z"/>
<path fill="#00b0ff" d="M73.5,209.7 75.2,209.7 77.6,210.3 79.2,211.2 80.8,212.6 81.6,213.6 82.4,215.2 82.8,217.0 83.0,219.4 83.0,226.6 82.8,229.0 82.4,230.8 81.6,232.4 80.8,233.4 79.2,234.8 77.6,235.7 75.2,236.3 73.5,236.3 71.1,235.6 69.5,234.7 67.7,233.1 66.5,231.4 65.3,229.0 64.6,226.6 64.3,224.2 64.3,221.8 64.6,219.4 65.3,217.0 66.5,214.6 67.9,212.7 69.5,211.3 71.1,210.4 73.5,209.7ZM93.4,209.7 95.3,209.7 97.7,210.4 99.3,211.3 101.1,212.9 102.3,214.6 103.5,217.0 104.2,219.4 104.6,222.6 104.5,225.0 104.0,227.4 103.1,229.8 101.7,232.3 100.3,233.9 98.5,235.2 96.9,235.9 94.4,236.3 92.0,236.0 90.4,235.3 88.8,234.2 87.2,232.4 86.4,230.8 86.1,229.8 85.7,225.8 85.8,219.4 86.0,217.0 86.4,215.2 87.2,213.6 88.0,212.6 89.6,211.2 91.2,210.3 93.4,209.7Z"/>
<path fill="#00c5ff" d="M73.1,210.5 75.2,210.3 76.8,210.5 78.4,211.1 80.0,212.2 81.6,213.9 82.4,215.4 82.8,217.8 83.0,225.0 82.8,228.2 82.4,230.6 81.6,232.1 80.0,233.8 78.4,234.9 76.0,235.6 73.5,235.6 71.9,235.1 70.3,234.2 69.0,233.1 67.7,231.4 66.7,229.8 65.8,227.4 65.3,225.0 65.2,222.6 65.4,220.2 66.1,217.8 67.1,215.4 68.3,213.7 69.9,212.1 71.1,211.3 73.1,210.5ZM92.1,210.5 94.4,210.3 96.1,210.6 97.7,211.3 99.8,212.9 101.1,214.6 102.4,217.0 103.2,219.4 103.6,221.8 103.6,224.2 103.2,226.6 102.4,229.0 101.1,231.4 99.8,233.1 97.7,234.7 96.1,235.4 94.4,235.7 92.8,235.6 91.2,235.2 88.8,233.8 87.2,232.1 86.4,230.6 86.0,228.2 85.8,221.0 86.0,217.8 86.4,215.4 87.2,213.9 88.8,212.2 90.4,211.1 92.1,210.5Z"/>
<path fill="#00dbff" d="M73.1,211.3 74.4,211.0 76.0,211.0 77.6,211.3 79.2,212.0 80.8,213.3 81.6,214.1 82.4,215.6 82.7,217.0 83.0,220.2 83.0,224.2 82.8,228.2 82.4,230.4 81.6,231.9 80.0,233.4 78.4,234.4 76.8,234.9 75.2,235.0 73.5,234.8 71.9,234.2 70.3,233.1 68.8,231.4 67.8,229.8 66.8,227.4 66.3,225.0 66.2,222.6 66.4,220.2 67.1,217.8 67.8,216.2 68.8,214.6 70.3,212.9 71.4,212.1 73.1,211.3ZM91.1,211.3 92.8,211.0 95.3,211.2 96.9,211.8 98.5,212.9 100.0,214.6 101.0,216.2 102.0,218.6 102.5,221.0 102.6,223.4 102.4,225.8 101.7,228.2 100.9,230.1 100.0,231.4 98.5,233.1 96.9,234.2 94.4,235.0 92.8,235.0 91.2,234.7 88.8,233.4 87.2,231.9 86.4,230.4 86.1,229.0 85.8,222.6 85.9,219.4 86.3,216.2 87.2,214.1 88.0,213.3 89.6,212.0 91.1,211.3Z"/>
<path fill="#00f0ff" d="M73.2,212.1 74.4,211.8 76.0,211.6 77.6,211.8 79.2,212.5 80.8,213.6 81.6,214.4 82.4,215.8 82.6,217.0 82.9,220.2 83.0,224.2 82.7,228.2 82.4,230.2 81.6,231.6 80.0,233.1 78.4,233.9 76.8,234.3 75.2,234.4 73.5,234.0 71.9,233.2 70.8,232.3 69.4,230.6 68.5,229.0 67.8,227.4 67.3,225.0 67.1,223.4 67.3,221.0 67.8,218.6 68.5,217.0 69.4,215.4 70.8,213.7 71.9,212.8 73.2,212.1ZM90.3,212.1 92.0,211.7 94.4,211.8 96.1,212.4 97.7,213.4 99.3,215.2 100.3,217.0 101.0,218.6 101.5,221.0 101.7,223.4 101.4,225.8 100.7,228.2 99.9,229.8 98.8,231.4 97.0,233.1 95.3,234.0 93.6,234.4 91.2,234.2 88.8,233.1 87.2,231.6 86.4,230.2 86.2,229.0 85.8,222.6 86.0,219.4 86.3,216.2 87.2,214.4 88.0,213.6 90.3,212.1Z"/>
<path fill="#07fff8" d="M73.4,212.9 74.4,212.5 76.0,212.2 78.4,212.5 80.0,213.3 80.8,213.9 81.6,214.7 82.4,216.2 82.8,219.4 82.9,222.6 82.8,226.6 82.4,229.8 81.6,231.3 80.8,232.1 80.0,232.7 77.6,233.7 76.0,233.8 74.4,233.5 71.9,232.1 70.5,230.6 69.5,229.0 68.8,227.4 68.2,225.0 68.1,223.4 68.2,221.0 69.1,217.8 70.0,216.2 71.1,214.7 71.9,213.9 73.4,212.9ZM89.5,212.9 91.2,212.3 93.6,212.3 95.3,212.9 96.9,213.9 98.3,215.4 99.3,217.0 100.0,218.6 100.6,221.0 100.7,222.6 100.6,225.0 100.0,227.4 99.3,229.0 98.3,230.6 96.9,232.1 95.3,233.1 93.6,233.7 91.2,233.7 88.8,232.7 87.2,231.3 86.4,229.8 86.0,226.6 85.9,223.4 86.0,219.4 86.4,216.2 87.2,214.7 88.8,213.3 89.5,212.9Z"/>
<path fill="#1dffe2" d="M75.0,212.9 76.0,212.7 77.6,212.7 80.0,213.6 81.6,214.9 82.4,216.4 82.5,217.0 82.9,223.4 82.4,229.6 81.6,231.1 80.8,231.9 79.2,232.8 77.6,233.3 76.0,233.3 75.2,233.1 73.5,232.5 72.2,231.4 70.3,229.0 69.3,226.6 69.0,225.0 68.8,223.4 69.0,221.0 69.3,219.4 70.3,217.0 72.2,214.6 73.5,213.5 75.0,212.9ZM90.4,212.9 92.0,212.7 93.6,212.9 95.3,213.5 96.6,214.6 98.0,216.2 98.9,217.8 99.5,219.4 99.9,221.8 99.9,224.2 99.5,226.6 98.9,228.2 98.0,229.8 96.6,231.4 95.3,232.5 92.8,233.3 91.2,233.3 88.8,232.4 87.2,231.1 86.4,229.6 86.3,229.0 85.9,222.6 86.4,216.4 87.2,214.9 88.0,214.1 88.8,213.6 90.4,212.9Z"/>
<path fill="#32ffcd" d="M74.5,213.7 76.8,213.2 79.2,213.5 80.8,214.4 81.6,215.1 82.4,216.7 82.8,222.6 82.7,225.8 82.4,229.3 81.6,230.9 80.8,231.6 79.2,232.5 77.6,232.8 76.0,232.7 74.5,232.3 73.1,231.4 71.9,230.4 70.9,229.0 70.2,227.4 69.7,225.8 69.4,224.2 69.4,221.8 70.2,218.6 70.9,217.0 71.9,215.6 73.1,214.6 74.5,213.7ZM89.1,213.7 89.6,213.5 92.0,213.2 94.3,213.7 95.7,214.6 96.9,215.6 97.9,217.0 98.6,218.6 99.1,220.2 99.4,221.8 99.4,224.2 98.9,226.6 98.3,228.2 97.7,229.3 96.1,231.2 94.4,232.2 92.8,232.7 91.2,232.8 89.6,232.5 89.1,232.3 87.2,230.9 86.4,229.3 86.0,223.4 86.4,217.0 87.2,215.1 89.1,213.7Z"/>
<path fill="#48ffb7" d="M77.2,213.7 79.2,213.8 81.6,215.3 82.4,217.2 82.6,219.4 82.8,224.2 82.3,229.0 81.6,230.7 79.2,232.2 78.7,232.3 77.2,232.3 76.0,232.0 74.4,231.4 72.7,230.2 71.1,228.2 70.3,226.1 70.0,224.2 70.1,221.0 70.5,219.4 71.1,217.8 72.4,216.2 73.5,215.1 75.2,214.3 77.2,213.7ZM90.1,213.7 92.0,213.8 93.6,214.3 95.3,215.1 96.4,216.2 97.7,217.8 98.0,218.6 98.6,220.2 98.9,222.6 98.8,224.2 98.5,226.1 97.7,228.2 96.9,229.4 95.5,230.6 94.4,231.4 92.8,232.0 91.2,232.3 89.6,232.2 87.2,230.7 86.4,228.8 86.1,225.8 86.1,221.0 86.5,217.0 87.2,215.3 89.6,213.8 90.1,213.7Z"/>
<path fill="#5dffa2" d="M77.0,214.6 78.4,214.5 80.0,214.7 81.6,215.8 82.4,217.9 82.6,219.4 82.7,224.2 82.4,228.1 81.6,230.2 80.0,231.3 78.4,231.5 76.0,231.2 74.6,230.6 73.4,229.8 72.6,229.0 71.5,227.4 70.9,225.8 70.6,224.2 70.7,221.0 71.1,219.3 71.9,217.8 72.7,216.8 74.4,215.5 76.0,214.8 77.0,214.6ZM89.7,214.6 91.2,214.5 92.8,214.8 94.2,215.4 95.4,216.2 96.2,217.0 97.3,218.6 97.9,220.2 98.2,221.8 98.1,225.0 97.7,226.7 96.8,228.2 96.1,229.2 94.4,230.5 92.8,231.2 91.2,231.5 88.8,231.3 87.2,230.2 86.4,228.1 86.2,226.6 86.1,221.8 86.4,217.9 87.2,215.8 88.8,214.7 89.7,214.6Z"/>
<path fill="#73ff8c" d="M76.8,215.4 79.2,215.3 80.8,215.9 81.6,216.3 82.4,218.4 82.7,222.6 82.4,227.6 81.6,229.7 80.0,230.5 79.2,230.7 76.8,230.6 76.0,230.4 74.4,229.6 73.5,229.0 72.3,227.4 71.3,225.0 71.1,223.4 71.3,221.0 72.3,218.6 73.5,217.0 74.4,216.4 76.0,215.6 76.8,215.4ZM89.6,215.4 92.0,215.4 92.8,215.6 94.4,216.4 95.3,217.0 96.5,218.6 97.3,220.2 97.7,221.8 97.5,225.0 96.9,226.6 96.1,228.1 95.2,229.0 93.6,230.1 92.8,230.4 91.2,230.8 88.8,230.5 87.2,229.7 86.4,227.6 86.3,226.6 86.1,222.6 86.4,218.4 87.2,216.3 88.8,215.5 89.6,215.4Z"/>
<path fill="#89ff76" d="M76.1,216.2 76.8,215.8 78.4,215.7 80.8,216.4 81.6,217.1 82.4,218.9 82.6,222.6 82.4,227.1 81.6,228.9 80.8,229.6 79.2,230.2 77.6,230.3 75.2,229.5 73.6,228.2 72.4,226.6 71.6,224.2 71.6,221.8 72.4,219.4 74.4,217.1 75.2,216.5 76.1,216.2ZM88.9,216.2 89.6,215.8 91.2,215.7 93.6,216.5 95.2,217.8 96.4,219.4 97.2,221.8 97.2,224.2 96.4,226.6 94.4,228.9 93.6,229.5 92.0,230.2 90.4,230.3 88.0,229.6 87.2,228.9 86.4,227.1 86.2,223.4 86.4,218.9 87.2,217.1 88.0,216.4 88.9,216.2Z"/>
<path fill="#9eff61" d="M77.4,216.2 78.4,216.1 80.0,216.5 81.6,217.4 82.4,219.3 82.5,220.2 82.5,225.0 82.4,226.7 82.1,227.4 81.6,228.6 80.8,229.2 78.4,229.9 77.6,229.9 76.0,229.5 75.2,229.1 74.0,228.2 73.3,227.4 72.4,225.8 71.8,223.4 72.1,221.0 72.4,220.2 73.3,218.6 75.2,216.9 77.4,216.2ZM90.2,216.2 91.2,216.1 92.8,216.5 93.6,216.9 94.8,217.8 95.5,218.6 96.4,220.2 97.0,222.6 96.7,225.0 96.4,225.8 95.5,227.4 93.6,229.1 91.2,229.9 90.4,229.9 88.8,229.5 87.2,228.6 86.4,226.7 86.3,225.8 86.3,221.0 86.4,219.3 86.7,218.6 87.2,217.4 88.0,216.8 90.2,216.2Z"/>
<path fill="#b4ff4b" d="M75.7,217.0 77.6,216.4 79.2,216.5 80.0,216.8 81.6,217.8 82.2,219.4 82.5,222.6 82.4,226.1 81.6,228.2 80.0,229.2 79.2,229.5 77.6,229.6 76.0,229.2 74.4,228.2 73.5,227.3 72.7,225.8 72.1,223.4 72.4,221.0 73.1,219.4 73.6,218.6 74.4,217.8 75.7,217.0ZM88.4,217.0 90.4,216.4 92.0,216.6 93.1,217.0 94.4,217.8 95.2,218.6 95.7,219.4 96.4,221.0 96.7,222.6 96.6,224.2 95.7,226.6 94.4,228.2 93.1,229.0 92.0,229.4 91.2,229.6 89.6,229.5 88.0,228.8 87.2,228.2 86.6,226.6 86.3,223.4 86.4,219.9 87.2,217.8 88.4,217.0Z"/>
<path fill="#caff35" d="M76.4,217.0 78.4,216.7 79.6,217.0 80.8,217.5 81.6,218.1 82.3,220.2 82.5,224.2 82.1,226.6 81.6,227.9 80.8,228.5 79.2,229.2 77.6,229.3 76.8,229.2 74.9,228.2 73.4,226.6 72.5,224.2 72.5,221.8 73.4,219.4 74.9,217.8 76.4,217.0ZM89.2,217.0 91.2,216.7 92.8,217.1 93.6,217.6 94.4,218.2 95.4,219.4 96.3,221.8 96.3,224.2 95.4,226.6 93.9,228.2 92.0,229.2 91.2,229.3 89.6,229.2 88.0,228.5 87.2,227.9 86.5,225.8 86.3,221.8 86.7,219.4 87.2,218.1 88.0,217.5 89.2,217.0Z"/>
<path fill="#dfff20" d="M75.4,217.8 76.8,217.1 78.4,217.0 80.0,217.4 81.6,218.6 82.4,221.5 82.3,225.0 81.6,227.5 80.0,228.6 79.2,228.9 77.6,229.0 76.0,228.6 74.4,227.4 73.3,225.8 72.6,223.4 72.9,221.0 73.7,219.4 74.4,218.6 75.4,217.8ZM88.1,217.8 89.6,217.1 91.2,217.0 92.0,217.1 93.4,217.8 94.4,218.6 95.5,220.2 96.2,222.6 95.9,225.0 95.3,226.4 94.4,227.4 92.8,228.6 91.2,229.0 89.6,228.9 88.1,228.2 87.2,227.4 86.4,224.5 86.4,221.5 87.2,218.5 88.1,217.8Z"/>
<path fill="#f5ff0a" d="M75.9,217.8 77.6,217.3 79.2,217.4 80.8,218.2 81.6,218.9 81.8,219.4 82.2,221.0 82.4,222.6 82.0,225.8 81.6,227.1 81.3,227.4 80.1,228.2 79.2,228.6 77.6,228.7 75.9,228.2 74.4,227.0 73.2,225.0 72.9,223.4 73.2,221.0 74.4,219.0 75.9,217.8ZM88.7,217.8 90.4,217.3 92.0,217.4 92.8,217.7 94.4,219.0 95.6,221.0 95.9,223.4 95.3,225.8 94.0,227.4 92.9,228.2 92.0,228.6 90.4,228.7 88.8,228.3 87.5,227.4 87.0,226.6 86.5,224.2 86.6,221.0 87.2,218.9 88.7,217.8Z"/>
<path fill="#fff400" d="M76.6,217.8 78.4,217.6 80.0,218.0 81.6,219.3 81.9,220.2 82.2,223.4 82.0,225.0 81.6,226.6 80.8,227.5 79.2,228.3 77.6,228.4 76.8,228.3 75.2,227.4 73.8,225.8 73.3,224.2 73.3,221.8 73.8,220.2 75.2,218.6 76.6,217.8ZM89.4,217.8 91.2,217.6 92.2,217.8 93.6,218.6 95.0,220.2 95.5,221.8 95.5,224.2 95.0,225.8 93.6,227.4 92.0,228.3 90.4,228.4 88.8,228.0 87.2,226.7 86.9,225.8 86.6,222.6 86.8,221.0 87.2,219.4 88.0,218.5 89.4,217.8Z"/>
<path fill="#ffde00" d="M75.7,218.6 76.8,218.0 77.6,217.9 79.2,218.0 80.4,218.6 81.6,219.7 82.1,222.6 81.9,225.0 81.6,226.3 80.8,227.1 80.0,227.7 78.4,228.1 76.8,228.0 75.2,227.0 74.4,226.1 73.8,225.0 73.4,223.4 73.5,221.7 74.4,219.9 75.7,218.6ZM88.4,218.6 89.6,218.0 90.4,217.9 92.0,218.0 93.6,219.0 94.4,219.9 95.0,221.0 95.4,222.6 95.3,224.2 95.0,225.0 94.4,226.1 93.6,227.0 92.0,228.0 91.2,228.1 89.6,228.0 88.4,227.4 87.2,226.3 86.7,223.4 86.9,221.0 87.2,219.7 88.4,218.6Z"/>
<path fill="#ffc800" d="M76.3,218.6 77.6,218.2 79.2,218.3 80.8,219.3 81.6,220.2 82.0,222.6 81.9,224.2 81.6,225.8 80.8,226.7 79.2,227.7 77.6,227.8 76.0,227.3 75.1,226.6 74.1,225.0 73.7,223.4 73.8,221.8 74.1,221.0 75.1,219.4 76.3,218.6ZM89.0,218.6 90.4,218.2 92.0,218.3 93.6,219.3 94.7,221.0 95.1,222.6 95.0,224.2 94.7,225.0 93.6,226.7 92.0,227.7 91.2,227.8 89.6,227.7 88.0,226.7 87.2,225.8 86.8,223.4 86.9,221.8 87.2,220.2 88.0,219.3 89.0,218.6Z"/>
<path fill="#ffb300" d="M77.1,218.6 78.4,218.5 80.0,219.0 81.2,220.2 81.6,220.8 81.8,221.8 81.8,223.4 81.6,225.2 80.8,226.3 80.0,227.0 78.4,227.5 76.8,227.3 75.6,226.6 74.4,225.0 74.0,223.4 74.1,221.8 74.8,220.2 76.0,219.1 77.1,218.6ZM89.9,218.6 91.7,218.6 93.2,219.4 94.4,221.0 94.8,222.6 94.7,224.2 94.0,225.8 92.8,226.9 91.2,227.5 89.6,227.4 88.3,226.6 87.2,225.2 87.0,224.2 87.0,222.6 87.2,220.8 88.3,219.4 89.9,218.6Z"/>
<path fill="#ff9d00" d="M76.0,219.4 77.6,218.8 79.2,218.9 80.0,219.4 80.8,220.1 81.4,221.0 81.7,222.6 81.6,224.4 80.8,225.9 80.0,226.6 79.2,227.1 77.6,227.2 76.8,227.0 76.0,226.6 75.2,225.8 74.7,225.0 74.2,223.4 74.4,221.8 75.2,220.2 76.0,219.4ZM88.8,219.4 90.4,218.8 92.0,219.0 92.8,219.4 93.6,220.2 94.1,221.0 94.6,222.6 94.4,224.2 93.6,225.8 92.8,226.6 92.0,227.0 91.2,227.2 89.6,227.1 88.8,226.6 88.0,225.9 87.4,225.0 87.1,223.4 87.2,221.6 87.9,220.2 88.8,219.4Z"/>
<path fill="#ff8800" d="M76.6,219.4 77.6,219.1 79.2,219.3 80.5,220.2 81.4,221.8 81.5,223.4 81.1,225.0 80.0,226.3 79.2,226.7 77.6,226.9 76.6,226.6 75.5,225.8 74.6,224.2 74.5,222.6 75.0,221.0 75.5,220.2 76.6,219.4ZM89.4,219.4 90.4,219.1 92.0,219.3 93.3,220.2 94.2,221.8 94.3,223.4 93.8,225.0 92.8,226.2 92.0,226.7 90.4,226.9 89.4,226.6 88.3,225.8 87.4,224.2 87.3,222.6 87.7,221.0 88.3,220.2 89.4,219.4Z"/>
<path fill="#ff7200" d="M77.6,219.4 79.2,219.6 80.0,220.1 80.7,221.0 81.3,222.6 81.1,224.2 80.7,225.0 80.0,225.9 79.2,226.4 78.4,226.6 76.8,226.4 76.0,225.8 75.3,225.0 74.8,223.4 74.9,221.8 75.3,221.0 76.0,220.2 76.8,219.6 77.6,219.4ZM90.4,219.4 91.2,219.4 92.0,219.6 92.8,220.2 93.5,221.0 94.0,222.6 93.9,224.2 93.5,225.0 92.8,225.8 92.0,226.4 91.2,226.6 89.6,226.4 88.8,225.9 88.1,225.0 87.5,223.4 87.7,221.8 88.1,221.0 88.8,220.1 89.6,219.6 90.4,219.4Z"/>
<path fill="#ff5c00" d="M76.4,220.2 77.6,219.7 78.4,219.6 79.2,219.9 80.0,220.5 80.8,221.7 81.0,222.6 80.8,224.2 80.0,225.5 79.2,226.1 78.4,226.4 77.6,226.3 76.8,226.0 76.0,225.4 75.2,224.2 75.0,223.4 75.2,221.8 75.6,221.0 76.4,220.2ZM89.2,220.2 90.4,219.6 91.2,219.7 92.0,220.0 92.8,220.6 93.6,221.8 93.8,222.6 93.6,224.2 92.8,225.4 92.0,226.0 91.2,226.3 90.4,226.4 89.2,225.8 88.4,225.0 88.0,224.2 87.8,222.6 88.4,221.0 89.2,220.2Z"/>
<path fill="#ff4700" d="M77.0,220.2 77.6,219.9 78.4,219.9 79.2,220.2 80.0,220.8 80.6,221.8 80.7,222.6 80.6,224.2 80.0,225.2 79.2,225.8 78.4,226.1 77.6,226.1 76.8,225.7 76.0,225.0 75.5,224.2 75.3,223.4 75.5,221.8 76.0,221.0 77.0,220.2ZM89.7,220.2 90.4,219.9 91.2,219.9 92.0,220.3 92.8,221.0 93.3,221.8 93.5,222.6 93.3,224.2 92.8,225.0 92.0,225.7 91.2,226.1 90.4,226.1 89.6,225.8 88.8,225.2 88.2,224.2 88.1,223.4 88.2,221.8 88.8,220.8 89.7,220.2Z"/>
<path fill="#ff3100" d="M76.2,221.0 76.8,220.5 77.6,220.2 78.4,220.2 79.2,220.5 80.0,221.2 80.5,222.6 80.5,223.4 80.0,224.8 79.2,225.5 78.4,225.8 77.6,225.8 76.8,225.5 76.0,224.6 75.7,224.2 75.6,222.6 75.7,221.8 76.2,221.0ZM89.0,221.0 89.6,220.5 90.4,220.2 91.2,220.2 92.0,220.5 92.8,221.4 93.1,221.8 93.2,222.6 93.1,224.2 92.0,225.5 91.2,225.8 90.4,225.8 89.6,225.5 88.8,224.8 88.3,223.4 88.3,222.6 88.5,221.8 89.0,221.0Z"/>
<path fill="#ff1b00" d="M76.6,221.0 77.6,220.4 78.4,220.4 79.2,220.7 80.0,221.6 80.3,222.6 80.3,223.4 80.0,224.4 79.2,225.3 78.4,225.6 77.6,225.6 76.8,225.2 76.0,224.2 76.0,221.8 76.6,221.0ZM89.3,221.0 90.4,220.4 91.2,220.4 92.0,220.8 92.8,221.8 92.8,224.2 92.0,225.2 91.2,225.6 90.4,225.6 89.6,225.3 88.8,224.4 88.5,223.4 88.5,222.6 88.7,221.8 89.3,221.0Z"/>
<path fill="#ff0600" d="M76.9,221.0 77.6,220.7 78.4,220.7 79.2,221.0 80.0,222.2 80.1,223.4 79.8,224.2 79.2,225.0 78.4,225.3 77.6,225.3 76.9,225.0 76.3,224.2 76.3,221.8 76.9,221.0ZM89.7,221.0 90.4,220.7 91.2,220.7 91.9,221.0 92.5,221.8 92.5,224.2 91.9,225.0 91.2,225.3 90.4,225.3 89.6,225.0 88.8,223.8 88.7,223.4 88.8,222.2 89.7,221.0Z"/>
<path fill="#ef0000" d="M77.4,221.0 78.4,220.9 79.2,221.4 79.8,222.6 79.8,223.4 79.5,224.2 79.2,224.6 78.4,225.1 77.4,225.0 76.6,224.2 76.6,221.8 77.4,221.0ZM90.2,221.0 91.2,220.9 92.2,221.8 92.2,224.2 91.2,225.1 90.4,225.1 89.6,224.6 89.0,223.4 89.0,222.6 89.3,221.8 90.2,221.0Z"/>
<path fill="#da0000" d="M77.5,221.8 78.4,221.4 79.2,221.8 79.5,222.6 79.5,223.4 79.2,224.3 78.4,224.6 77.5,224.2 77.5,221.8ZM89.6,221.8 90.4,221.4 91.3,221.8 91.4,223.4 91.2,224.3 90.4,224.6 89.6,224.2 89.3,223.4 89.3,222.6 89.6,221.8Z"/>
<path fill="#c40000" d="M78.8,222.6 79.2,222.5 79.2,223.5 78.8,223.4 78.8,222.6ZM89.6,222.6 89.6,222.5 90.0,222.6 90.0,223.4 89.6,223.5 89.6,222.6Z"/>
</g></g>
<rect x="25.0" y="164.3" width="17.3" height="13.2" fill="#fff" fill-opacity="0.5"/>
<text x="28.1" y="174.2" font-family="'Liberation Serif',serif" font-size="9.2" fill="#1a1a1a">(d)</text>
<rect x="146.8" y="164.3" width="8.4" height="117.4" fill="url(#gj)"/>
<g font-family="'Liberation Sans',sans-serif" font-size="7" fill="#262626" stroke="#262626" stroke-width="0.15">
<text x="158.1" y="166.9">130</text>
<text x="158.1" y="183.7">120</text>
<text x="158.1" y="200.4">110</text>
<text x="158.1" y="217.2">100</text>
<text x="158.1" y="234.0">90</text>
<text x="158.1" y="250.8">80</text>
<text x="158.1" y="267.5">70</text>
<text x="158.1" y="284.3">60</text>
</g>
<g font-family="'Liberation Sans',sans-serif" font-size="8.0" fill="#262626" stroke="#262626" stroke-width="0.18">
<text x="46.9" y="292.2" text-anchor="middle">-5</text>
<text x="84.4" y="292.2" text-anchor="middle">0</text>
<text x="121.5" y="292.2" text-anchor="middle">5</text>
<text x="23.0" y="189.3" text-anchor="end" font-size="8.0">5</text>
<text x="23.0" y="226.0" text-anchor="end" font-size="8.0">0</text>
<text x="23.0" y="262.7" text-anchor="end" font-size="8.0">-5</text>
</g>
<text transform="translate(12.4,223.0) rotate(-90)" text-anchor="middle" font-family="'Liberation Sans',sans-serif" font-size="9.2" fill="#262626" stroke="#262626" stroke-width="0.2">Z (<tspan fill="#777" stroke="none">×</tspan> r)</text>
<g clip-path="url(#c11)"><g filter="url(#bl)">
<rect x="207.4" y="160.3" width="126.8" height="125.4" fill="#00008b"/>
<path fill="#0000ab" d="M249.1,199.3 250.3,198.9 252.7,198.6 255.9,198.8 259.1,199.9 261.6,201.3 263.2,202.6 264.8,204.3 267.5,208.1 267.7,208.9 268.3,209.7 268.8,211.3 269.3,212.1 269.6,214.1 270.1,215.4 270.4,220.2 270.2,229.8 269.9,231.4 269.6,231.9 269.3,233.9 268.8,234.7 268.3,236.3 265.9,240.3 264.0,242.6 262.4,244.1 259.1,246.1 256.7,247.0 255.1,247.3 253.5,247.4 251.1,247.3 247.9,246.3 244.7,244.4 242.3,242.2 239.6,238.7 237.9,235.5 236.3,230.6 235.6,226.6 235.4,222.6 235.7,218.6 236.3,215.4 237.0,212.9 238.7,208.9 240.7,205.7 243.1,203.0 246.3,200.5 249.1,199.3ZM284.0,199.3 285.7,198.8 287.3,198.6 288.9,198.6 291.3,198.9 293.7,199.7 295.3,200.5 298.5,203.0 300.3,204.9 301.5,206.5 303.7,210.5 305.3,215.4 306.0,219.4 306.2,223.4 305.9,227.4 305.3,230.6 304.6,233.1 302.9,237.1 300.3,241.1 297.7,243.7 295.3,245.5 293.7,246.3 290.5,247.3 288.1,247.4 284.9,247.0 281.7,245.7 279.2,244.1 276.8,241.7 274.1,237.9 273.9,237.1 273.3,236.3 272.8,234.7 272.3,233.9 272.0,231.9 271.5,230.6 271.2,225.8 271.3,217.8 271.5,215.4 272.0,214.1 272.3,212.1 272.8,211.3 273.3,209.7 273.9,208.9 274.1,208.1 275.7,205.7 277.6,203.4 279.2,201.9 280.8,200.8 282.5,199.9 284.0,199.3Z"/>
<path fill="#0000c1" d="M251.8,200.1 255.1,199.9 258.3,200.6 261.6,202.2 264.0,204.1 266.4,207.1 268.3,210.5 269.3,212.9 270.0,216.2 270.2,217.8 270.1,229.0 269.0,233.9 268.0,236.2 265.6,240.0 264.0,241.9 262.4,243.3 259.1,245.1 257.5,245.7 255.1,246.1 251.9,246.0 248.7,244.9 245.5,242.9 243.1,240.6 240.7,237.1 239.1,233.9 237.9,229.8 237.2,225.0 237.2,220.2 237.9,216.2 239.1,212.1 240.7,208.9 242.8,205.7 245.5,203.1 248.7,201.1 251.8,200.1ZM285.1,200.1 287.3,199.8 288.9,199.9 292.1,200.7 295.3,202.5 298.1,204.9 300.5,208.1 302.5,212.1 303.7,216.2 304.4,221.0 304.4,225.8 303.5,230.6 302.2,234.7 300.1,238.4 297.7,241.5 296.1,242.9 294.5,244.1 291.3,245.6 288.1,246.1 284.9,245.9 282.5,245.1 279.2,243.3 276.8,241.0 274.4,237.7 272.6,233.9 271.6,229.8 271.4,228.2 271.5,217.0 272.3,212.9 273.3,210.5 275.2,207.1 276.8,205.0 278.4,203.4 280.0,202.2 281.7,201.2 283.3,200.6 285.1,200.1Z"/>
<path fill="#0000d6" d="M251.3,201.7 254.3,201.1 257.5,201.4 260.8,202.6 263.2,204.1 265.6,206.6 267.2,208.8 268.1,210.5 269.1,212.9 270.1,217.8 270.1,228.2 269.1,233.1 268.1,235.5 267.2,237.2 265.6,239.4 263.2,241.9 261.6,243.0 259.9,243.8 256.7,244.8 253.5,244.8 250.3,244.0 247.9,242.7 245.1,240.3 242.6,237.1 240.9,233.9 239.8,230.6 239.0,226.6 238.8,222.6 239.1,218.6 240.0,214.6 241.5,210.9 243.7,207.3 245.9,204.9 248.7,202.8 251.3,201.7ZM283.0,201.7 284.9,201.2 286.5,201.1 289.7,201.5 292.9,202.8 295.7,204.9 298.5,208.1 300.3,211.3 301.8,215.4 302.6,219.4 302.8,224.2 302.4,228.2 301.3,232.3 299.5,236.3 297.3,239.5 294.5,242.1 291.3,244.0 288.1,244.8 284.9,244.8 282.5,244.2 280.8,243.4 279.2,242.5 276.8,240.4 275.2,238.4 273.5,235.5 272.5,233.1 271.5,228.2 271.5,217.8 272.5,212.9 273.5,210.5 275.2,207.6 277.6,204.8 280.0,203.0 283.0,201.7Z"/>
<path fill="#0000ec" d="M254.1,202.5 256.7,202.4 259.1,202.8 262.4,204.3 264.8,206.3 266.4,208.2 268.0,210.7 269.0,212.9 270.0,217.8 270.1,222.6 270.0,228.2 269.0,233.1 268.0,235.3 267.2,236.7 265.6,238.9 264.0,240.5 262.4,241.7 259.1,243.2 256.7,243.6 253.5,243.4 251.9,243.0 250.3,242.3 247.9,240.7 245.8,238.7 243.5,235.5 242.0,232.3 240.9,228.2 240.4,224.2 240.5,221.0 241.1,217.0 242.0,213.7 244.0,209.7 246.3,206.8 248.7,204.7 250.3,203.7 251.9,203.0 254.1,202.5ZM284.0,202.5 286.5,202.3 289.7,203.0 291.3,203.7 292.9,204.7 295.8,207.3 298.1,210.5 299.6,213.7 300.7,217.8 301.2,221.8 301.0,225.8 300.3,229.8 298.9,233.9 297.0,237.1 294.5,240.0 292.1,241.8 289.7,243.0 286.5,243.7 284.1,243.5 281.7,242.9 279.2,241.7 276.8,239.7 275.2,237.8 273.6,235.3 272.6,233.1 271.6,228.2 271.5,223.4 271.6,217.8 272.6,212.9 273.6,210.7 275.2,208.2 277.6,205.5 279.2,204.3 280.8,203.4 282.5,202.8 284.0,202.5Z"/>
<path fill="#0003ff" d="M252.4,204.1 255.1,203.4 256.7,203.3 258.3,203.5 259.9,203.9 261.6,204.6 264.0,206.1 266.4,208.6 268.0,211.1 269.1,213.7 269.9,217.8 270.1,222.6 269.9,228.2 269.1,232.3 268.0,234.9 266.4,237.4 264.0,239.9 261.6,241.4 259.9,242.1 258.3,242.5 256.7,242.7 255.1,242.6 252.7,242.0 250.3,240.8 247.9,239.0 245.6,236.3 244.2,233.9 242.9,230.6 242.0,226.6 241.8,223.4 242.0,219.4 242.7,216.2 243.9,212.9 245.6,209.7 247.6,207.3 250.3,205.2 252.4,204.1ZM281.1,204.1 284.1,203.4 285.7,203.3 287.3,203.5 288.9,204.0 290.5,204.7 292.9,206.3 295.4,208.9 297.4,212.1 298.7,215.4 299.6,219.4 299.8,223.4 299.5,227.4 298.4,231.4 297.0,234.7 294.7,237.9 292.1,240.3 289.2,241.9 286.5,242.6 284.1,242.6 281.7,242.1 279.2,241.0 276.8,239.2 275.2,237.4 273.6,234.9 272.5,232.3 271.7,228.2 271.5,223.4 271.7,217.8 272.8,212.9 274.4,209.7 276.0,207.7 278.4,205.5 281.1,204.1Z"/>
<path fill="#0018ff" d="M253.7,204.9 256.7,204.3 259.1,204.5 261.6,205.3 264.0,206.7 266.4,209.1 268.0,211.4 269.0,213.7 269.8,217.8 270.0,222.6 269.8,228.2 269.0,232.3 268.0,234.6 266.4,236.9 264.0,239.3 261.6,240.7 259.9,241.3 258.3,241.6 255.9,241.6 253.5,241.1 251.1,239.9 248.7,237.9 246.7,235.5 244.9,232.3 243.9,229.0 243.3,225.8 243.1,222.6 243.4,219.4 244.1,216.2 245.3,212.9 246.7,210.5 248.7,208.1 251.1,206.1 253.7,204.9ZM281.0,204.9 284.1,204.3 286.5,204.5 288.1,204.9 289.7,205.7 292.1,207.3 294.3,209.7 296.3,212.9 297.5,216.2 298.3,220.2 298.5,224.2 297.9,228.2 297.0,231.4 295.4,234.7 293.7,237.1 291.0,239.5 288.1,241.1 285.7,241.6 283.3,241.6 280.8,241.0 278.4,239.8 276.8,238.6 275.2,236.9 273.6,234.6 272.6,232.3 271.8,228.2 271.6,223.4 271.7,218.6 272.8,213.2 274.4,210.2 276.0,208.2 278.4,206.2 281.0,204.9Z"/>
<path fill="#002eff" d="M254.9,205.7 257.5,205.3 259.9,205.5 262.4,206.4 264.8,208.0 266.4,209.6 268.0,211.8 268.8,213.7 269.7,217.8 269.9,222.6 269.7,228.2 268.8,232.3 268.0,234.2 266.4,236.4 264.0,238.7 261.6,240.0 259.1,240.6 256.7,240.7 254.3,240.1 251.9,238.9 249.7,237.1 247.7,234.7 246.4,232.3 245.2,229.0 244.6,225.8 244.4,222.6 244.7,219.4 245.5,216.2 246.8,212.9 248.3,210.5 250.3,208.3 252.7,206.6 254.9,205.7ZM281.0,205.7 282.5,205.4 284.1,205.3 286.5,205.6 288.9,206.6 291.3,208.3 293.3,210.5 295.2,213.7 296.4,217.0 297.0,220.2 297.1,224.2 296.7,227.4 295.9,230.6 294.4,233.9 292.6,236.3 290.0,238.7 287.3,240.1 284.9,240.7 282.5,240.6 280.0,240.0 277.6,238.7 276.0,237.3 273.6,234.2 272.8,232.3 271.9,228.2 271.7,223.4 271.8,218.6 272.8,213.6 273.6,211.8 274.4,210.6 276.0,208.7 278.4,206.8 281.0,205.7Z"/>
<path fill="#0043ff" d="M256.2,206.5 258.3,206.2 260.8,206.5 263.2,207.5 265.6,209.2 267.2,211.0 268.0,212.2 268.8,213.9 269.7,218.6 269.8,223.4 269.6,228.2 268.8,232.1 268.0,233.8 266.4,236.0 264.0,238.1 261.6,239.2 259.1,239.7 256.7,239.6 254.3,238.9 251.9,237.4 250.3,235.8 248.7,233.7 247.2,230.6 246.4,228.2 245.8,225.0 245.8,221.8 246.2,218.6 247.2,215.4 248.3,212.9 250.0,210.5 251.9,208.6 254.0,207.3 256.2,206.5ZM280.9,206.5 282.5,206.3 284.1,206.3 286.5,206.8 288.9,208.0 290.9,209.7 292.8,212.1 294.1,214.6 295.2,217.8 295.8,221.0 295.8,224.2 295.4,227.4 294.4,230.6 292.8,233.9 290.9,236.3 288.9,238.0 286.5,239.2 284.1,239.7 281.7,239.6 280.0,239.2 277.6,238.1 276.0,236.8 274.4,235.0 273.6,233.8 272.8,232.1 271.9,227.4 271.8,223.4 271.9,218.6 272.8,213.9 273.6,212.2 274.4,211.0 276.0,209.2 278.4,207.5 280.9,206.5Z"/>
<path fill="#0059ff" d="M257.5,207.3 259.1,207.2 261.6,207.5 264.0,208.6 265.6,209.7 267.2,211.4 268.0,212.5 268.8,214.3 269.6,218.6 269.8,223.4 269.5,228.2 268.8,231.7 268.0,233.5 266.4,235.5 264.8,236.9 262.4,238.2 259.9,238.8 257.5,238.7 255.9,238.3 253.6,237.1 251.7,235.5 249.8,233.1 248.5,230.6 247.7,228.2 247.1,225.0 247.1,221.8 247.5,218.6 248.2,216.2 249.5,213.4 250.9,211.3 252.7,209.6 255.1,208.0 257.5,207.3ZM280.9,207.3 283.3,207.2 285.7,207.7 288.0,208.9 289.9,210.5 291.8,212.9 293.1,215.4 294.1,218.6 294.5,221.8 294.5,225.0 294.1,227.4 293.1,230.6 291.8,233.1 289.9,235.5 288.0,237.1 285.7,238.3 283.3,238.8 280.8,238.7 279.2,238.2 276.8,236.9 275.2,235.5 273.6,233.5 272.8,231.7 272.0,227.4 271.8,223.4 271.9,219.4 272.2,217.0 272.8,214.3 273.6,212.5 274.4,211.4 276.0,209.7 278.4,208.1 280.9,207.3Z"/>
<path fill="#006fff" d="M259.0,208.1 260.8,208.1 263.2,208.8 265.6,210.3 267.2,211.9 268.0,212.9 269.0,215.4 269.5,217.8 269.7,221.0 269.5,228.2 268.8,231.4 268.0,233.1 266.4,235.0 264.8,236.3 262.4,237.5 259.9,237.9 257.5,237.6 255.9,237.1 253.5,235.5 251.9,233.9 250.3,231.4 249.3,229.0 248.7,226.6 248.3,223.4 248.5,220.2 249.1,217.8 249.9,215.4 251.3,212.9 252.7,211.2 254.5,209.7 256.7,208.6 259.0,208.1ZM281.3,208.1 283.3,208.2 285.7,208.9 288.1,210.5 289.7,212.1 291.3,214.6 292.3,217.0 292.9,219.4 293.3,222.6 293.1,225.8 292.5,228.2 291.7,230.6 290.3,233.1 288.1,235.5 286.5,236.6 284.9,237.4 282.5,237.9 280.0,237.7 278.4,237.2 276.0,235.7 274.4,234.1 273.6,233.1 272.6,230.6 272.1,228.2 271.9,225.0 272.1,217.8 272.8,214.6 273.6,212.9 275.2,211.0 276.8,209.7 279.2,208.5 281.3,208.1Z"/>
<path fill="#0084ff" d="M256.9,209.7 259.1,209.1 260.8,209.0 263.2,209.5 264.8,210.3 266.4,211.5 268.0,213.3 268.8,214.9 269.3,217.0 269.6,221.0 269.6,225.8 269.3,229.0 268.8,231.1 268.0,232.7 267.2,233.7 265.6,235.2 264.0,236.2 261.6,236.9 259.1,236.9 257.5,236.5 255.9,235.8 254.3,234.6 252.7,232.8 251.4,230.6 250.4,228.2 249.8,225.8 249.6,223.4 249.7,221.0 250.2,218.6 251.0,216.2 252.3,213.7 253.6,212.1 255.1,210.8 256.9,209.7ZM277.9,209.7 280.0,209.1 282.5,209.1 284.7,209.7 286.5,210.8 288.1,212.2 289.8,214.6 290.9,217.0 291.8,220.2 292.0,222.6 291.8,225.8 290.9,229.0 289.8,231.4 288.1,233.8 286.5,235.2 284.7,236.3 282.5,236.9 280.8,237.0 279.2,236.8 277.6,236.2 276.0,235.2 274.4,233.7 273.6,232.7 272.8,231.1 272.3,229.0 272.1,226.6 272.0,221.8 272.2,217.8 272.7,215.4 273.6,213.3 274.4,212.3 276.0,210.8 277.9,209.7Z"/>
<path fill="#009aff" d="M257.8,210.5 259.1,210.0 261.6,209.8 263.2,210.1 264.8,210.8 266.4,211.9 268.0,213.6 268.8,215.2 269.2,217.0 269.5,220.2 269.5,225.0 269.4,228.2 268.8,230.8 268.0,232.4 266.4,234.1 264.8,235.2 262.4,236.1 260.8,236.2 259.1,236.0 257.5,235.4 255.9,234.4 254.5,233.1 253.2,231.4 252.3,229.8 251.3,226.6 250.9,224.2 250.9,221.8 251.4,218.6 252.3,216.2 253.2,214.6 254.5,212.9 255.9,211.6 257.8,210.5ZM277.4,210.5 279.2,209.9 281.7,209.9 283.3,210.3 285.3,211.3 287.1,212.9 288.4,214.6 289.3,216.2 290.3,219.4 290.7,221.8 290.7,224.2 290.2,227.4 289.3,229.8 287.8,232.3 286.3,233.9 284.9,235.0 282.5,236.0 280.8,236.2 279.2,236.1 277.6,235.6 276.0,234.7 274.4,233.4 273.6,232.4 272.8,230.8 272.4,229.0 272.1,225.8 272.1,221.0 272.2,217.8 272.8,215.4 273.6,213.6 274.4,212.6 276.0,211.3 277.4,210.5Z"/>
<path fill="#00b0ff" d="M260.5,210.5 262.4,210.5 264.0,210.9 265.6,211.7 267.2,213.0 268.0,213.9 268.8,215.4 269.2,217.0 269.5,220.2 269.4,227.4 268.8,230.6 268.0,232.1 267.2,233.0 265.6,234.3 264.0,235.1 261.6,235.5 259.9,235.4 257.9,234.7 256.6,233.9 255.0,232.3 253.8,230.6 252.7,228.2 252.1,225.8 251.8,223.4 251.9,221.0 252.4,218.6 253.4,216.2 254.3,214.6 255.7,212.9 256.7,212.1 258.3,211.1 260.5,210.5ZM279.2,210.5 281.1,210.5 283.3,211.1 285.0,212.1 286.5,213.6 287.8,215.4 288.6,217.0 289.4,219.4 289.7,221.8 289.7,224.2 289.4,226.6 288.6,229.0 287.3,231.4 285.9,233.1 284.1,234.5 282.5,235.2 280.8,235.5 279.2,235.5 277.6,235.1 276.0,234.3 274.4,233.0 273.6,232.1 272.8,230.6 272.2,227.4 272.1,220.2 272.4,217.0 272.8,215.4 273.6,213.9 275.2,212.3 276.8,211.2 279.2,210.5Z"/>
<path fill="#00c5ff" d="M260.0,211.3 261.6,211.1 263.2,211.2 264.8,211.7 266.4,212.6 268.0,214.2 268.8,215.7 269.3,218.6 269.4,225.8 269.1,229.0 268.8,230.3 268.0,231.8 266.4,233.4 264.8,234.3 262.4,234.9 260.8,234.8 259.1,234.4 257.5,233.5 255.9,232.0 254.9,230.6 253.7,228.2 253.2,226.6 252.8,224.2 252.8,221.8 253.0,220.2 253.7,217.8 254.4,216.2 255.4,214.6 257.0,212.9 258.3,212.0 260.0,211.3ZM277.8,211.3 280.0,211.1 281.7,211.3 283.3,212.0 284.9,213.2 286.2,214.6 287.3,216.3 288.2,218.6 288.7,221.0 288.9,223.4 288.6,225.8 287.9,228.2 287.2,229.8 286.2,231.4 284.6,233.1 282.5,234.4 280.8,234.8 279.2,234.9 277.6,234.6 275.2,233.4 273.6,231.8 272.8,230.3 272.5,229.0 272.2,225.0 272.2,221.0 272.5,217.0 272.8,215.7 273.6,214.2 274.4,213.3 276.0,212.1 277.8,211.3Z"/>
<path fill="#00dbff" d="M259.9,212.1 261.6,211.7 263.2,211.7 265.6,212.5 267.2,213.6 268.0,214.5 268.8,215.9 269.1,217.0 269.4,220.2 269.4,224.2 269.2,227.4 268.8,230.1 268.0,231.5 266.4,233.0 264.8,233.9 263.2,234.3 261.6,234.3 259.9,233.9 258.4,233.1 257.3,232.3 255.9,230.6 255.0,229.0 254.3,227.4 253.8,225.0 253.7,223.4 253.8,221.0 254.3,218.6 255.0,217.0 255.9,215.4 257.3,213.7 258.4,212.9 259.9,212.1ZM276.8,212.1 278.4,211.7 280.8,211.9 282.5,212.5 284.1,213.6 285.7,215.4 286.6,217.0 287.3,218.6 287.8,221.0 287.9,223.4 287.7,225.8 287.0,228.2 286.2,229.8 284.9,231.6 283.3,233.0 281.7,233.9 280.0,234.3 277.6,234.1 275.2,233.0 273.6,231.5 272.8,230.1 272.5,229.0 272.2,223.4 272.5,217.0 272.8,215.9 273.6,214.5 275.2,213.0 276.8,212.1Z"/>
<path fill="#00f0ff" d="M259.9,212.9 261.6,212.4 263.2,212.3 265.6,212.9 267.2,214.0 268.0,214.7 268.8,216.2 269.0,217.0 269.3,220.2 269.4,224.2 269.2,227.4 268.8,229.8 268.0,231.3 267.2,232.0 265.6,233.1 264.0,233.6 262.4,233.7 260.8,233.4 259.9,233.1 258.3,232.0 257.0,230.6 256.0,229.0 254.9,225.8 254.6,224.2 254.6,221.8 255.1,219.4 255.6,217.8 256.5,216.2 257.5,214.8 258.7,213.7 259.9,212.9ZM276.0,212.9 277.6,212.4 279.2,212.3 280.8,212.6 282.5,213.4 283.9,214.6 285.1,216.2 286.0,217.8 286.7,220.2 287.0,222.6 286.9,225.0 286.3,227.4 285.6,229.0 284.6,230.6 283.3,232.0 281.7,233.1 280.0,233.6 277.6,233.6 276.0,233.1 275.2,232.6 273.6,231.3 272.8,229.8 272.6,229.0 272.2,223.4 272.6,217.0 272.8,216.2 273.6,214.7 274.4,214.0 276.0,212.9Z"/>
<path fill="#07fff8" d="M262.4,212.9 264.0,212.9 265.6,213.3 267.2,214.3 268.0,215.0 269.0,217.0 269.2,219.4 269.3,225.0 268.8,229.6 268.0,231.0 267.2,231.7 265.6,232.7 264.0,233.1 261.6,232.9 259.9,232.2 258.3,230.8 257.0,229.0 256.2,227.4 255.5,224.2 255.5,222.6 255.8,220.2 256.2,218.6 257.0,217.0 258.3,215.2 259.9,213.8 261.6,213.1 262.4,212.9ZM277.6,212.9 279.2,212.9 280.8,213.4 282.5,214.4 283.4,215.4 284.6,217.0 285.4,218.6 285.8,220.2 286.1,222.6 286.1,224.2 285.6,226.6 284.6,229.0 284.1,229.8 283.3,230.8 281.7,232.2 280.0,232.9 278.4,233.1 276.0,232.7 274.4,231.7 273.6,231.0 272.6,229.0 272.3,225.0 272.4,220.2 272.8,216.4 273.6,215.0 274.4,214.3 276.0,213.3 277.6,212.9Z"/>
<path fill="#1dffe2" d="M261.4,213.7 263.2,213.3 264.8,213.4 265.6,213.7 266.4,214.0 268.0,215.2 268.9,217.0 269.3,222.6 268.9,229.0 268.0,230.8 266.4,232.0 264.8,232.6 262.4,232.6 259.9,231.4 259.0,230.6 257.8,229.0 257.3,228.2 256.4,225.8 256.1,223.4 256.2,221.8 256.4,220.2 257.3,217.8 259.0,215.4 259.9,214.5 261.4,213.7ZM275.9,213.7 277.6,213.3 279.2,213.4 281.7,214.5 282.6,215.4 283.8,217.0 284.3,217.8 285.2,220.2 285.5,222.6 285.4,224.2 285.2,225.8 284.3,228.2 283.3,229.8 282.5,230.8 280.8,232.0 279.2,232.6 276.8,232.6 275.2,232.0 273.6,230.8 272.7,229.0 272.3,223.4 272.7,217.0 273.6,215.2 275.2,214.0 275.9,213.7Z"/>
<path fill="#32ffcd" d="M262.9,213.7 264.0,213.7 265.6,214.0 266.4,214.3 268.0,215.5 268.8,217.0 269.1,220.2 269.2,225.0 268.8,229.2 268.0,230.5 266.4,231.7 264.0,232.3 262.9,232.3 261.6,231.8 259.9,230.8 259.0,229.8 257.9,228.2 257.2,226.6 256.7,223.4 257.0,220.2 257.5,218.6 258.4,217.0 259.7,215.4 260.8,214.6 262.9,213.7ZM276.8,213.7 277.6,213.7 279.2,213.9 280.8,214.6 281.9,215.4 283.2,217.0 284.1,218.6 284.6,220.2 284.9,221.8 284.9,224.2 284.6,225.8 284.1,227.4 283.2,229.0 281.9,230.6 280.8,231.4 278.4,232.3 276.8,232.3 276.0,232.0 275.2,231.7 273.6,230.5 272.8,229.0 272.5,226.6 272.4,221.8 272.8,216.8 273.6,215.5 274.4,214.8 275.2,214.3 276.8,213.7Z"/>
<path fill="#48ffb7" d="M261.7,214.6 264.0,214.1 266.4,214.5 268.0,215.7 268.8,217.2 269.2,222.6 268.8,228.8 268.0,230.3 266.4,231.5 265.6,231.7 263.2,231.9 261.7,231.4 260.8,230.9 259.0,229.0 258.1,227.4 257.5,225.8 257.2,222.6 257.8,219.4 258.5,217.8 259.6,216.2 260.5,215.4 261.7,214.6ZM275.2,214.6 276.8,214.1 278.4,214.1 279.9,214.6 280.8,215.1 282.0,216.2 283.1,217.8 283.8,219.4 284.2,221.0 284.4,222.6 284.2,225.0 283.8,226.6 283.1,228.2 282.0,229.8 281.1,230.6 279.9,231.4 278.4,231.9 276.8,231.9 275.2,231.5 273.6,230.3 272.8,228.8 272.4,223.4 272.8,217.2 273.6,215.7 275.2,214.6Z"/>
<path fill="#5dffa2" d="M263.4,214.6 265.6,214.6 267.2,215.3 268.1,216.2 268.9,218.6 269.1,223.4 268.8,228.1 268.0,230.0 267.2,230.7 265.6,231.4 263.2,231.4 261.6,230.8 260.3,229.8 259.6,229.0 258.7,227.4 258.1,225.8 257.8,224.2 257.7,222.6 257.9,221.0 258.3,219.4 259.1,217.8 260.8,215.7 261.6,215.2 263.4,214.6ZM276.1,214.6 278.4,214.6 280.0,215.2 281.3,216.2 282.0,217.0 282.9,218.6 283.5,220.2 283.8,221.8 283.9,223.4 283.7,225.0 283.3,226.6 282.5,228.2 280.8,230.3 280.0,230.8 278.4,231.4 276.0,231.4 274.4,230.7 273.6,230.0 272.8,228.1 272.5,223.4 272.8,217.9 273.6,216.0 274.4,215.3 276.1,214.6Z"/>
<path fill="#73ff8c" d="M263.2,215.4 265.6,215.3 267.2,215.9 268.0,216.3 268.8,218.4 269.1,222.6 268.8,227.6 268.0,229.7 266.4,230.5 265.6,230.7 263.2,230.6 261.6,230.1 260.8,229.6 259.6,228.2 258.7,226.6 258.5,225.8 258.1,222.6 258.7,219.4 259.6,217.8 260.8,216.4 261.6,215.9 263.2,215.4ZM276.0,215.4 278.4,215.4 280.0,215.9 280.8,216.4 282.0,217.8 282.9,219.4 283.5,222.6 283.1,225.8 282.9,226.6 282.0,228.2 280.8,229.6 280.0,230.1 279.2,230.4 277.6,230.8 275.2,230.5 273.6,229.7 272.8,227.6 272.7,226.6 272.5,222.6 272.8,218.4 273.6,216.3 275.2,215.5 276.0,215.4Z"/>
<path fill="#89ff76" d="M262.5,216.2 263.2,215.8 264.8,215.7 267.2,216.4 268.0,217.1 268.8,218.9 269.0,222.6 268.8,227.1 268.0,228.9 267.2,229.6 265.6,230.2 264.0,230.3 261.6,229.5 259.9,228.1 258.8,225.8 258.5,223.4 258.8,220.2 259.9,217.9 261.6,216.5 262.5,216.2ZM275.3,216.2 276.0,215.8 277.6,215.7 280.0,216.5 281.7,217.9 282.8,220.2 283.1,223.4 282.8,225.8 282.5,226.6 281.7,228.1 280.8,228.9 280.0,229.5 278.4,230.2 276.8,230.3 274.4,229.6 273.6,228.9 272.8,227.1 272.6,223.4 272.8,218.9 273.6,217.1 274.4,216.4 275.3,216.2Z"/>
<path fill="#9eff61" d="M263.8,216.2 264.8,216.1 266.4,216.5 268.0,217.4 268.8,219.3 268.9,220.2 268.9,225.0 268.8,226.7 268.5,227.4 268.0,228.6 267.2,229.2 264.8,229.9 264.0,229.9 262.4,229.5 260.8,228.5 259.9,227.7 259.0,225.8 258.7,223.4 258.7,221.8 259.0,220.2 259.9,218.3 261.6,216.9 263.8,216.2ZM276.6,216.2 277.6,216.1 279.2,216.5 280.0,216.9 281.2,217.8 281.9,218.6 282.6,220.2 282.9,222.6 282.9,224.2 282.6,225.8 281.7,227.7 280.0,229.1 277.6,229.9 276.8,229.9 275.2,229.5 273.6,228.6 272.8,226.7 272.7,225.8 272.7,221.0 272.8,219.3 273.1,218.6 273.6,217.4 274.4,216.8 276.6,216.2Z"/>
<path fill="#b4ff4b" d="M262.1,217.0 264.0,216.4 265.6,216.5 266.4,216.8 268.0,217.8 268.6,219.4 268.9,222.6 268.8,226.1 268.0,228.2 266.4,229.2 265.6,229.5 264.0,229.6 262.4,229.2 260.8,228.2 260.0,227.4 259.3,225.8 258.9,223.4 259.0,221.8 259.3,220.2 260.0,218.6 260.8,217.8 262.1,217.0ZM274.8,217.0 276.8,216.4 278.4,216.6 279.2,216.8 280.8,217.8 281.6,218.6 282.3,220.2 282.6,221.8 282.7,223.4 282.5,225.0 282.0,226.6 281.7,227.3 280.8,228.2 279.5,229.0 278.4,229.4 277.6,229.6 276.0,229.5 274.4,228.8 273.6,228.2 273.0,226.6 272.7,223.4 272.8,219.9 273.6,217.8 274.8,217.0Z"/>
<path fill="#caff35" d="M262.8,217.0 264.8,216.7 266.0,217.0 267.2,217.5 268.0,218.1 268.7,220.2 268.9,224.2 268.5,226.6 268.0,227.9 267.2,228.5 265.6,229.2 264.0,229.3 263.2,229.2 261.6,228.4 259.9,226.8 259.3,225.0 259.1,223.4 259.2,221.8 259.8,219.4 261.3,217.8 262.8,217.0ZM275.6,217.0 277.6,216.7 279.2,217.1 280.0,217.6 281.7,219.2 282.3,221.0 282.5,222.6 282.4,224.2 281.8,226.6 280.3,228.2 278.4,229.2 277.6,229.3 276.0,229.2 274.4,228.5 273.6,227.9 272.9,225.8 272.7,221.8 273.1,219.4 273.6,218.1 274.4,217.5 275.6,217.0Z"/>
<path fill="#dfff20" d="M261.8,217.8 263.2,217.1 264.8,217.0 266.4,217.4 268.0,218.6 268.8,221.5 268.7,225.0 268.0,227.5 266.4,228.6 264.8,229.0 263.2,228.9 261.6,228.1 260.8,227.4 259.9,226.3 259.5,225.0 259.3,223.4 259.5,221.0 260.1,219.4 260.8,218.6 261.8,217.8ZM274.5,217.8 276.0,217.1 277.6,217.0 278.4,217.1 280.0,217.9 280.8,218.6 281.7,219.7 282.1,221.0 282.3,222.6 282.2,224.2 281.9,225.8 280.8,227.4 279.2,228.6 277.6,229.0 276.0,228.9 274.5,228.2 273.6,227.4 272.8,224.5 272.8,221.5 273.6,218.5 274.5,217.8Z"/>
<path fill="#f5ff0a" d="M262.3,217.8 264.0,217.3 265.6,217.4 267.2,218.2 268.0,218.9 268.2,219.4 268.6,221.0 268.8,222.6 268.4,225.8 268.0,227.1 267.7,227.4 266.5,228.2 265.6,228.6 264.0,228.7 262.4,228.3 260.8,227.0 259.9,225.7 259.6,223.4 259.6,221.8 259.9,220.3 260.8,219.0 262.3,217.8ZM275.1,217.8 276.8,217.3 278.4,217.4 279.2,217.7 280.8,219.0 281.7,220.3 282.0,221.8 282.0,223.4 281.6,225.8 280.4,227.4 279.3,228.2 278.4,228.6 276.8,228.7 275.2,228.3 273.9,227.4 273.4,226.6 272.9,224.2 273.0,221.0 273.6,218.9 275.1,217.8Z"/>
<path fill="#fff400" d="M263.0,217.8 264.8,217.6 266.4,218.0 268.0,219.3 268.3,220.2 268.6,223.4 268.4,225.0 268.0,226.6 267.2,227.5 265.6,228.3 264.0,228.4 262.4,227.9 260.8,226.6 260.0,225.0 259.8,222.6 259.9,221.2 260.3,220.2 261.6,218.6 263.0,217.8ZM275.8,217.8 277.6,217.6 279.2,218.1 280.8,219.4 281.6,221.0 281.8,223.4 281.7,224.8 281.3,225.8 280.0,227.4 278.4,228.3 276.8,228.4 275.2,228.0 273.6,226.7 273.3,225.8 273.0,222.6 273.2,221.0 273.6,219.4 274.4,218.5 275.8,217.8Z"/>
<path fill="#ffde00" d="M262.1,218.6 263.2,218.0 264.0,217.9 265.6,218.0 266.8,218.6 268.0,219.7 268.5,222.6 268.3,225.0 268.0,226.3 267.2,227.1 266.4,227.7 264.8,228.1 263.2,228.0 261.6,227.0 260.6,225.8 260.1,224.2 260.1,221.8 260.6,220.2 261.1,219.4 262.1,218.6ZM274.8,218.6 276.0,218.0 276.8,217.9 278.4,218.0 280.0,219.0 281.0,220.2 281.5,222.6 281.3,225.0 281.0,225.8 280.5,226.6 279.5,227.4 278.4,228.0 277.6,228.1 276.0,228.0 274.8,227.4 273.6,226.3 273.1,223.4 273.3,221.0 273.6,219.7 274.8,218.6Z"/>
<path fill="#ffc800" d="M262.7,218.6 264.0,218.2 265.6,218.3 267.2,219.3 268.0,220.2 268.4,222.6 268.3,224.2 268.0,225.8 267.2,226.7 265.6,227.7 264.0,227.8 262.4,227.3 261.6,226.7 260.9,225.8 260.6,225.0 260.4,223.4 260.6,221.0 260.9,220.2 261.5,219.4 262.7,218.6ZM275.4,218.6 276.8,218.2 278.4,218.3 280.1,219.4 280.7,220.2 281.0,221.0 281.2,223.4 280.8,225.5 280.0,226.7 278.4,227.7 277.6,227.8 276.0,227.7 274.4,226.7 273.6,225.8 273.2,223.4 273.3,221.8 273.6,220.2 274.4,219.3 275.4,218.6Z"/>
<path fill="#ffb300" d="M263.5,218.6 264.8,218.5 266.4,219.0 267.6,220.2 268.0,220.8 268.2,221.8 268.2,223.4 268.0,225.2 267.2,226.3 266.4,227.0 264.8,227.5 263.2,227.3 262.0,226.6 261.2,225.8 260.7,224.2 260.7,221.8 261.2,220.2 262.4,219.1 263.5,218.6ZM276.3,218.6 277.6,218.5 279.2,219.1 280.4,220.2 280.9,221.8 280.9,224.2 280.4,225.8 279.2,226.9 277.6,227.5 276.0,227.4 274.7,226.6 273.6,225.2 273.4,224.2 273.4,222.6 273.6,220.8 274.7,219.4 276.3,218.6Z"/>
<path fill="#ff9d00" d="M262.4,219.4 264.0,218.8 265.6,218.9 266.4,219.4 267.2,220.1 267.8,221.0 268.1,222.6 268.0,224.4 267.2,225.9 266.4,226.6 265.6,227.1 264.0,227.2 263.2,227.0 262.4,226.6 261.6,225.8 261.2,225.0 261.0,223.4 261.2,221.0 261.6,220.2 262.4,219.4ZM275.2,219.4 276.8,218.8 278.4,219.0 279.2,219.4 280.0,220.2 280.4,221.0 280.6,222.6 280.4,225.0 280.0,225.8 279.2,226.6 278.4,227.0 277.6,227.2 276.0,227.1 275.2,226.6 274.4,225.9 273.8,225.0 273.5,223.4 273.6,221.6 274.3,220.2 275.2,219.4Z"/>
<path fill="#ff8800" d="M263.0,219.4 264.0,219.1 265.6,219.3 266.9,220.2 267.8,221.8 267.9,223.4 267.5,225.0 266.4,226.3 265.6,226.7 264.0,226.9 263.2,226.7 261.9,225.8 261.5,225.0 261.3,223.4 261.5,221.0 261.9,220.2 263.0,219.4ZM275.8,219.4 276.8,219.1 278.4,219.3 279.7,220.2 280.1,221.0 280.3,222.6 280.1,225.0 279.7,225.8 278.4,226.7 276.8,226.9 275.8,226.6 274.7,225.8 273.8,224.2 273.7,222.6 274.1,221.0 274.7,220.2 275.8,219.4Z"/>
<path fill="#ff7200" d="M264.0,219.4 265.6,219.6 266.4,220.1 267.1,221.0 267.7,222.6 267.5,224.2 267.1,225.0 266.4,225.9 265.6,226.4 264.8,226.6 263.2,226.4 262.4,225.8 261.8,225.0 261.7,224.2 261.6,222.6 261.8,221.0 262.4,220.2 263.2,219.6 264.0,219.4ZM276.8,219.4 277.6,219.4 278.4,219.6 279.2,220.2 279.8,221.0 279.9,221.8 280.0,223.4 279.8,225.0 279.2,225.8 278.4,226.4 277.6,226.6 276.0,226.4 275.2,225.9 274.5,225.0 273.9,223.4 274.1,221.8 274.5,221.0 275.2,220.1 276.0,219.6 276.8,219.4Z"/>
<path fill="#ff5c00" d="M262.8,220.2 264.0,219.7 264.8,219.6 265.6,219.9 266.4,220.5 267.2,221.7 267.4,222.6 267.2,224.2 266.4,225.5 265.6,226.1 264.8,226.4 264.0,226.3 262.8,225.8 262.1,225.0 261.9,223.4 262.0,221.8 262.1,221.0 262.8,220.2ZM275.6,220.2 276.8,219.6 277.6,219.7 278.8,220.2 279.5,221.0 279.7,222.6 279.6,224.2 279.2,225.4 278.4,226.0 277.6,226.3 276.8,226.4 275.6,225.8 274.8,225.0 274.4,224.2 274.2,222.6 274.8,221.0 275.6,220.2Z"/>
<path fill="#ff4700" d="M263.4,220.2 264.0,219.9 264.8,219.9 265.6,220.2 266.4,220.8 267.0,221.8 267.1,222.6 267.0,224.2 266.4,225.2 265.6,225.8 264.8,226.1 264.0,226.1 263.4,225.8 262.5,225.0 262.2,223.4 262.3,221.8 262.5,221.0 263.4,220.2ZM276.1,220.2 276.8,219.9 277.6,219.9 278.4,220.3 279.1,221.0 279.4,222.6 279.1,225.0 278.4,225.7 277.6,226.1 276.8,226.1 276.0,225.8 275.2,225.2 274.6,224.2 274.5,223.4 274.6,221.8 275.2,220.8 276.1,220.2Z"/>
<path fill="#ff3100" d="M262.8,221.0 264.0,220.2 264.8,220.2 265.6,220.5 266.4,221.2 266.9,222.6 266.9,223.4 266.4,224.8 265.6,225.5 264.8,225.8 264.0,225.8 262.8,225.0 262.5,223.4 262.8,221.0ZM275.4,221.0 276.0,220.5 276.8,220.2 277.6,220.2 278.8,221.0 279.1,223.4 278.8,225.0 278.4,225.4 277.6,225.8 276.8,225.8 276.0,225.5 275.2,224.8 274.7,223.4 274.7,222.6 274.9,221.8 275.4,221.0Z"/>
<path fill="#ff1b00" d="M263.1,221.0 264.0,220.4 264.8,220.4 265.6,220.7 266.5,221.8 266.7,223.4 266.4,224.4 265.6,225.3 264.8,225.6 264.0,225.6 263.1,225.0 262.8,223.4 263.1,221.0ZM275.7,221.0 276.8,220.4 277.6,220.4 278.5,221.0 278.8,222.6 278.7,224.2 278.5,225.0 277.6,225.6 276.8,225.6 276.0,225.3 275.1,224.2 274.9,222.6 275.1,221.8 275.7,221.0Z"/>
<path fill="#ff0600" d="M263.5,221.0 264.0,220.7 264.8,220.7 265.5,221.0 266.2,221.8 266.5,222.6 266.5,223.4 266.2,224.2 265.6,225.0 264.8,225.3 264.0,225.3 263.5,225.0 263.2,224.2 263.1,222.6 263.5,221.0ZM276.1,221.0 276.8,220.7 277.6,220.7 278.1,221.0 278.4,222.0 278.5,223.4 278.1,225.0 277.6,225.3 276.8,225.3 276.0,225.0 275.2,223.8 275.1,223.4 275.2,222.2 276.1,221.0Z"/>
<path fill="#ef0000" d="M263.9,221.0 264.8,220.9 265.6,221.4 266.2,222.6 266.2,223.4 265.9,224.2 265.6,224.6 264.8,225.1 263.9,225.0 263.7,224.2 263.6,222.6 263.9,221.0ZM276.6,221.0 277.7,221.0 277.9,221.8 278.0,223.4 277.6,225.1 276.8,225.1 276.0,224.6 275.4,223.4 275.4,222.6 275.7,221.8 276.6,221.0Z"/>
<path fill="#da0000" d="M264.3,221.8 264.8,221.5 265.6,221.8 265.9,222.6 265.9,223.4 265.6,224.3 264.8,224.5 264.3,224.2 264.3,221.8ZM276.0,221.8 276.8,221.5 277.3,221.8 277.3,224.2 276.8,224.5 276.0,224.3 275.7,223.4 275.7,222.6 276.0,221.8Z"/>
<path fill="#c40000" d="M265.4,222.6 265.6,222.5 265.6,222.6 265.6,223.5 265.4,223.4 265.4,222.6ZM276.0,222.6 276.0,222.5 276.2,222.6 276.2,223.4 276.0,223.5 276.0,222.6Z"/>
</g></g>
<rect x="211.4" y="164.3" width="17.3" height="13.2" fill="#fff" fill-opacity="0.5"/>
<text x="214.5" y="174.2" font-family="'Liberation Serif',serif" font-size="9.2" fill="#1a1a1a">(e)</text>
<rect x="333.2" y="164.3" width="8.4" height="117.4" fill="url(#gj)"/>
<g font-family="'Liberation Sans',sans-serif" font-size="7" fill="#262626" stroke="#262626" stroke-width="0.15">
<text x="344.5" y="166.9">130</text>
<text x="344.5" y="183.7">120</text>
<text x="344.5" y="200.4">110</text>
<text x="344.5" y="217.2">100</text>
<text x="344.5" y="234.0">90</text>
<text x="344.5" y="250.8">80</text>
<text x="344.5" y="267.5">70</text>
<text x="344.5" y="284.3">60</text>
</g>
<g font-family="'Liberation Sans',sans-serif" font-size="8.0" fill="#262626" stroke="#262626" stroke-width="0.18">
<text x="233.3" y="292.2" text-anchor="middle">-5</text>
<text x="270.8" y="292.2" text-anchor="middle">0</text>
<text x="307.9" y="292.2" text-anchor="middle">5</text>
<text x="209.4" y="189.3" text-anchor="end" font-size="8.0">5</text>
<text x="209.4" y="226.0" text-anchor="end" font-size="8.0">0</text>
<text x="209.4" y="262.7" text-anchor="end" font-size="8.0">-5</text>
</g>
<text transform="translate(198.8,223.0) rotate(-90)" text-anchor="middle" font-family="'Liberation Sans',sans-serif" font-size="9.2" fill="#262626" stroke="#262626" stroke-width="0.2">Z (<tspan fill="#777" stroke="none">×</tspan> r)</text>
<g clip-path="url(#c12)"><g filter="url(#bl)">
<rect x="402.2" y="160.3" width="126.8" height="125.4" fill="#fff"/>
<path fill="#ffecec" d="M422.6,160.6 506.5,160.6 499.3,171.9 492.2,181.6 484.8,190.4 474.0,201.9 471.6,204.8 470.0,207.3 469.2,208.8 468.4,211.0 467.6,215.3 467.3,222.6 468.2,225.0 468.4,226.9 469.2,229.6 470.8,232.7 472.4,234.8 474.8,237.2 477.3,239.2 494.4,252.4 499.1,256.4 503.3,260.4 507.9,265.2 512.8,270.9 517.8,277.3 523.4,285.4 410.8,285.4 415.5,278.1 420.8,270.9 425.4,265.2 429.8,260.4 433.9,256.4 438.4,252.4 454.7,239.5 457.2,237.4 459.6,234.9 461.2,232.7 462.0,231.3 462.8,229.2 463.9,223.4 464.5,222.6 464.4,221.4 463.9,220.2 463.6,214.8 463.1,213.7 462.8,211.3 462.3,210.5 462.0,209.2 460.4,206.3 457.2,202.3 445.5,190.4 438.4,182.4 430.9,172.7 422.6,160.6ZM456.3,221.8 457.2,221.1 458.0,221.2 458.6,221.8 458.8,222.6 458.5,223.4 458.0,223.9 457.2,224.0 456.4,223.4 455.9,222.6 456.3,221.8ZM472.1,222.6 472.4,222.3 473.2,221.9 474.0,222.0 474.7,222.6 474.7,223.4 474.0,224.0 473.2,224.1 472.4,223.7 472.1,223.4 472.1,222.6Z"/>
<path fill="#ffdfdf" d="M424.6,160.6 504.5,160.6 496.9,172.7 490.6,181.6 484.2,189.6 473.2,202.2 470.0,206.8 468.4,210.4 467.6,214.5 467.4,221.0 467.1,222.6 467.9,225.0 468.4,227.7 469.2,230.2 470.8,233.3 472.4,235.4 476.5,239.3 492.0,252.4 500.3,260.4 505.4,266.1 509.9,271.7 514.7,278.1 519.6,285.4 414.6,285.4 419.2,278.1 423.7,271.7 428.0,266.1 432.9,260.4 436.7,256.4 440.8,252.4 455.6,239.6 459.6,235.6 461.2,233.4 462.8,230.0 464.0,224.2 464.6,222.6 464.4,220.6 463.9,218.6 463.6,214.1 463.2,212.9 462.8,210.8 462.0,208.7 460.4,205.8 457.2,201.7 446.1,189.6 440.0,182.4 432.7,172.7 424.6,160.6ZM456.7,221.8 457.2,221.4 458.0,221.5 458.2,221.8 458.6,222.6 458.0,223.6 457.2,223.7 456.8,223.4 456.3,222.6 456.7,221.8ZM472.5,222.6 473.2,222.1 474.0,222.3 474.3,222.6 474.3,223.4 474.0,223.7 473.2,223.9 472.5,223.4 472.5,222.6Z"/>
<path fill="#ffd2d2" d="M426.2,160.6 502.9,160.6 495.9,171.9 489.9,180.8 483.2,189.6 473.2,201.6 470.0,206.3 468.4,210.0 467.6,213.8 467.3,220.2 466.8,222.6 468.0,225.8 468.4,228.3 469.2,230.8 470.0,232.5 471.6,235.0 475.6,239.3 490.9,253.2 498.6,261.2 502.7,266.1 507.1,271.7 512.3,278.9 516.6,285.4 417.5,285.4 422.1,278.1 427.1,270.9 431.3,265.2 435.2,260.4 441.9,253.2 456.4,239.6 458.8,237.1 460.4,235.1 462.0,232.5 462.8,230.7 463.6,227.6 464.0,225.0 464.7,222.6 464.0,217.8 463.6,213.5 462.8,210.3 462.0,208.3 460.4,205.4 457.2,201.2 447.1,189.6 440.7,181.6 434.2,172.7 426.2,160.6ZM457.0,221.8 457.2,221.7 458.0,221.9 458.4,222.6 458.0,223.2 457.2,223.4 456.5,222.6 457.0,221.8ZM472.8,222.6 473.2,222.3 474.0,222.6 474.0,223.4 473.2,223.7 472.8,223.4 472.8,222.6Z"/>
<path fill="#ffc6c6" d="M427.5,160.6 501.6,160.6 494.7,171.9 488.8,180.8 482.3,189.6 473.2,201.1 470.0,205.9 468.4,209.6 467.6,213.2 467.2,220.2 466.6,222.6 467.8,225.8 468.4,228.9 469.2,231.3 470.0,233.0 471.6,235.5 475.6,240.0 489.3,253.2 496.6,261.2 501.1,266.9 504.7,271.7 514.0,285.4 420.1,285.4 424.6,278.1 428.9,271.7 432.9,266.1 436.6,261.2 443.6,253.2 456.4,240.3 460.4,235.7 462.0,233.1 462.8,231.2 463.6,228.3 463.9,225.8 464.8,222.6 463.6,213.0 462.8,209.9 461.2,206.3 458.0,201.6 448.0,189.6 440.6,179.9 434.4,171.1 427.5,160.6ZM456.7,222.6 457.2,221.9 458.0,222.2 458.2,222.6 458.0,223.0 457.2,223.2 456.7,222.6ZM473.1,222.6 473.4,222.6 473.4,223.4 473.2,223.5 473.1,222.6Z"/>
<path fill="#ffb9b9" d="M428.7,160.6 500.4,160.6 493.0,172.7 487.2,181.6 481.5,189.6 473.2,200.6 470.0,205.5 468.4,209.2 467.6,212.7 467.2,220.2 466.4,222.6 467.5,225.0 468.4,229.4 469.2,231.8 470.0,233.5 471.6,236.0 475.6,240.6 487.8,253.2 494.7,261.2 502.6,271.7 511.7,285.4 422.4,285.4 431.0,271.7 438.5,261.2 445.1,253.2 457.2,240.1 460.4,236.2 462.0,233.6 462.8,231.8 463.6,229.0 464.0,225.8 464.9,222.6 463.6,212.6 462.8,209.6 461.2,206.0 458.0,201.2 448.8,189.6 442.2,180.8 436.1,171.9 428.7,160.6ZM456.9,222.6 457.2,222.2 458.0,222.6 457.2,223.0 456.9,222.6Z"/>
<path fill="#ffacac" d="M429.8,160.6 499.3,160.6 493.0,171.1 487.4,179.9 481.9,188.0 473.2,200.0 470.0,205.1 468.4,208.8 467.6,212.2 467.1,220.2 466.3,222.6 466.5,223.4 466.8,223.7 467.4,225.0 468.4,229.9 469.2,232.2 470.0,233.9 471.6,236.5 474.8,240.4 486.4,253.2 493.0,261.2 501.2,272.5 509.6,285.4 424.5,285.4 432.4,272.5 439.6,262.0 447.2,252.4 458.0,239.9 461.2,235.5 462.0,234.1 463.0,231.4 463.6,229.6 464.2,225.8 465.0,223.4 465.0,222.6 464.7,221.0 463.6,212.1 462.8,209.2 461.2,205.6 458.0,200.7 448.9,188.8 443.1,180.8 436.6,171.1 429.8,160.6ZM457.0,222.6 457.2,222.4 457.5,222.6 457.2,222.7 457.0,222.6Z"/>
<path fill="#ff9f9f" d="M430.9,160.6 498.2,160.6 486.5,179.9 481.7,187.2 473.2,199.5 470.0,204.7 468.4,208.5 467.6,211.7 467.0,220.2 466.1,222.6 466.2,223.4 466.8,223.9 467.3,225.0 468.4,230.4 469.2,232.7 470.0,234.4 471.6,237.0 474.8,241.1 485.8,254.0 491.4,261.2 499.4,272.5 507.7,285.4 426.5,285.4 434.3,272.5 441.2,262.0 447.8,253.2 458.0,240.6 461.2,236.0 462.8,232.8 463.5,230.6 464.3,225.8 465.1,223.4 465.2,222.6 464.7,221.0 464.4,217.3 463.6,211.8 462.8,208.9 461.2,205.3 458.0,200.2 447.9,186.4 442.9,179.1 430.9,160.6Z"/>
<path fill="#ff9393" d="M431.8,160.6 497.3,160.6 485.7,179.9 473.2,199.0 470.0,204.4 468.4,208.1 467.6,211.3 466.9,220.2 466.0,222.5 465.2,222.5 465.0,221.8 463.6,211.4 462.8,208.5 461.2,204.9 458.0,199.7 443.2,178.3 431.8,160.6ZM464.9,224.2 465.2,223.5 466.0,223.5 466.8,224.2 467.4,225.8 468.2,229.8 468.9,232.3 470.0,234.8 471.6,237.5 474.0,240.8 485.2,254.8 490.5,262.0 497.7,272.5 505.9,285.4 428.3,285.4 436.0,272.5 442.2,262.8 449.0,253.2 458.8,240.2 461.2,236.5 462.8,233.3 463.6,230.7 464.4,225.8 464.9,224.2Z"/>
<path fill="#ff8686" d="M432.7,160.6 496.4,160.6 486.4,177.5 473.2,198.4 470.0,204.0 468.4,207.7 467.6,210.8 466.8,220.2 466.0,222.3 465.2,222.2 464.8,221.0 464.5,217.0 463.6,211.0 462.8,208.2 461.2,204.6 458.0,199.2 442.9,176.7 432.7,160.6ZM465.0,224.2 465.2,223.7 466.0,223.7 466.8,224.4 467.1,225.0 468.4,231.4 470.0,235.3 471.6,238.0 474.0,241.5 484.0,254.8 489.6,262.8 496.0,272.5 504.1,285.4 430.1,285.4 437.6,272.5 443.6,262.8 449.5,254.0 458.8,240.9 461.2,237.1 462.8,233.8 463.6,231.3 464.5,225.8 465.0,224.2Z"/>
<path fill="#ff7979" d="M433.6,160.6 495.5,160.6 484.2,179.9 473.2,197.8 470.0,203.6 468.4,207.4 467.6,210.4 466.7,220.2 466.0,222.0 465.2,222.0 464.9,221.0 464.5,216.2 463.6,210.7 462.8,207.9 461.2,204.2 458.0,198.7 444.7,178.3 433.6,160.6ZM465.1,224.2 465.2,224.0 466.0,224.0 466.8,224.6 467.0,225.0 468.4,231.8 470.0,235.8 471.6,238.6 488.3,262.8 494.5,272.5 502.5,285.4 431.7,285.4 444.5,263.6 449.6,255.6 458.8,241.7 461.2,237.7 462.8,234.3 463.6,231.8 464.5,225.8 465.1,224.2Z"/>
<path fill="#ff6c6c" d="M434.4,160.6 494.7,160.6 473.2,197.2 470.0,203.2 468.4,207.0 467.6,210.0 467.1,213.7 466.6,220.2 466.0,221.8 465.2,221.8 464.9,221.0 464.5,216.2 463.6,210.5 462.8,207.6 461.2,203.9 457.2,196.9 434.4,160.6ZM464.8,225.0 465.2,224.2 466.0,224.2 466.8,224.8 467.2,225.8 467.6,228.9 468.4,232.3 469.2,234.6 470.8,237.9 474.0,243.2 489.0,266.1 500.9,285.4 433.3,285.4 444.9,265.2 458.0,243.9 461.2,238.3 462.8,234.8 463.6,232.4 464.8,225.0Z"/>
<path fill="#ff6060" d="M435.2,160.6 493.9,160.6 474.8,193.7 470.0,202.7 468.4,206.7 467.6,209.7 467.1,213.7 466.6,220.2 466.0,221.6 465.2,221.6 465.0,221.0 464.6,216.2 463.7,210.5 462.8,207.3 461.2,203.5 456.4,194.9 435.2,160.6ZM464.9,225.0 465.2,224.4 466.0,224.4 466.8,225.0 467.1,225.8 467.6,229.4 468.4,232.8 469.2,235.1 470.8,238.5 474.0,244.1 487.2,265.2 499.4,285.4 434.8,285.4 446.2,265.2 458.0,245.0 461.2,239.0 462.8,235.4 463.6,233.0 464.9,225.0Z"/>
<path fill="#ff5353" d="M436.0,160.6 493.1,160.6 475.6,191.5 470.0,202.3 468.4,206.3 467.5,209.7 466.5,220.2 466.0,221.4 465.2,221.4 465.1,221.0 464.7,216.2 463.8,210.5 462.8,206.9 461.2,203.1 458.8,198.5 454.7,191.5 436.0,160.6ZM465.0,225.0 465.2,224.6 466.0,224.6 466.8,225.2 467.0,225.8 467.6,229.8 468.4,233.3 470.0,237.5 472.4,242.2 478.1,252.0 497.9,285.4 436.3,285.4 455.6,250.6 461.2,239.8 462.8,236.0 463.6,233.5 464.3,229.8 464.7,225.8 465.0,225.0Z"/>
<path fill="#ff4646" d="M436.7,160.6 492.4,160.6 477.3,187.7 472.4,196.8 470.0,201.8 468.4,205.9 467.4,209.7 466.4,220.2 466.0,221.3 465.2,221.3 465.1,221.0 464.7,215.4 463.9,210.5 462.8,206.6 461.2,202.7 458.8,197.9 453.9,189.4 436.7,160.6ZM465.1,225.0 465.2,224.7 466.0,224.7 466.8,225.4 467.6,230.5 468.7,234.7 470.0,238.2 473.2,244.8 482.1,260.7 496.5,285.4 437.7,285.4 452.3,258.4 460.4,242.5 462.0,238.8 463.6,234.2 464.4,229.8 464.8,225.8 465.1,225.0Z"/>
<path fill="#ff3939" d="M437.5,160.6 491.7,160.6 477.3,186.7 473.2,194.5 470.0,201.3 468.4,205.7 467.3,209.7 466.6,216.2 466.3,220.2 466.0,221.1 465.2,221.1 465.0,220.2 464.8,215.4 463.8,209.7 462.9,206.5 460.4,200.6 457.2,194.3 452.3,185.7 437.5,160.6ZM465.1,225.0 466.0,224.9 466.8,225.6 467.5,230.6 468.8,235.5 470.8,240.8 474.0,247.6 482.9,264.1 495.1,285.4 439.0,285.4 452.3,260.4 457.2,250.6 460.4,243.6 462.0,239.7 463.6,234.8 464.6,229.8 464.9,225.8 465.1,225.0Z"/>
<path fill="#ff2d2d" d="M438.2,160.6 491.0,160.6 478.1,184.2 473.2,193.8 470.0,200.8 468.2,205.7 467.3,208.9 466.5,215.4 466.3,220.2 466.0,220.9 465.2,220.9 465.0,220.2 464.8,215.4 463.9,209.7 463.0,206.5 460.4,200.1 457.2,193.6 452.3,184.8 438.2,160.6ZM465.0,225.8 465.2,225.1 466.0,225.1 466.8,225.8 467.4,230.6 468.8,236.3 470.8,241.8 474.8,250.7 482.9,266.2 493.8,285.4 440.4,285.4 452.3,262.5 456.4,254.2 459.6,246.8 462.0,240.7 463.6,235.6 464.6,230.6 465.0,225.8Z"/>
<path fill="#ff2020" d="M438.8,160.6 490.3,160.6 482.9,174.0 477.3,184.8 473.2,193.0 470.0,200.3 468.3,204.9 467.2,208.9 466.8,213.3 466.4,215.4 466.2,219.4 466.0,220.7 465.2,220.7 465.1,220.2 464.9,214.6 464.4,212.9 463.9,208.9 462.3,204.1 460.4,199.6 457.2,192.9 452.3,183.8 438.8,160.6ZM465.0,225.8 465.2,225.3 466.0,225.3 466.8,226.2 467.4,231.4 469.2,238.4 471.6,244.9 474.8,252.4 478.1,259.0 482.1,266.8 492.5,285.4 441.6,285.4 452.3,264.8 456.4,256.1 459.6,248.5 462.0,241.8 463.6,236.3 464.7,230.6 465.0,225.8Z"/>
<path fill="#ff1313" d="M439.5,160.6 489.6,160.6 482.9,172.9 477.3,183.7 473.2,192.1 469.8,200.1 468.1,204.9 467.6,207.3 467.2,208.1 466.8,212.7 466.3,214.6 466.0,220.5 465.2,220.5 465.1,220.2 465.0,214.6 464.7,212.9 464.4,212.5 464.0,208.9 463.6,208.0 463.1,205.7 460.5,199.3 456.4,190.5 452.3,182.9 446.7,172.9 439.5,160.6ZM465.1,225.8 465.2,225.5 466.0,225.5 466.8,226.7 467.2,231.4 468.3,236.3 470.8,244.2 474.8,254.2 481.3,267.4 491.3,285.4 442.9,285.4 448.3,275.1 453.1,265.3 456.4,258.3 459.6,250.3 462.0,243.2 463.9,236.3 464.8,231.4 465.1,225.8Z"/>
<path fill="#ff0606" d="M440.1,160.6 489.0,160.6 482.8,171.9 477.8,181.6 474.7,188.0 470.4,197.7 469.2,201.3 468.9,201.7 468.4,203.8 468.1,204.1 467.8,204.9 467.6,206.8 467.2,207.3 467.0,208.1 466.8,212.1 466.3,212.9 466.2,213.7 466.0,220.2 465.2,220.2 465.0,213.7 464.9,212.9 464.4,212.0 464.0,208.1 463.6,207.7 463.3,205.7 462.8,204.8 462.5,203.3 462.0,202.5 461.6,200.9 461.2,200.4 460.8,199.3 458.3,193.6 452.6,182.4 446.8,171.9 440.1,160.6ZM465.2,225.8 466.1,225.8 466.8,227.4 467.1,232.3 467.2,233.1 467.6,233.7 468.0,236.3 470.6,245.1 474.0,254.2 477.3,261.4 480.5,267.9 490.0,285.4 444.1,285.4 449.9,274.2 453.9,265.9 457.2,258.6 459.6,252.3 462.2,244.3 464.0,237.1 464.4,234.2 464.9,232.3 465.2,225.8Z"/>
<path fill="#ececff" d="M459.5,211.3 460.4,210.7 460.9,211.3 461.6,212.9 461.8,214.6 461.9,217.0 461.5,219.4 461.2,220.3 460.4,221.3 459.6,220.8 459.3,220.2 458.7,217.0 458.7,215.4 458.9,212.9 459.5,211.3ZM469.1,211.3 469.2,210.9 470.0,211.3 470.5,212.1 470.8,213.7 471.6,213.7 472.1,214.6 472.2,215.4 472.0,217.0 471.6,217.6 470.8,218.1 470.6,219.4 470.0,220.8 469.2,221.2 468.3,219.4 468.0,217.0 468.4,212.6 469.1,211.3ZM460.6,225.8 461.2,225.2 461.6,225.8 461.7,226.6 461.6,227.4 461.2,228.1 460.5,227.4 460.3,226.6 460.6,225.8ZM469.1,225.8 470.0,225.5 470.6,226.6 470.6,227.4 470.0,228.6 469.2,228.3 468.9,226.6 469.1,225.8Z"/>
<path fill="#dfdfff" d="M460.1,212.1 460.4,211.9 461.0,212.9 461.5,215.4 461.5,217.0 461.2,218.6 460.4,220.1 459.6,219.4 459.3,218.6 459.0,216.2 459.2,213.7 459.6,212.6 460.1,212.1ZM468.8,212.9 469.2,212.2 470.0,212.6 470.4,213.7 470.7,215.4 470.6,217.0 470.3,218.6 470.0,219.4 469.2,219.9 468.7,218.6 468.4,217.0 468.5,214.6 468.8,212.9ZM471.5,215.4 471.6,216.2 471.5,215.4ZM460.8,226.6 461.2,225.9 461.4,226.6 461.2,227.5 460.8,226.6ZM469.2,226.6 470.0,226.2 470.2,226.6 470.2,227.4 470.0,227.8 469.2,227.5 469.2,226.6Z"/>
<path fill="#d2d2ff" d="M460.3,212.9 460.8,213.7 461.1,214.6 461.2,216.2 461.0,217.8 460.4,219.2 459.6,218.2 459.3,216.2 459.6,213.9 460.3,212.9ZM469.0,213.7 469.2,213.2 470.0,213.8 470.3,215.4 470.3,217.0 470.0,218.2 469.2,218.9 468.8,217.8 468.7,216.2 469.0,213.7Z"/>
<path fill="#c6c6ff" d="M460.4,213.7 460.7,214.6 460.9,216.2 460.4,218.3 459.7,217.0 459.6,216.2 459.9,214.6 460.4,213.7ZM469.1,214.6 469.2,214.2 469.6,214.6 470.0,215.4 470.0,216.2 469.9,217.0 469.2,217.9 468.9,216.2 469.1,214.6Z"/>
<path fill="#b9b9ff" d="M460.2,215.4 460.4,214.8 460.5,215.4 460.4,217.3 460.1,216.2 460.2,215.4Z"/>
</g></g>
<rect x="406.20" y="164.00" width="118.8" height="117.7" fill="none" stroke="#c4c4c4" stroke-width="0.7"/>
<rect x="406.2" y="164.3" width="17.3" height="13.2" fill="#fff" fill-opacity="0.5"/>
<text x="409.3" y="174.2" font-family="'Liberation Serif',serif" font-size="9.2" fill="#1a1a1a">(f)</text>
<rect x="528.2" y="164.3" width="8.4" height="117.4" fill="url(#gb)"/>
<g font-family="'Liberation Sans',sans-serif" font-size="7" fill="#262626" stroke="#262626" stroke-width="0.15">
<text x="539.1" y="166.9">5</text>
<text x="539.1" y="225.6">0</text>
<text x="538.3" y="284.3">-5</text>
</g>
<g font-family="'Liberation Sans',sans-serif" font-size="8.0" fill="#262626" stroke="#262626" stroke-width="0.18">
<text x="428.1" y="292.2" text-anchor="middle">-5</text>
<text x="465.6" y="292.2" text-anchor="middle">0</text>
<text x="502.7" y="292.2" text-anchor="middle">5</text>
<text x="404.2" y="189.3" text-anchor="end" font-size="8.0">5</text>
<text x="404.2" y="226.0" text-anchor="end" font-size="8.0">0</text>
<text x="404.2" y="262.7" text-anchor="end" font-size="8.0">-5</text>
</g>
<text transform="translate(393.6,223.0) rotate(-90)" text-anchor="middle" font-family="'Liberation Sans',sans-serif" font-size="9.2" fill="#262626" stroke="#262626" stroke-width="0.2">Z (<tspan fill="#777" stroke="none">×</tspan> r)</text>
<g clip-path="url(#c20)"><g filter="url(#bl)">
<rect x="21.0" y="306.2" width="126.8" height="125.4" fill="#00008b"/>
<path fill="#00009b" d="M21.3,306.5 147.5,306.5 147.5,431.3 21.3,431.3 21.3,306.5Z"/>
<path fill="#0000a6" d="M21.3,306.5 147.5,306.5 147.5,431.3 21.3,431.3 21.3,306.5Z"/>
<path fill="#0000b1" d="M21.3,306.5 147.5,306.5 147.5,431.3 21.3,431.3 21.3,306.5Z"/>
<path fill="#0000bb" d="M21.3,306.5 147.5,306.5 147.5,431.3 21.3,431.3 21.3,306.5Z"/>
<path fill="#0000c6" d="M21.3,306.5 147.5,306.5 147.5,364.5 147.2,365.3 147.5,366.0 147.5,431.3 21.3,431.3 21.3,366.0 21.6,365.3 21.3,364.5 21.3,306.5Z"/>
<path fill="#0000d1" d="M21.3,306.5 147.5,306.5 147.5,354.2 143.6,365.3 147.5,375.7 147.5,431.3 21.3,431.3 21.3,375.7 25.2,365.3 21.3,354.2 21.3,306.5Z"/>
<path fill="#0000dc" d="M21.3,306.5 147.5,306.5 147.5,347.5 144.6,350.8 142.7,356.5 140.2,365.3 143.7,375.7 144.6,377.3 147.5,381.6 147.5,431.3 21.3,431.3 21.3,381.6 24.2,377.3 25.1,375.7 28.6,365.3 26.1,356.5 24.2,350.8 21.3,347.5 21.3,306.5Z"/>
<path fill="#0000e7" d="M21.3,306.5 147.5,306.5 147.5,342.9 143.5,346.9 140.6,350.8 136.8,365.3 138.7,371.5 140.4,376.5 144.3,383.0 144.9,383.8 147.5,386.1 147.5,431.3 21.3,431.3 21.3,386.1 23.9,383.8 24.5,383.0 28.4,376.5 30.1,371.5 32.0,365.3 28.2,350.8 25.3,346.9 21.3,342.9 21.3,306.5Z"/>
<path fill="#0000f1" d="M21.3,306.5 147.5,306.5 147.5,338.4 144.3,341.0 142.5,342.7 139.9,346.0 137.1,350.0 136.7,350.8 135.7,354.8 133.6,365.3 136.5,375.7 139.8,382.2 140.8,383.8 142.7,385.7 147.5,389.8 147.5,431.3 21.3,431.3 21.3,389.8 26.1,385.7 28.0,383.8 29.0,382.2 32.3,375.7 35.2,365.3 33.1,354.8 32.1,350.8 31.7,350.0 28.9,346.0 26.3,342.7 24.5,341.0 21.3,338.4 21.3,306.5Z"/>
<path fill="#0000fc" d="M21.3,306.5 147.5,306.5 147.5,333.8 143.5,336.6 139.7,340.3 136.5,344.4 133.6,349.2 132.8,350.8 132.7,351.6 130.4,365.3 133.3,376.5 136.9,383.8 139.5,386.8 142.1,389.4 144.3,391.3 147.5,393.6 147.5,431.3 21.3,431.3 21.3,393.6 24.5,391.3 26.7,389.4 29.3,386.8 31.9,383.8 35.5,376.5 38.4,365.3 36.1,351.6 36.0,350.8 35.2,349.2 32.3,344.4 29.1,340.3 25.3,336.6 21.3,333.8 21.3,306.5Z"/>
<path fill="#0008ff" d="M21.3,306.5 147.5,306.5 147.5,324.3 144.3,328.9 142.4,332.3 138.7,335.5 135.2,339.5 132.9,342.7 130.7,346.8 129.0,350.8 127.6,365.3 129.6,375.7 131.4,380.4 133.0,383.8 136.3,387.9 140.1,391.8 143.5,394.7 147.5,397.3 147.5,431.3 21.3,431.3 21.3,397.3 25.3,394.7 28.7,391.8 32.5,387.9 35.8,383.8 37.4,380.4 39.2,375.7 41.2,365.3 39.8,350.8 38.1,346.8 35.9,342.7 33.6,339.5 30.1,335.5 26.4,332.3 24.5,328.9 21.3,324.3 21.3,306.5Z"/>
<path fill="#0013ff" d="M21.3,306.5 147.5,306.5 147.5,312.2 144.3,315.5 142.1,318.6 138.7,324.8 135.5,332.3 132.0,336.3 129.0,341.1 127.4,346.0 126.2,350.8 125.0,365.3 126.7,376.5 129.1,383.8 131.9,387.8 134.5,391.0 138.6,395.1 142.7,398.3 144.4,400.7 147.5,404.3 147.5,431.3 21.3,431.3 21.3,404.3 24.4,400.7 26.1,398.3 30.2,395.1 34.3,391.0 36.9,387.8 39.7,383.8 42.1,376.5 43.8,365.3 42.6,350.8 41.4,346.0 39.8,341.1 36.8,336.3 33.3,332.3 30.1,324.8 26.7,318.6 24.5,315.5 21.3,312.2 21.3,306.5Z"/>
<path fill="#001eff" d="M30.2,306.5 138.6,306.5 137.4,310.6 134.2,316.2 131.8,321.8 129.8,327.8 128.7,332.3 126.8,337.1 125.4,341.9 123.4,350.8 122.5,365.3 123.7,376.5 125.7,383.8 127.3,387.0 129.0,389.9 130.6,392.0 133.4,395.1 136.9,398.3 139.5,402.3 142.5,406.3 144.3,408.3 147.5,411.4 147.5,431.3 21.3,431.3 21.3,411.4 24.5,408.3 26.3,406.3 29.3,402.3 31.9,398.3 35.4,395.1 38.2,392.0 39.8,389.9 41.5,387.0 43.1,383.8 45.1,376.5 46.3,365.3 45.4,350.8 43.4,341.9 42.0,337.1 40.1,332.3 39.0,327.8 37.0,321.8 34.6,316.2 31.4,310.6 30.2,306.5Z"/>
<path fill="#0028ff" d="M40.7,306.5 128.1,306.5 127.7,310.6 125.9,321.0 124.5,332.3 122.3,340.3 120.7,350.0 120.0,365.3 120.8,376.5 122.3,383.8 124.4,388.6 126.7,392.6 129.0,395.9 131.4,398.3 134.6,403.4 138.7,408.6 143.5,413.8 147.5,417.2 147.5,431.3 21.3,431.3 21.3,417.2 25.3,413.8 30.1,408.6 34.2,403.4 37.4,398.3 39.8,395.9 42.1,392.6 44.4,388.6 46.5,383.8 48.0,376.5 48.8,365.3 48.1,350.0 46.5,340.3 44.3,332.3 42.9,321.0 41.1,310.6 40.7,306.5Z"/>
<path fill="#0033ff" d="M46.3,306.5 122.5,306.5 122.3,310.6 121.1,321.0 120.3,332.3 118.9,340.3 117.9,350.0 117.8,365.3 118.0,375.7 118.4,379.8 119.0,383.8 120.6,388.6 122.5,392.6 124.2,395.4 126.5,398.3 129.0,402.5 133.9,408.7 138.7,414.2 143.5,419.1 147.5,422.3 147.5,431.3 21.3,431.3 21.3,422.3 25.3,419.1 30.1,414.2 34.9,408.7 39.8,402.5 42.3,398.3 44.6,395.4 46.3,392.6 48.2,388.6 49.8,383.8 50.4,379.8 50.8,375.7 51.0,365.3 50.9,350.0 49.9,340.3 48.5,332.3 47.7,321.0 46.5,310.6 46.3,306.5Z"/>
<path fill="#003eff" d="M51.9,306.5 116.9,306.5 116.1,332.3 115.4,341.1 115.2,350.0 115.7,368.5 115.6,380.6 115.8,383.8 116.4,387.0 118.0,391.8 119.6,395.1 124.1,401.5 129.8,409.1 134.6,415.1 139.5,420.4 143.5,424.3 147.5,427.4 147.5,431.3 21.3,431.3 21.3,427.4 25.3,424.3 29.3,420.4 34.2,415.1 39.0,409.1 44.7,401.5 49.2,395.1 50.8,391.8 52.4,387.0 53.0,383.8 53.2,380.6 53.1,368.5 53.6,350.0 53.4,341.1 52.7,332.3 51.9,306.5Z"/>
<path fill="#0049ff" d="M57.6,306.5 111.2,306.5 112.2,345.2 112.5,350.8 113.4,360.5 113.7,366.9 113.7,371.7 113.1,383.8 113.6,389.4 114.4,393.4 115.0,395.1 116.2,397.0 118.8,400.7 125.0,407.9 129.0,414.4 132.2,418.8 135.5,422.8 140.6,428.0 143.3,431.3 25.5,431.3 28.2,428.0 33.3,422.8 36.6,418.8 39.8,414.4 43.8,407.9 50.0,400.7 52.6,397.0 53.8,395.1 54.4,393.4 55.2,389.4 55.7,383.8 55.1,371.7 55.1,366.9 55.4,360.5 56.3,350.8 56.6,345.2 57.6,306.5Z"/>
<path fill="#0054ff" d="M63.1,307.3 63.1,306.5 105.7,306.5 106.4,324.2 107.7,339.5 108.7,346.8 111.8,361.3 112.4,366.9 112.3,372.5 111.2,379.8 110.8,383.8 111.0,388.6 111.6,394.2 112.1,396.7 113.2,400.7 113.7,402.2 114.5,403.7 120.3,409.5 121.8,411.8 122.3,413.6 122.3,415.2 121.8,416.8 121.0,418.0 119.0,420.0 118.5,420.8 118.0,422.4 117.9,424.8 118.7,431.3 50.1,431.3 50.9,424.8 50.8,422.4 50.3,420.8 49.8,420.0 47.8,418.0 47.0,416.8 46.5,415.2 46.5,413.6 47.0,411.8 48.5,409.5 54.3,403.7 55.1,402.2 55.6,400.7 56.7,396.7 57.2,394.2 57.8,388.6 58.0,383.8 57.6,379.8 56.5,372.5 56.4,366.9 57.0,361.3 60.1,346.8 61.1,339.5 62.3,325.0 63.1,307.3Z"/>
<path fill="#005eff" d="M68.6,306.5 100.2,306.5 100.6,317.0 101.2,326.7 102.0,335.5 102.9,341.9 103.8,346.0 104.9,349.2 108.4,355.6 109.8,358.8 110.7,362.1 111.3,366.1 111.4,369.3 111.1,373.3 110.3,377.3 108.7,383.8 108.5,387.8 109.0,396.7 110.4,407.1 110.9,420.8 111.9,431.3 56.9,431.3 57.9,420.8 58.4,407.1 59.8,396.7 60.3,387.8 60.1,383.8 58.5,377.3 57.7,373.3 57.4,369.3 57.5,366.1 58.1,362.1 59.0,358.8 60.4,355.6 63.9,349.2 65.0,346.0 65.9,341.9 66.8,335.5 67.6,326.7 68.2,317.0 68.6,306.5Z"/>
<path fill="#0069ff" d="M72.6,306.5 96.2,306.5 96.6,319.4 97.2,330.7 98.0,339.5 98.9,345.2 99.7,346.8 104.9,352.9 107.7,357.2 109.3,361.3 110.3,366.1 110.4,370.1 109.9,374.1 108.9,378.2 106.6,384.6 106.1,387.0 106.0,388.6 106.0,394.2 106.7,414.4 108.0,431.3 60.8,431.3 62.1,414.4 62.8,394.2 62.8,388.6 62.7,387.0 62.2,384.6 59.9,378.2 58.9,374.1 58.4,370.1 58.5,366.1 59.5,361.3 61.1,357.2 63.9,352.9 69.1,346.8 69.9,345.2 70.8,339.5 71.6,330.7 72.2,319.4 72.6,306.5Z"/>
<path fill="#0074ff" d="M75.9,306.5 92.9,306.5 93.1,318.6 93.6,329.1 94.3,337.9 95.3,344.4 95.9,346.0 97.1,347.6 102.5,352.3 105.4,355.6 107.6,359.6 108.9,363.7 109.3,366.1 109.5,368.5 109.3,371.7 108.9,374.1 107.5,379.0 104.2,386.2 103.7,387.8 103.4,390.2 103.1,401.5 103.2,409.5 103.6,419.2 104.5,431.3 64.3,431.3 65.2,419.2 65.6,409.5 65.7,401.5 65.4,390.2 65.1,387.8 64.6,386.2 61.3,379.0 60.0,374.9 59.4,370.9 59.4,366.9 59.7,364.5 60.6,361.3 61.6,358.8 62.9,356.4 64.7,354.0 66.3,352.3 71.7,347.6 72.9,346.0 73.5,344.4 74.5,337.9 75.2,329.1 75.7,318.6 75.9,306.5Z"/>
<path fill="#007fff" d="M78.2,306.5 90.6,306.5 90.5,321.0 90.7,331.5 91.2,340.2 92.0,345.0 92.8,346.6 93.7,347.6 100.9,352.4 102.7,354.0 104.7,356.4 106.2,358.8 107.0,360.5 107.8,362.9 108.5,366.1 108.7,370.1 107.9,374.9 106.4,379.0 101.8,387.0 101.0,389.4 100.7,391.8 100.2,399.9 100.2,407.9 101.1,431.3 67.7,431.3 68.4,417.6 68.6,407.1 68.6,399.1 68.1,391.0 67.6,388.6 67.0,387.0 62.4,379.0 60.9,374.9 60.2,370.9 60.2,366.9 61.0,362.9 61.8,360.5 62.6,358.8 64.1,356.4 66.1,354.0 67.9,352.4 75.1,347.6 76.0,346.6 76.8,345.0 77.6,340.2 78.1,331.5 78.3,321.0 78.2,306.5Z"/>
<path fill="#008aff" d="M79.7,306.5 89.1,306.5 89.0,334.7 89.3,343.6 89.7,346.8 90.1,347.6 90.8,348.4 92.4,349.2 96.1,350.5 97.7,351.2 100.1,352.8 102.5,354.8 104.5,357.2 105.9,359.6 107.2,362.9 107.9,366.1 108.0,368.5 107.9,371.7 107.4,374.1 106.7,376.5 106.0,378.2 104.6,380.6 103.3,382.5 100.8,385.4 97.4,390.2 96.7,391.8 96.3,393.4 96.1,399.1 96.1,404.7 97.5,431.3 71.3,431.3 72.7,404.7 72.7,399.1 72.5,393.4 72.1,391.8 71.4,390.2 68.0,385.4 65.3,382.2 63.7,379.8 62.1,376.5 61.4,374.1 60.9,371.7 60.8,368.5 61.2,364.5 62.2,361.3 62.9,359.6 64.3,357.2 66.3,354.8 68.7,352.8 71.1,351.2 72.7,350.5 76.4,349.2 78.0,348.4 78.7,347.6 79.2,346.5 79.6,342.7 79.9,333.9 79.7,306.5Z"/>
<path fill="#0095ff" d="M81.0,306.5 87.8,306.5 87.7,325.8 87.8,339.5 88.1,346.8 88.7,349.2 89.6,349.7 93.6,350.5 96.1,351.2 99.3,352.8 101.7,354.7 103.9,357.2 105.8,360.5 106.9,363.7 107.5,366.9 107.5,370.1 107.1,373.3 106.1,376.5 104.5,379.8 102.5,382.5 100.1,384.8 97.7,386.5 95.0,387.8 93.6,388.7 92.8,389.5 92.2,391.0 92.2,392.6 92.5,397.5 94.1,431.3 74.7,431.3 76.3,397.5 76.6,392.6 76.6,391.0 76.0,389.5 75.0,388.6 71.1,386.5 69.5,385.5 67.1,383.3 65.4,381.4 63.8,379.0 62.7,376.5 61.9,374.1 61.3,370.9 61.3,366.9 62.1,362.9 63.4,359.6 65.5,356.4 67.9,354.0 71.1,351.9 72.7,351.2 75.2,350.5 79.2,349.7 80.1,349.2 80.4,348.4 80.9,345.2 81.1,336.3 81.0,306.5Z"/>
<path fill="#009fff" d="M82.5,306.5 86.3,306.5 86.6,339.5 86.8,346.8 87.3,350.0 88.0,350.4 88.8,350.6 92.8,350.9 96.1,351.8 98.5,352.9 100.9,354.6 103.3,357.2 105.3,360.5 106.4,363.7 107.0,366.9 107.0,370.9 106.4,374.1 105.3,377.3 103.3,380.7 100.9,383.3 98.5,385.1 95.3,386.6 90.9,387.8 90.0,388.6 89.9,391.0 90.5,398.3 91.7,431.3 77.1,431.3 78.3,398.3 78.9,391.0 78.8,388.6 77.9,387.8 73.5,386.6 71.1,385.6 68.7,384.0 67.1,382.6 64.8,379.8 63.5,377.3 62.4,374.1 61.8,370.9 61.8,366.9 62.6,362.9 63.5,360.5 64.4,358.8 66.3,356.2 68.7,354.0 71.9,352.1 75.2,351.1 80.8,350.4 81.5,350.0 81.6,349.7 82.0,346.0 82.3,337.9 82.5,306.5Z"/>
<path fill="#00aaff" d="M84.0,333.1 84.0,333.0 84.8,333.0 85.8,347.6 86.2,350.8 87.2,351.3 92.0,351.4 95.3,352.1 97.7,353.0 100.4,354.8 102.8,357.2 104.8,360.5 106.0,363.7 106.6,367.7 106.4,371.7 105.7,374.9 104.4,378.2 102.2,381.4 100.1,383.4 97.7,384.9 94.4,386.1 89.3,387.0 88.4,387.8 88.4,390.2 89.1,398.3 90.0,431.3 78.8,431.3 79.7,398.3 80.4,390.2 80.4,387.8 79.5,387.0 75.2,386.3 71.9,385.3 69.5,384.0 67.4,382.2 65.4,379.8 63.6,376.5 62.6,373.3 62.2,370.1 62.4,366.1 63.3,362.1 64.9,358.8 66.0,357.2 67.5,355.6 70.3,353.5 73.5,352.1 76.8,351.4 81.6,351.3 82.6,350.8 83.0,347.6 84.0,333.1Z"/>
<path fill="#00b5ff" d="M74.2,352.4 77.6,351.9 84.0,352.2 91.2,351.9 94.4,352.4 96.9,353.2 98.5,354.0 100.1,355.1 101.5,356.4 102.9,358.0 104.7,361.3 105.9,365.3 106.1,369.3 105.7,373.3 105.0,375.7 104.3,377.3 102.3,380.6 100.1,382.8 98.5,383.9 96.9,384.7 93.6,385.7 88.0,386.2 87.1,387.0 87.1,389.4 87.9,397.5 88.4,431.3 80.4,431.3 80.9,397.5 81.7,389.4 81.7,387.0 80.8,386.2 76.0,385.8 73.5,385.3 71.1,384.3 68.7,382.8 66.5,380.6 64.9,378.2 63.8,375.7 62.9,372.5 62.7,368.5 62.9,365.3 63.8,362.1 64.9,359.6 66.5,357.2 68.7,355.1 71.1,353.5 74.2,352.4Z"/>
<path fill="#00c0ff" d="M73.2,353.2 76.0,352.6 78.4,352.5 80.8,352.6 84.0,353.3 84.8,353.3 87.2,352.7 90.4,352.5 93.6,352.7 96.1,353.3 97.7,354.0 99.3,355.0 100.9,356.4 102.4,358.0 104.2,361.3 104.8,362.9 105.4,365.3 105.7,367.7 105.7,370.1 105.1,374.1 104.2,376.5 103.4,378.2 102.4,379.8 101.0,381.4 98.5,383.3 95.3,384.8 92.0,385.4 85.5,385.4 84.9,386.2 85.7,388.6 86.5,394.2 86.8,397.5 86.6,431.3 82.2,431.3 82.0,397.5 82.3,394.2 83.1,388.6 83.9,386.2 83.3,385.4 77.6,385.4 74.4,385.0 71.9,384.2 69.5,382.8 67.1,380.6 65.4,378.2 64.2,375.7 63.4,372.5 63.1,369.3 63.3,366.1 64.0,362.9 64.9,360.5 66.4,358.0 68.7,355.6 71.1,354.0 73.2,353.2Z"/>
<path fill="#00cbff" d="M75.2,353.2 77.6,353.0 80.0,353.1 82.4,353.5 84.0,354.0 84.8,354.0 86.4,353.5 88.8,353.1 91.2,353.0 93.6,353.2 96.1,353.8 98.1,354.8 100.1,356.2 101.7,357.8 103.4,360.5 104.6,363.7 105.2,366.9 105.2,370.9 104.6,374.1 103.4,377.3 101.9,379.8 100.1,381.6 98.5,382.8 96.9,383.7 95.3,384.2 92.8,384.7 88.8,384.8 86.4,384.5 84.8,384.1 84.0,384.1 80.8,384.7 77.6,384.9 74.4,384.5 71.9,383.7 69.5,382.3 67.1,380.0 65.8,378.2 65.0,376.5 64.4,374.9 63.8,372.5 63.6,370.1 63.6,367.7 63.8,365.3 64.4,362.9 65.8,359.6 66.9,358.0 68.5,356.4 70.3,355.0 71.9,354.2 75.2,353.2ZM84.0,394.2 84.8,394.2 85.1,395.9 85.2,397.5 84.8,402.4 84.0,402.4 83.6,397.5 84.0,394.2Z"/>
<path fill="#00d5ff" d="M73.8,354.0 76.0,353.6 79.2,353.5 81.6,353.8 84.0,354.5 84.8,354.5 86.4,354.0 88.8,353.6 92.8,353.6 95.3,354.1 96.9,354.7 98.6,355.6 100.6,357.2 102.5,359.6 103.7,362.1 104.5,365.3 104.8,368.5 104.6,371.7 103.9,374.9 102.5,378.2 100.6,380.6 98.5,382.3 96.1,383.5 93.6,384.1 90.4,384.3 87.2,384.0 84.8,383.3 84.0,383.3 82.4,383.9 80.0,384.3 77.6,384.3 75.2,384.1 72.7,383.5 71.1,382.8 69.5,381.7 68.2,380.6 66.9,379.0 65.9,377.3 64.6,374.1 64.2,371.7 64.0,369.3 64.1,366.9 64.4,364.5 65.1,362.1 65.9,360.5 67.9,357.5 70.3,355.5 71.9,354.7 73.8,354.0Z"/>
<path fill="#00e0ff" d="M77.5,354.0 80.8,354.2 84.0,355.1 84.8,355.1 86.4,354.5 88.8,354.1 91.2,354.0 93.6,354.2 96.1,354.8 97.8,355.6 100.0,357.2 101.4,358.8 102.9,361.3 103.9,364.5 104.3,367.7 104.2,371.7 103.5,374.9 102.5,377.3 100.9,379.6 99.3,381.2 97.7,382.2 96.1,383.0 92.8,383.7 88.8,383.7 86.4,383.3 84.8,382.8 84.0,382.8 80.8,383.6 76.8,383.8 73.5,383.2 71.1,382.2 68.8,380.6 67.4,379.0 66.3,377.3 65.6,375.7 64.9,373.3 64.6,371.7 64.5,369.3 64.6,366.1 64.9,364.5 65.6,362.1 66.3,360.5 67.4,358.8 68.7,357.3 70.3,356.1 71.9,355.2 73.5,354.6 75.2,354.2 77.5,354.0Z"/>
<path fill="#00ebff" d="M74.5,354.8 76.8,354.5 80.0,354.5 82.4,355.0 84.0,355.6 84.8,355.6 86.4,355.0 88.8,354.5 92.8,354.5 96.1,355.3 97.7,356.0 100.1,357.9 102.0,360.5 103.1,362.9 103.8,366.1 103.9,369.3 103.7,372.5 102.8,375.7 101.5,378.2 100.1,379.9 97.7,381.8 96.1,382.5 92.8,383.3 90.4,383.4 88.0,383.2 85.6,382.6 84.8,382.2 84.0,382.2 82.4,382.8 80.0,383.3 77.6,383.4 75.2,383.1 72.7,382.5 71.1,381.8 68.7,379.9 66.8,377.3 66.0,375.7 65.3,373.3 64.9,370.9 64.9,368.5 65.3,364.5 66.0,362.1 66.8,360.5 68.6,358.0 71.1,356.0 72.7,355.3 74.5,354.8Z"/>
<path fill="#00f6ff" d="M73.0,355.6 76.0,355.0 79.2,354.9 81.6,355.2 84.0,356.0 84.8,356.0 86.4,355.4 88.0,355.0 90.4,354.9 92.8,355.0 96.1,355.7 97.7,356.5 99.3,357.6 101.1,359.6 102.1,361.3 103.0,363.7 103.5,366.9 103.5,370.9 103.0,374.1 102.1,376.5 100.5,379.0 98.5,380.8 96.9,381.8 94.4,382.6 92.0,382.9 88.0,382.8 86.4,382.4 84.8,381.8 84.0,381.8 82.4,382.4 80.0,382.9 76.0,382.8 72.7,382.1 71.1,381.3 69.5,380.2 67.7,378.2 66.7,376.5 66.1,374.9 65.3,370.9 65.4,366.1 66.1,362.9 66.7,361.3 67.7,359.6 68.7,358.4 70.3,357.0 73.0,355.6Z"/>
<path fill="#02fffd" d="M74.2,355.6 76.8,355.3 80.0,355.3 82.4,355.8 84.0,356.4 84.8,356.4 86.4,355.8 88.0,355.4 90.4,355.2 92.8,355.3 96.1,356.1 97.7,356.8 99.3,358.0 100.9,359.9 102.1,362.1 102.8,364.5 103.2,367.7 103.1,370.9 102.6,374.1 101.7,376.5 100.1,379.0 98.3,380.6 96.1,381.7 93.6,382.4 91.2,382.6 88.0,382.4 86.4,382.1 84.8,381.4 84.0,381.4 82.4,382.1 80.0,382.5 77.6,382.6 75.2,382.4 73.5,382.0 71.9,381.4 69.5,379.8 68.1,378.2 67.1,376.6 66.0,373.3 65.7,370.9 65.6,368.5 66.0,364.5 67.1,361.3 68.7,358.8 71.1,356.8 72.7,356.1 74.2,355.6Z"/>
<path fill="#0cfff3" d="M76.8,355.6 80.8,355.8 82.4,356.1 84.0,356.7 84.8,356.7 86.4,356.1 88.8,355.7 91.2,355.6 93.6,355.8 95.3,356.1 96.9,356.8 98.5,357.8 99.6,358.8 101.3,361.3 102.3,363.7 102.7,366.1 102.9,369.3 102.6,372.5 102.0,374.9 100.9,377.3 99.3,379.3 96.9,381.0 95.3,381.7 93.6,382.0 91.2,382.2 88.8,382.1 86.4,381.7 84.8,381.1 84.0,381.1 82.4,381.7 80.8,382.0 77.6,382.2 75.2,382.0 72.7,381.4 71.1,380.6 69.2,379.0 67.9,377.4 67.1,375.8 66.2,372.5 65.9,370.1 66.0,366.9 66.3,364.5 66.8,362.9 67.9,360.4 69.2,358.8 70.3,357.8 71.9,356.8 73.5,356.1 76.8,355.6Z"/>
<path fill="#17ffe8" d="M73.9,356.4 76.0,356.0 79.2,356.0 81.6,356.3 84.0,357.1 84.8,357.1 86.4,356.5 88.0,356.1 92.0,356.0 95.3,356.5 96.9,357.2 98.5,358.2 100.1,359.9 101.4,362.1 102.2,364.5 102.5,366.9 102.5,370.9 102.2,373.3 101.4,375.7 99.9,378.2 98.5,379.6 96.9,380.6 94.4,381.5 92.0,381.8 88.0,381.7 86.4,381.3 84.8,380.7 84.0,380.7 82.4,381.3 80.8,381.7 78.4,381.8 76.0,381.8 72.7,381.0 70.3,379.6 68.3,377.3 67.4,375.7 66.8,374.1 66.5,372.5 66.3,370.1 66.5,365.3 67.4,362.1 68.9,359.6 71.1,357.6 73.9,356.4Z"/>
<path fill="#22ffdd" d="M75.8,356.4 80.0,356.4 82.4,356.9 84.0,357.5 84.8,357.5 86.4,356.9 88.0,356.5 90.4,356.3 92.8,356.4 94.4,356.7 96.1,357.2 97.7,358.0 98.7,358.8 100.1,360.5 101.3,362.9 102.0,365.3 102.2,367.7 102.2,370.9 101.6,374.1 100.6,376.5 99.3,378.4 97.7,379.8 96.1,380.6 93.6,381.3 91.2,381.5 88.0,381.3 86.4,380.9 84.8,380.3 84.0,380.3 82.4,380.9 80.8,381.3 78.4,381.5 76.0,381.4 74.4,381.1 72.7,380.6 71.1,379.8 70.1,379.0 68.2,376.5 67.5,374.9 67.0,373.3 66.6,370.9 66.6,368.5 67.0,364.5 67.5,362.9 68.2,361.3 70.1,358.8 71.1,358.0 72.7,357.2 75.8,356.4Z"/>
<path fill="#2dffd2" d="M73.7,357.2 76.0,356.8 79.2,356.7 81.6,357.0 84.0,357.9 84.8,357.9 86.4,357.2 88.0,356.9 92.0,356.7 95.3,357.3 96.9,358.0 98.1,358.8 99.7,360.5 100.6,362.1 101.5,364.5 101.8,366.9 101.8,370.9 101.5,373.3 100.6,375.7 99.7,377.3 98.5,378.7 96.9,379.8 94.4,380.8 92.0,381.1 88.0,380.9 86.4,380.6 84.8,379.9 84.0,379.9 82.4,380.6 80.8,380.9 78.4,381.1 76.0,381.0 74.4,380.8 72.7,380.2 70.7,379.0 68.7,376.8 67.5,374.1 67.0,370.9 67.0,366.1 67.8,362.9 69.1,360.5 71.1,358.5 73.7,357.2Z"/>
<path fill="#38ffc7" d="M75.2,357.2 77.6,357.0 80.0,357.1 82.4,357.6 84.0,358.3 84.8,358.3 86.4,357.6 88.0,357.2 92.0,357.1 95.3,357.7 97.7,358.9 99.2,360.5 100.3,362.1 101.1,364.5 101.5,366.9 101.5,370.9 101.1,373.3 100.3,375.7 99.2,377.3 97.7,378.9 96.1,379.8 94.4,380.4 92.0,380.7 88.0,380.6 86.4,380.2 84.8,379.5 84.0,379.5 82.4,380.2 80.8,380.6 78.4,380.8 76.0,380.7 73.5,380.1 71.1,378.9 70.3,378.2 69.0,376.5 68.2,374.9 67.7,373.3 67.2,369.3 67.5,365.3 67.9,363.7 68.5,362.1 70.3,359.6 71.3,358.8 72.7,358.0 75.2,357.2Z"/>
<path fill="#48ffb7" d="M73.6,358.0 76.0,357.5 79.2,357.4 81.6,357.8 84.0,358.8 84.8,358.8 86.4,358.0 88.0,357.6 92.0,357.4 95.3,358.0 97.7,359.4 99.3,361.1 100.1,362.5 100.8,364.5 101.2,366.9 101.2,370.1 101.0,372.5 100.2,374.9 99.3,376.7 97.7,378.4 96.1,379.4 94.4,380.0 92.0,380.4 88.0,380.2 86.4,379.8 84.8,379.0 84.0,379.0 82.4,379.8 80.8,380.2 78.4,380.4 76.0,380.3 73.5,379.8 71.1,378.4 69.4,376.5 68.6,374.9 68.0,373.3 67.6,370.1 67.7,366.1 68.3,363.7 69.5,361.1 71.1,359.4 73.6,358.0Z"/>
<path fill="#5dffa2" d="M73.5,358.8 76.0,358.2 79.2,358.1 81.6,358.5 84.0,359.6 84.8,359.6 86.4,358.8 88.0,358.3 92.0,358.1 94.4,358.5 96.8,359.6 97.8,360.5 99.1,362.1 99.9,363.7 100.5,366.1 100.6,368.5 100.5,371.7 99.9,374.1 99.1,375.7 97.7,377.5 96.1,378.6 94.4,379.3 92.8,379.6 90.4,379.7 88.0,379.5 86.4,379.0 84.8,378.2 84.0,378.2 82.4,379.0 80.8,379.5 76.8,379.7 74.4,379.3 72.0,378.2 70.3,376.5 68.9,374.1 68.2,370.9 68.2,366.9 68.9,363.7 69.7,362.1 71.1,360.3 72.7,359.2 73.5,358.8ZM84.0,368.3 84.0,369.5 84.8,369.5 84.8,368.3 84.0,368.3Z"/>
<path fill="#73ff8c" d="M75.8,358.8 78.4,358.7 80.8,358.9 82.4,359.4 84.0,360.4 84.8,360.4 86.4,359.4 88.0,358.9 89.6,358.7 92.0,358.7 94.4,359.2 96.9,360.4 97.7,361.3 98.8,362.9 99.5,364.5 100.0,366.9 100.1,369.3 99.9,371.7 99.2,374.1 98.4,375.7 96.9,377.3 95.6,378.2 93.6,378.8 92.0,379.1 89.6,379.1 88.0,378.9 86.4,378.4 84.8,377.4 84.0,377.4 82.4,378.4 80.8,378.9 79.2,379.1 76.8,379.1 74.4,378.6 71.9,377.4 70.3,375.6 69.6,374.1 69.1,372.5 68.7,368.5 69.1,365.3 70.0,362.9 71.1,361.2 73.2,359.6 75.8,358.8ZM84.0,367.8 83.9,368.5 84.0,370.0 84.8,370.0 84.9,368.5 84.8,367.8 84.0,367.8Z"/>
<path fill="#89ff76" d="M74.9,359.6 76.8,359.3 80.0,359.4 82.4,360.1 84.0,361.1 84.8,361.1 86.4,360.1 88.0,359.5 89.6,359.3 92.0,359.3 94.4,359.8 96.1,360.6 97.6,362.1 98.5,363.4 99.2,365.3 99.4,366.9 99.5,370.1 99.3,372.0 98.6,374.1 97.7,375.7 96.9,376.6 95.3,377.7 93.6,378.2 92.0,378.5 89.6,378.5 88.0,378.3 86.4,377.7 84.8,376.7 84.0,376.7 83.0,377.3 81.6,378.0 79.2,378.5 76.8,378.5 75.2,378.2 72.7,377.2 71.1,375.7 69.9,373.3 69.4,370.9 69.4,366.9 69.9,364.5 71.1,362.1 72.7,360.6 74.9,359.6ZM84.0,367.4 83.8,368.5 83.9,370.1 84.0,370.4 84.8,370.4 85.0,369.3 84.9,367.7 84.8,367.4 84.0,367.4Z"/>
<path fill="#9eff61" d="M74.4,360.5 76.8,359.9 80.0,360.0 82.4,360.8 84.0,362.0 84.8,362.0 85.7,361.3 87.2,360.4 89.6,359.9 92.8,360.0 95.3,360.8 96.8,362.1 97.5,362.9 98.3,364.5 98.8,366.1 99.0,368.5 98.9,370.9 98.5,372.9 97.7,374.6 96.8,375.7 95.3,377.0 93.6,377.6 92.0,377.9 89.6,377.9 88.0,377.6 86.4,377.0 84.8,375.8 84.0,375.8 83.1,376.5 81.6,377.4 79.2,377.9 76.0,377.8 73.5,377.0 71.9,375.7 71.1,374.6 70.5,373.3 69.9,370.9 69.8,367.7 70.2,365.3 71.1,363.2 72.7,361.4 74.4,360.5ZM84.0,367.0 83.6,368.5 83.8,370.1 84.0,370.8 84.8,370.8 85.2,369.3 85.0,367.7 84.8,367.0 84.0,367.0Z"/>
<path fill="#b4ff4b" d="M74.1,361.3 76.8,360.5 80.0,360.6 82.4,361.5 84.0,363.0 84.8,363.0 86.4,361.5 88.8,360.6 92.0,360.5 94.7,361.3 95.9,362.1 96.9,363.1 97.7,364.5 98.2,366.1 98.5,368.5 98.3,370.9 98.0,372.5 97.3,374.1 96.1,375.6 95.3,376.2 93.6,377.0 92.0,377.3 89.6,377.3 88.0,377.0 86.4,376.3 84.8,374.8 84.0,374.8 82.4,376.3 80.0,377.2 76.8,377.3 74.1,376.5 72.9,375.7 72.1,374.9 71.1,373.3 70.5,370.9 70.3,368.5 70.6,366.1 71.5,363.7 72.7,362.2 74.1,361.3ZM84.0,366.5 83.5,368.5 83.6,370.1 84.0,371.3 84.8,371.3 85.3,369.3 85.2,367.7 84.8,366.5 84.0,366.5Z"/>
<path fill="#caff35" d="M76.0,361.3 78.4,361.1 80.8,361.5 82.0,362.1 83.0,362.9 84.0,364.2 84.8,364.2 85.6,363.0 86.4,362.3 87.2,361.8 88.8,361.2 90.4,361.1 92.0,361.1 94.4,361.9 95.8,362.9 96.5,363.7 97.3,365.3 97.8,366.9 97.9,369.3 97.8,370.9 96.9,373.5 96.1,374.7 94.8,375.7 93.6,376.3 92.0,376.7 89.6,376.7 88.0,376.3 86.8,375.7 85.8,374.9 84.8,373.6 84.0,373.6 83.2,374.8 82.4,375.5 81.6,376.0 80.0,376.6 78.4,376.7 76.8,376.7 74.4,375.9 72.7,374.7 71.5,372.5 70.9,370.1 70.9,367.7 71.5,365.3 72.3,363.7 74.0,362.1 76.0,361.3ZM84.0,365.8 83.5,367.7 83.5,370.1 84.0,372.0 84.8,372.0 85.3,370.1 85.3,367.7 84.8,365.8 84.0,365.8Z"/>
<path fill="#dfff20" d="M75.5,362.1 77.6,361.6 80.0,361.9 82.0,362.9 83.4,364.5 83.7,365.3 83.3,369.3 83.7,372.5 83.4,373.3 82.9,374.1 82.0,374.9 80.8,375.6 79.2,376.1 77.6,376.2 75.2,375.6 74.0,374.9 73.1,374.1 71.9,372.1 71.4,369.3 71.5,367.7 71.9,365.7 72.5,364.5 73.5,363.3 75.5,362.1ZM88.3,362.1 89.6,361.7 91.2,361.6 93.6,362.2 94.8,362.9 95.7,363.7 96.3,364.5 97.0,366.1 97.3,367.7 97.4,369.3 97.2,370.9 96.7,372.5 96.1,373.6 95.3,374.5 94.4,375.2 92.8,375.9 90.4,376.2 88.3,375.7 86.4,374.6 85.4,373.3 85.1,372.5 85.5,368.5 85.1,365.3 85.4,364.5 85.9,363.7 87.2,362.6 88.3,362.1Z"/>
<path fill="#f5ff0a" d="M75.2,362.9 77.6,362.2 79.2,362.3 80.0,362.5 82.0,363.7 83.2,365.3 83.3,366.9 83.2,372.5 82.4,373.7 80.8,374.9 79.2,375.5 76.8,375.5 75.2,374.9 74.4,374.4 73.5,373.6 72.8,372.5 72.0,370.1 71.9,368.5 72.1,366.9 72.8,365.3 73.3,364.5 74.4,363.4 75.2,362.9ZM88.0,362.9 89.6,362.3 92.0,362.3 93.6,362.9 94.4,363.4 95.3,364.2 96.0,365.3 96.8,367.7 96.9,369.3 96.7,370.9 96.0,372.5 95.5,373.3 94.7,374.1 93.6,374.9 91.2,375.6 89.6,375.5 88.8,375.3 86.8,374.1 85.6,372.5 85.5,366.9 85.6,365.3 86.4,364.1 88.0,362.9Z"/>
<path fill="#fff400" d="M76.7,362.9 78.4,362.7 80.8,363.4 82.1,364.5 82.7,365.3 83.1,366.9 83.1,370.9 82.7,372.5 82.1,373.3 80.8,374.4 78.4,375.1 77.6,375.1 76.0,374.7 74.4,373.7 73.3,372.5 72.4,370.1 72.4,367.7 73.3,365.3 74.4,364.1 75.2,363.5 76.7,362.9ZM89.5,362.9 91.2,362.7 92.8,363.1 93.6,363.5 94.4,364.1 95.5,365.3 96.4,367.7 96.4,370.1 95.5,372.5 94.4,373.7 93.6,374.3 92.8,374.7 91.2,375.1 90.4,375.1 88.8,374.8 87.2,373.8 86.1,372.5 85.7,370.9 85.7,366.9 86.1,365.3 86.7,364.5 88.0,363.4 89.5,362.9Z"/>
<path fill="#ffde00" d="M75.6,363.7 77.6,363.1 79.2,363.2 80.0,363.4 81.6,364.5 82.6,366.1 82.9,368.5 82.8,370.9 82.6,371.7 81.6,373.3 80.0,374.4 79.2,374.6 77.6,374.7 76.0,374.3 74.4,373.2 73.3,371.7 72.7,369.3 73.0,366.9 73.8,365.3 74.5,364.5 75.6,363.7ZM88.4,363.7 90.4,363.1 92.0,363.2 92.8,363.5 94.4,364.6 95.5,366.1 96.1,368.5 95.8,370.9 95.3,372.1 94.4,373.2 92.8,374.3 91.2,374.7 89.6,374.6 88.8,374.4 87.2,373.3 86.2,371.7 86.0,370.9 85.9,368.5 86.2,366.1 87.2,364.5 88.4,363.7Z"/>
<path fill="#ffc800" d="M76.5,363.7 78.4,363.4 80.0,363.8 81.6,365.0 82.3,366.1 82.6,366.9 82.7,370.1 82.3,371.7 81.0,373.3 79.2,374.3 77.6,374.4 76.8,374.2 75.2,373.4 74.4,372.7 73.7,371.7 73.1,370.1 73.1,367.7 73.7,366.1 75.0,364.5 76.5,363.7ZM89.2,363.7 91.2,363.4 92.8,363.9 93.6,364.4 94.4,365.1 95.1,366.1 95.7,367.7 95.7,370.1 95.1,371.7 93.8,373.3 92.0,374.2 90.4,374.4 88.8,374.0 87.2,372.8 86.5,371.7 86.2,370.9 86.1,367.7 86.4,366.2 87.0,365.3 87.8,364.5 89.2,363.7Z"/>
<path fill="#ffb300" d="M75.6,364.5 76.8,363.9 77.6,363.8 79.2,363.9 80.8,364.7 82.0,366.1 82.5,367.7 82.4,370.7 81.4,372.5 80.0,373.6 79.2,373.9 77.6,374.0 76.0,373.6 74.7,372.5 73.7,370.9 73.3,369.3 73.5,367.3 74.4,365.7 75.6,364.5ZM88.4,364.5 89.6,363.9 90.4,363.7 92.0,363.9 93.6,364.8 94.7,366.1 95.4,367.7 95.4,370.1 94.4,372.1 93.6,373.0 92.8,373.6 91.2,374.0 89.6,373.9 88.0,373.1 86.8,371.7 86.3,370.1 86.4,367.1 87.2,365.5 88.4,364.5Z"/>
<path fill="#ff9d00" d="M76.3,364.5 77.6,364.1 78.4,364.1 79.7,364.5 80.9,365.3 82.0,366.9 82.4,368.5 82.2,370.1 82.0,370.9 81.6,371.7 80.8,372.6 79.2,373.6 77.6,373.7 76.0,373.2 75.2,372.6 74.5,371.7 73.8,370.1 73.6,368.5 74.0,366.9 75.1,365.3 76.3,364.5ZM89.1,364.5 90.4,364.1 92.0,364.3 93.6,365.2 94.8,366.9 95.2,368.5 95.0,370.1 94.8,370.9 93.6,372.6 92.0,373.5 90.4,373.7 88.8,373.2 87.9,372.5 86.8,370.9 86.6,370.1 86.4,368.5 86.8,366.9 87.9,365.3 89.1,364.5Z"/>
<path fill="#ff8800" d="M77.4,364.5 79.2,364.6 80.4,365.3 81.7,366.9 82.1,368.5 81.9,370.1 81.2,371.7 80.0,372.8 78.4,373.4 76.8,373.2 75.2,372.1 74.4,370.9 73.9,369.3 74.1,367.7 74.8,366.1 76.0,365.0 77.4,364.5ZM90.2,364.5 91.2,364.4 92.0,364.6 93.2,365.3 94.4,366.9 94.9,368.5 94.7,370.1 94.0,371.7 92.8,372.8 91.2,373.4 89.6,373.2 88.0,372.2 87.1,370.9 86.7,369.3 86.9,367.7 87.6,366.1 88.8,365.0 90.2,364.5Z"/>
<path fill="#ff7200" d="M76.2,365.3 77.6,364.8 79.2,364.9 80.0,365.3 80.8,366.1 81.6,367.6 81.8,369.3 81.3,370.9 80.8,371.7 80.0,372.5 79.2,372.9 77.6,373.0 76.2,372.5 75.2,371.6 74.4,370.1 74.3,369.3 74.4,367.7 75.2,366.2 76.2,365.3ZM88.9,365.3 90.4,364.8 92.0,365.0 93.6,366.1 94.1,366.9 94.5,368.5 94.4,370.1 93.6,371.7 92.0,372.8 91.2,373.0 89.6,372.9 88.8,372.5 88.0,371.7 87.5,370.9 87.0,369.3 87.2,367.7 88.0,366.1 88.9,365.3Z"/>
<path fill="#ff5c00" d="M77.0,365.3 78.4,365.1 79.2,365.3 80.3,366.1 81.3,367.7 81.5,368.5 81.3,370.1 80.3,371.7 79.2,372.5 78.4,372.7 76.8,372.5 75.7,371.7 74.7,370.1 74.5,368.5 75.1,366.9 76.0,365.8 77.0,365.3ZM89.7,365.3 91.2,365.1 92.0,365.3 93.1,366.1 94.1,367.7 94.3,369.3 93.7,370.9 92.8,372.0 92.0,372.5 91.2,372.7 89.6,372.5 88.8,372.1 88.0,371.2 87.5,370.1 87.3,368.5 87.8,366.9 88.8,365.7 89.7,365.3Z"/>
<path fill="#ff4700" d="M76.1,366.1 76.8,365.6 78.4,365.4 79.2,365.6 79.9,366.1 80.8,367.2 81.2,368.5 81.0,370.1 80.0,371.7 79.2,372.2 77.6,372.4 76.8,372.2 75.4,370.9 75.0,370.1 74.8,368.5 75.4,366.9 76.1,366.1ZM88.9,366.1 89.6,365.6 91.2,365.4 92.0,365.6 93.4,366.9 94.0,368.5 93.8,370.1 92.8,371.6 92.0,372.2 91.2,372.4 89.6,372.2 88.8,371.7 88.0,370.6 87.6,369.3 87.6,368.5 88.2,366.9 88.9,366.1Z"/>
<path fill="#ff3100" d="M76.6,366.1 77.6,365.7 78.4,365.7 79.2,365.9 80.0,366.5 80.7,367.7 80.9,369.3 80.7,370.1 80.0,371.3 79.2,371.9 78.4,372.1 77.6,372.1 76.8,371.8 75.7,370.9 75.3,370.1 75.1,369.3 75.3,367.7 75.7,366.9 76.6,366.1ZM89.4,366.1 90.4,365.7 91.2,365.7 92.0,366.0 93.1,366.9 93.5,367.7 93.7,368.5 93.5,370.1 93.1,370.9 92.0,371.8 91.2,372.1 90.4,372.1 89.6,371.9 88.8,371.3 88.1,370.1 87.9,369.3 88.1,367.7 88.5,366.9 89.4,366.1Z"/>
<path fill="#ff1b00" d="M77.3,366.1 78.4,366.0 79.2,366.2 80.0,366.9 80.5,367.7 80.7,368.5 80.5,370.1 80.0,370.9 79.2,371.6 78.4,371.8 77.6,371.8 76.8,371.5 76.0,370.8 75.3,369.3 75.6,367.7 76.0,367.0 76.8,366.3 77.3,366.1ZM90.0,366.1 91.2,366.0 92.0,366.3 92.8,367.0 93.5,368.5 93.2,370.1 92.8,370.8 92.0,371.5 91.2,371.8 90.4,371.8 89.6,371.6 88.8,370.9 88.3,370.1 88.1,369.3 88.3,367.7 88.8,366.9 90.0,366.1Z"/>
<path fill="#ff0600" d="M76.4,366.9 77.6,366.3 78.4,366.2 79.2,366.5 80.0,367.3 80.4,368.5 80.4,369.3 80.0,370.5 79.2,371.3 78.4,371.6 77.6,371.5 76.8,371.2 76.0,370.3 75.6,369.3 75.6,368.5 75.8,367.7 76.4,366.9ZM89.2,366.9 90.4,366.2 91.2,366.3 92.0,366.6 92.8,367.5 93.2,368.5 93.2,369.3 92.8,370.3 92.0,371.2 91.2,371.5 90.4,371.6 89.6,371.3 88.8,370.5 88.4,369.3 88.4,368.5 88.6,367.7 89.2,366.9Z"/>
<path fill="#ef0000" d="M76.8,366.9 77.6,366.6 78.4,366.5 79.2,366.8 79.9,367.7 80.2,368.5 80.2,369.3 79.9,370.1 79.2,371.0 78.4,371.3 77.6,371.2 76.8,370.9 76.2,370.1 75.8,369.3 75.8,368.5 76.2,367.7 76.8,366.9ZM89.6,366.9 90.4,366.5 91.2,366.6 92.0,366.9 92.6,367.7 93.0,368.5 93.0,369.3 92.6,370.1 92.0,370.9 91.2,371.2 90.4,371.3 89.6,371.0 88.9,370.1 88.6,369.3 88.6,368.5 88.9,367.7 89.6,366.9Z"/>
<path fill="#da0000" d="M77.5,366.9 78.4,366.8 79.2,367.3 79.9,368.5 79.9,369.3 79.5,370.1 78.4,371.0 77.6,371.0 76.8,370.4 76.2,369.3 76.2,368.5 76.5,367.7 77.5,366.9ZM90.3,366.9 91.3,366.9 92.0,367.4 92.6,368.5 92.6,369.3 92.3,370.1 91.2,371.0 90.4,371.0 89.6,370.5 88.9,369.3 88.9,368.5 89.3,367.7 90.3,366.9Z"/>
<path fill="#c40000" d="M77.1,367.7 77.6,367.4 78.4,367.3 78.9,367.7 79.4,368.5 79.4,369.3 79.2,369.8 78.4,370.5 77.6,370.4 76.8,369.7 76.6,368.5 77.1,367.7ZM89.9,367.7 90.4,367.3 91.2,367.4 92.0,368.1 92.2,369.3 91.7,370.1 91.2,370.4 90.4,370.5 89.6,369.8 89.4,369.3 89.4,368.5 89.9,367.7Z"/>
<path fill="#ae0000" d="M77.1,368.5 77.6,368.0 78.4,367.9 78.9,368.5 78.9,369.3 78.4,369.9 77.6,369.8 77.1,369.3 77.1,368.5ZM89.9,368.5 90.4,367.9 91.2,368.0 91.7,368.5 91.7,369.3 91.2,369.8 90.4,369.9 89.9,369.3 89.9,368.5Z"/>
</g></g>
<rect x="25.0" y="310.2" width="17.3" height="13.2" fill="#fff" fill-opacity="0.5"/>
<text x="28.1" y="320.1" font-family="'Liberation Serif',serif" font-size="9.2" fill="#1a1a1a">(g)</text>
<rect x="146.8" y="310.2" width="8.4" height="117.4" fill="url(#gj)"/>
<g font-family="'Liberation Sans',sans-serif" font-size="7" fill="#262626" stroke="#262626" stroke-width="0.15">
<text x="158.1" y="312.8">130</text>
<text x="158.1" y="329.6">120</text>
<text x="158.1" y="346.3">110</text>
<text x="158.1" y="363.1">100</text>
<text x="158.1" y="379.9">90</text>
<text x="158.1" y="396.7">80</text>
<text x="158.1" y="413.4">70</text>
<text x="158.1" y="430.2">60</text>
</g>
<g font-family="'Liberation Sans',sans-serif" font-size="8.3" fill="#262626" stroke="#262626" stroke-width="0.18">
<text x="46.9" y="439.5" text-anchor="middle">-5</text>
<text x="84.4" y="439.5" text-anchor="middle">0</text>
<text x="121.5" y="439.5" text-anchor="middle">5</text>
<text x="23.0" y="335.2" text-anchor="end" font-size="8.0">5</text>
<text x="23.0" y="371.9" text-anchor="end" font-size="8.0">0</text>
<text x="23.0" y="408.6" text-anchor="end" font-size="8.0">-5</text>
</g>
<text transform="translate(12.4,368.9) rotate(-90)" text-anchor="middle" font-family="'Liberation Sans',sans-serif" font-size="9.2" fill="#262626" stroke="#262626" stroke-width="0.2">Z (<tspan fill="#777" stroke="none">×</tspan> r)</text>
<text x="84.7" y="451.3" text-anchor="middle" font-family="'Liberation Sans',sans-serif" font-size="9.2" fill="#262626" stroke="#262626" stroke-width="0.2">X (<tspan fill="#777" stroke="none">×</tspan> r)</text>
<g clip-path="url(#c21)"><g filter="url(#bl)">
<rect x="207.4" y="306.2" width="126.8" height="125.4" fill="#00008b"/>
<path fill="#00009b" d="M207.7,306.5 333.9,306.5 333.9,431.3 207.7,431.3 207.7,306.5Z"/>
<path fill="#0000a6" d="M207.7,306.5 333.9,306.5 333.9,431.3 207.7,431.3 207.7,306.5Z"/>
<path fill="#0000b1" d="M207.7,306.5 333.9,306.5 333.9,431.3 207.7,431.3 207.7,306.5Z"/>
<path fill="#0000bb" d="M207.7,306.5 333.9,306.5 333.9,431.3 207.7,431.3 207.7,306.5Z"/>
<path fill="#0000c6" d="M207.7,306.5 333.9,306.5 333.9,431.3 207.7,431.3 207.7,306.5Z"/>
<path fill="#0000d1" d="M207.7,306.5 333.9,306.5 333.9,360.7 330.4,365.3 333.9,370.1 333.9,431.3 207.7,431.3 207.7,370.1 211.2,365.3 207.7,360.7 207.7,306.5Z"/>
<path fill="#0000dc" d="M207.7,306.5 333.9,306.5 333.9,356.6 329.9,361.2 327.2,365.3 330.7,370.9 333.9,375.4 333.9,431.3 207.7,431.3 207.7,375.4 210.9,370.9 214.4,365.3 211.7,361.2 207.7,356.6 207.7,306.5Z"/>
<path fill="#0000e7" d="M207.7,306.5 333.9,306.5 333.9,353.0 331.8,354.8 329.6,357.2 326.6,361.3 324.1,365.3 330.2,375.7 333.9,379.5 333.9,431.3 207.7,431.3 207.7,379.5 211.4,375.7 217.5,365.3 215.0,361.3 212.0,357.2 209.8,354.8 207.7,353.0 207.7,306.5Z"/>
<path fill="#0000f1" d="M207.7,306.5 333.9,306.5 333.9,349.9 329.9,353.1 328.2,354.8 324.0,360.5 321.2,365.3 324.9,372.5 327.2,376.5 330.0,379.8 333.9,383.3 333.9,431.3 207.7,431.3 207.7,383.3 211.6,379.8 214.4,376.5 216.7,372.5 220.4,365.3 217.6,360.5 213.4,354.8 211.7,353.1 207.7,349.9 207.7,306.5Z"/>
<path fill="#0000fc" d="M207.7,306.5 333.9,306.5 333.9,346.8 329.9,349.8 325.4,354.0 321.4,359.6 318.3,365.3 321.6,372.5 323.7,376.5 326.2,379.8 329.1,383.0 330.7,384.5 333.9,387.1 333.9,431.3 207.7,431.3 207.7,387.1 210.9,384.5 212.5,383.0 215.4,379.8 217.9,376.5 220.0,372.5 223.3,365.3 220.2,359.6 216.2,354.0 211.7,349.8 207.7,346.8 207.7,306.5Z"/>
<path fill="#0008ff" d="M207.7,306.5 333.9,306.5 333.9,343.7 330.7,345.8 328.5,347.6 325.1,350.8 322.0,354.0 318.3,359.6 315.4,365.3 319.8,375.7 321.9,378.9 325.1,382.8 328.3,386.2 330.7,388.4 333.9,390.8 333.9,431.3 207.7,431.3 207.7,390.8 210.9,388.4 213.3,386.2 216.5,382.8 219.7,378.9 221.8,375.7 226.2,365.3 223.3,359.6 219.6,354.0 216.5,350.8 213.1,347.6 210.9,345.8 207.7,343.7 207.7,306.5Z"/>
<path fill="#0013ff" d="M207.7,306.5 333.9,306.5 333.9,340.7 329.9,343.1 326.7,345.7 323.0,349.2 319.4,353.1 318.1,354.8 315.4,359.3 313.0,365.3 316.1,374.9 316.8,376.5 318.6,379.4 321.3,383.0 324.1,386.2 329.0,391.0 330.7,393.0 333.9,396.0 333.9,431.3 207.7,431.3 207.7,396.0 210.9,393.0 212.6,391.0 217.5,386.2 220.3,383.0 223.0,379.4 224.8,376.5 225.5,374.9 228.6,365.3 226.2,359.3 223.5,354.8 222.2,353.1 218.6,349.2 214.9,345.7 211.7,343.1 207.7,340.7 207.7,306.5Z"/>
<path fill="#001eff" d="M207.7,306.5 333.9,306.5 333.9,335.3 330.4,339.5 326.0,342.7 321.9,346.4 319.2,349.2 316.2,352.8 315.3,354.0 313.4,358.0 311.7,362.1 310.6,365.3 313.4,375.7 314.4,378.2 315.8,380.6 319.4,385.6 324.3,391.0 328.3,396.0 330.7,398.5 333.9,401.2 333.9,431.3 207.7,431.3 207.7,401.2 210.9,398.5 213.3,396.0 217.3,391.0 222.2,385.6 225.8,380.6 227.2,378.2 228.2,375.7 231.0,365.3 229.9,362.1 228.2,358.0 226.3,354.0 225.4,352.8 222.4,349.2 219.7,346.4 215.6,342.7 211.2,339.5 207.7,335.3 207.7,306.5Z"/>
<path fill="#0028ff" d="M207.7,306.5 333.9,306.5 333.9,328.7 329.9,333.0 325.5,339.5 320.2,344.0 317.8,346.5 315.4,349.3 312.6,354.0 311.5,356.4 309.5,361.3 308.4,365.3 309.3,368.5 309.9,372.5 310.8,376.5 312.5,380.6 315.2,385.4 319.7,391.0 322.5,395.1 325.1,398.3 329.9,403.4 332.7,405.5 333.9,407.1 333.9,431.3 207.7,431.3 207.7,407.1 208.9,405.5 211.7,403.4 216.5,398.3 219.1,395.1 221.9,391.0 226.4,385.4 229.1,380.6 230.8,376.5 231.7,372.5 232.3,368.5 233.2,365.3 232.1,361.3 230.1,356.4 229.0,354.0 226.2,349.3 223.8,346.5 221.4,344.0 216.1,339.5 211.7,333.0 207.7,328.7 207.7,306.5Z"/>
<path fill="#0033ff" d="M207.7,306.5 333.9,306.5 333.9,322.3 330.7,324.9 329.2,326.7 324.5,333.1 320.7,339.5 316.2,343.7 314.0,346.8 312.0,350.0 309.5,354.8 307.2,361.3 306.6,363.7 306.4,365.3 307.4,368.5 307.5,373.3 308.0,376.5 309.4,380.6 311.8,385.4 318.6,396.7 322.3,401.5 326.1,405.5 329.9,412.0 333.9,416.9 333.9,431.3 207.7,431.3 207.7,416.9 211.7,412.0 215.5,405.5 219.3,401.5 223.0,396.7 229.8,385.4 232.2,380.6 233.6,376.5 234.1,373.3 234.2,368.5 235.2,365.3 235.0,363.7 234.4,361.3 232.1,354.8 229.6,350.0 227.6,346.8 225.4,343.7 220.9,339.5 217.1,333.1 212.4,326.7 210.9,324.9 207.7,322.3 207.7,306.5Z"/>
<path fill="#003eff" d="M207.7,306.5 333.9,306.5 333.9,316.3 329.9,319.2 327.3,321.8 324.4,325.0 321.9,328.7 319.6,332.3 315.9,339.5 313.8,342.1 311.4,345.8 309.1,350.0 306.9,354.8 305.1,360.5 304.6,364.5 304.7,365.3 305.7,368.5 305.8,369.3 305.3,373.3 305.6,377.3 306.4,380.6 308.0,384.6 315.1,399.1 317.3,402.3 319.9,405.5 322.7,411.1 325.9,416.7 329.9,422.6 333.9,426.6 333.9,431.3 207.7,431.3 207.7,426.6 211.7,422.6 215.7,416.7 218.9,411.1 221.7,405.5 224.3,402.3 226.5,399.1 233.6,384.6 235.2,380.6 236.0,377.3 236.3,373.3 235.8,369.3 235.9,368.5 236.9,365.3 237.0,364.5 236.5,360.5 234.7,354.8 232.5,350.0 230.2,345.8 227.8,342.1 225.7,339.5 222.0,332.3 219.7,328.7 217.2,325.0 214.3,321.8 211.7,319.2 207.7,316.3 207.7,306.5Z"/>
<path fill="#0049ff" d="M207.7,306.5 333.9,306.5 333.9,310.3 329.9,312.8 324.3,318.0 321.5,321.0 319.0,324.2 316.0,329.1 314.6,332.3 312.1,339.5 308.2,346.0 306.6,349.2 304.5,354.0 303.4,358.5 303.0,362.1 303.1,365.3 304.2,368.5 304.3,369.3 303.4,374.1 303.3,378.2 303.8,381.4 305.0,385.4 309.8,397.1 311.9,401.5 314.1,405.5 315.4,409.5 318.4,416.0 322.5,423.2 328.0,431.3 213.6,431.3 219.1,423.2 223.2,416.0 226.2,409.5 227.5,405.5 229.7,401.5 231.8,397.1 236.6,385.4 237.8,381.4 238.3,378.2 238.2,374.1 237.3,369.3 237.4,368.5 238.5,365.3 238.6,362.1 238.2,358.5 237.1,354.0 235.0,349.2 233.4,346.0 229.5,339.5 227.0,332.3 225.6,329.1 222.6,324.2 220.1,321.0 217.3,318.0 211.7,312.8 207.7,310.3 207.7,306.5Z"/>
<path fill="#0054ff" d="M214.3,306.5 327.3,306.5 324.5,310.6 321.0,313.8 317.4,317.8 315.4,320.4 314.6,322.0 313.2,325.0 311.7,329.1 308.4,339.5 305.8,344.4 303.3,350.0 302.0,354.0 301.3,358.8 301.5,363.7 301.7,365.3 302.8,368.5 302.8,369.3 301.6,374.9 301.2,379.0 301.4,383.0 302.0,386.2 305.8,397.8 309.1,405.5 311.4,413.7 314.1,421.6 315.4,424.8 319.0,431.3 222.6,431.3 226.2,424.8 227.5,421.6 230.2,413.7 232.5,405.5 235.8,397.8 239.6,386.2 240.2,383.0 240.4,379.0 240.0,374.9 238.8,369.3 238.8,368.5 239.9,365.3 240.1,363.7 240.3,358.8 239.6,354.0 238.3,350.0 235.8,344.4 233.2,339.5 229.9,329.1 228.4,325.0 227.0,322.0 226.2,320.4 224.2,317.8 220.6,313.8 217.1,310.6 214.3,306.5Z"/>
<path fill="#005eff" d="M223.2,306.5 318.4,306.5 316.7,309.8 315.4,311.3 313.1,315.4 311.2,319.4 309.1,324.2 306.8,331.5 304.8,339.5 302.6,344.3 300.9,348.7 300.0,352.4 299.6,355.6 299.6,358.8 300.0,363.7 300.3,365.3 301.4,368.5 301.5,369.3 300.1,374.7 299.4,380.6 299.3,384.6 299.8,389.4 301.2,396.7 302.6,401.2 304.2,405.5 305.8,412.9 307.7,420.0 311.4,431.3 230.2,431.3 233.9,420.0 235.8,412.9 237.4,405.5 239.0,401.2 240.4,396.7 241.8,389.4 242.3,384.6 242.2,380.6 241.5,374.7 240.1,369.3 240.2,368.5 241.3,365.3 241.6,363.7 242.0,358.8 242.0,355.6 241.6,352.4 240.7,348.7 239.0,344.3 236.8,339.5 234.8,331.5 232.5,324.2 230.4,319.4 228.5,315.4 226.2,311.3 224.9,309.8 223.2,306.5Z"/>
<path fill="#0069ff" d="M230.0,306.5 311.6,306.5 310.4,310.6 307.1,317.8 304.5,325.0 302.7,332.3 301.2,339.5 300.0,342.7 298.7,347.6 298.1,350.8 297.8,354.0 298.0,357.2 298.7,362.9 299.1,365.3 300.1,368.5 300.1,369.3 299.0,374.1 297.8,381.4 297.5,384.6 297.6,388.6 298.4,396.7 299.8,405.5 300.9,416.0 302.3,422.4 304.6,431.3 237.0,431.3 239.3,422.4 240.7,416.0 241.8,405.5 243.2,396.7 244.0,388.6 244.1,384.6 243.8,381.4 242.6,374.1 241.5,369.3 241.5,368.5 242.5,365.3 242.9,362.9 243.6,357.2 243.8,354.0 243.5,350.8 242.9,347.6 241.6,342.7 240.4,339.5 238.9,332.3 237.1,325.0 234.5,317.8 231.2,310.6 230.0,306.5Z"/>
<path fill="#0074ff" d="M235.7,306.5 305.9,306.5 305.1,309.8 302.2,317.8 300.4,324.2 299.3,330.7 298.1,339.5 296.5,346.0 295.9,350.8 295.9,353.2 296.3,355.6 298.0,365.3 299.0,368.5 299.0,369.3 295.9,383.8 295.5,386.2 295.5,388.6 295.9,395.9 297.0,405.5 297.9,417.6 299.3,431.3 242.3,431.3 243.7,417.6 244.6,405.5 245.7,395.9 246.1,388.6 246.1,386.2 245.7,383.8 242.6,369.3 242.6,368.5 243.6,365.3 245.3,355.6 245.7,353.2 245.7,350.8 245.1,346.0 243.5,339.5 242.3,330.7 241.2,324.2 239.4,317.8 236.5,309.8 235.7,306.5Z"/>
<path fill="#007fff" d="M241.3,306.5 300.3,306.5 299.7,310.6 298.1,317.8 296.8,325.0 295.2,339.5 294.2,344.4 293.8,348.4 293.8,350.8 294.2,353.2 295.7,358.8 297.0,365.3 297.9,368.5 297.9,369.3 295.9,378.2 293.8,386.2 293.4,389.4 293.5,396.7 294.3,405.5 295.0,417.6 296.0,431.3 245.6,431.3 246.6,417.6 247.3,405.5 248.1,396.7 248.2,389.4 247.8,386.2 245.7,378.2 243.7,369.3 243.7,368.5 244.6,365.3 245.9,358.8 247.4,353.2 247.8,350.8 247.8,348.4 247.4,344.4 246.4,339.5 244.8,325.0 243.5,317.8 241.9,310.6 241.3,306.5Z"/>
<path fill="#008aff" d="M245.5,306.5 296.1,306.5 295.6,310.6 294.4,317.8 293.4,325.0 292.3,339.5 291.7,343.6 291.5,346.8 291.6,349.2 291.8,350.8 294.8,359.6 296.2,366.1 296.9,368.5 296.9,369.3 294.9,378.2 292.0,386.2 291.3,390.2 291.1,394.2 291.2,399.1 292.8,431.3 248.8,431.3 250.4,399.1 250.5,394.2 250.3,390.2 249.6,386.2 246.7,378.2 244.7,369.3 244.7,368.5 245.4,366.1 246.8,359.6 249.8,350.8 250.0,349.2 250.1,346.8 249.9,343.6 249.3,339.5 248.2,325.0 247.2,317.8 246.0,310.6 245.5,306.5Z"/>
<path fill="#0095ff" d="M249.7,306.5 291.9,306.5 290.0,325.0 289.1,343.6 289.1,346.8 289.4,349.2 289.9,350.8 292.6,356.4 294.1,360.5 295.3,366.2 296.0,368.5 296.0,369.3 294.1,377.3 292.7,381.4 290.1,387.0 289.4,389.4 289.0,391.8 288.7,395.9 288.7,400.7 289.0,416.8 289.6,431.3 252.0,431.3 252.6,416.8 252.9,400.7 252.9,395.9 252.6,391.8 252.2,389.4 251.5,387.0 248.9,381.4 247.5,377.3 245.6,369.3 245.6,368.5 246.3,366.2 247.5,360.5 249.0,356.4 251.7,350.8 252.2,349.2 252.5,346.8 252.5,343.6 251.6,325.0 249.7,306.5Z"/>
<path fill="#009fff" d="M253.9,306.5 287.7,306.5 286.5,327.5 286.5,341.9 286.8,346.0 287.2,348.4 288.0,350.8 288.9,352.4 291.7,356.4 293.1,359.6 294.0,362.9 295.1,368.5 295.2,369.3 293.9,375.7 293.2,378.2 291.7,381.4 289.7,384.6 288.4,387.0 287.5,389.4 286.9,392.6 286.3,399.1 286.1,409.5 286.4,431.3 255.2,431.3 255.5,409.5 255.3,399.1 254.7,392.6 254.1,389.4 253.2,387.0 251.9,384.6 249.9,381.4 248.4,378.2 247.7,375.7 246.4,369.3 246.5,368.5 247.6,362.9 248.5,359.6 249.9,356.4 252.7,352.4 253.6,350.8 254.4,348.4 254.8,346.0 255.1,341.9 255.1,327.5 253.9,306.5Z"/>
<path fill="#00aaff" d="M258.2,306.5 283.4,306.5 283.1,320.2 283.1,328.3 283.5,336.3 284.3,344.4 285.0,347.6 286.4,350.8 290.4,355.6 292.2,358.8 293.4,362.9 294.4,369.3 293.5,374.9 292.6,378.2 291.0,381.4 287.3,386.2 286.9,387.0 285.4,391.0 284.1,396.7 283.4,402.3 282.9,411.1 282.7,420.0 282.8,431.3 258.8,431.3 258.9,420.0 258.7,411.1 258.2,402.3 257.5,396.7 256.2,391.0 254.7,387.0 254.3,386.2 250.6,381.4 249.0,378.2 248.1,374.9 247.2,369.3 248.2,362.9 249.4,358.8 251.2,355.6 255.2,350.8 256.6,347.6 257.3,344.4 258.1,336.3 258.5,328.3 258.5,320.2 258.2,306.5Z"/>
<path fill="#00b5ff" d="M262.4,306.5 279.2,306.5 279.4,319.4 279.8,329.1 280.6,336.3 281.6,341.9 283.1,346.8 284.4,350.0 285.6,351.6 288.1,353.8 289.7,355.6 291.3,358.0 292.6,361.3 293.3,365.3 293.8,369.3 293.1,374.1 292.3,377.3 291.3,379.8 290.4,381.4 288.9,383.3 286.1,386.2 285.2,387.8 283.1,393.4 281.2,400.7 280.3,406.3 279.9,412.0 279.7,420.0 279.7,431.3 261.9,431.3 261.9,419.2 261.6,410.3 261.0,403.9 260.1,399.1 258.5,393.4 256.7,388.5 255.5,386.2 251.9,382.3 250.3,379.8 249.0,376.5 248.2,372.5 247.8,368.5 248.7,362.9 249.6,359.6 250.8,357.2 251.9,355.6 253.5,353.8 256.0,351.6 257.2,350.0 258.8,346.0 260.1,341.1 261.2,335.5 261.8,328.3 262.2,318.6 262.4,306.5Z"/>
<path fill="#00c0ff" d="M266.2,306.5 275.4,306.5 275.4,317.8 275.6,325.0 276.0,329.6 276.8,333.3 280.6,344.4 283.0,350.0 284.3,351.6 287.3,353.9 288.9,355.5 290.2,357.2 291.1,358.8 291.8,360.5 292.5,362.9 293.2,368.5 292.6,374.1 291.5,378.2 289.7,381.4 288.1,383.2 284.9,386.2 284.1,387.6 281.7,393.3 279.2,400.7 277.8,407.1 277.3,412.0 277.0,419.2 277.1,431.3 264.5,431.3 264.6,419.2 264.3,412.0 263.8,407.1 262.4,400.7 259.9,393.3 257.5,387.6 256.7,386.2 252.5,382.2 251.3,380.6 250.3,378.6 249.1,374.9 248.4,369.3 249.1,362.9 249.8,360.5 250.5,358.8 251.4,357.2 252.7,355.5 254.3,353.9 257.3,351.6 258.6,350.0 261.0,344.4 264.8,333.3 265.6,329.6 266.0,325.0 266.2,317.8 266.2,306.5Z"/>
<path fill="#00cbff" d="M268.6,306.5 273.0,306.5 273.1,318.6 273.4,325.8 274.2,331.5 275.2,335.5 280.8,347.6 282.5,350.8 284.0,352.4 286.5,354.1 288.1,355.4 289.6,357.2 290.5,358.7 291.3,360.5 292.0,362.9 292.7,368.5 292.2,374.1 291.0,378.2 290.2,379.8 288.9,381.6 287.3,383.2 284.7,385.4 283.5,387.0 280.0,394.7 276.8,403.1 275.6,407.9 275.0,413.6 274.7,420.0 274.6,431.3 267.0,431.3 266.9,420.0 266.6,413.6 266.0,407.9 264.8,403.1 261.6,394.7 258.1,387.0 256.9,385.4 254.3,383.2 252.7,381.6 251.0,379.0 250.3,377.3 249.6,374.9 248.9,369.3 249.2,365.3 249.6,362.9 250.3,360.5 251.0,358.8 252.0,357.2 253.5,355.4 255.1,354.1 257.6,352.4 259.1,350.8 260.8,347.6 266.4,335.5 267.4,331.5 268.2,325.8 268.5,318.6 268.6,306.5Z"/>
<path fill="#00d5ff" d="M270.3,326.7 270.4,326.2 271.2,326.2 272.6,331.5 274.4,336.3 281.7,350.8 283.0,352.4 287.5,355.6 288.9,357.1 290.0,358.8 290.8,360.5 291.5,362.9 292.2,368.5 291.7,374.1 291.1,376.5 290.5,378.2 289.6,379.8 288.4,381.4 284.1,385.1 282.7,387.0 276.8,400.2 274.6,406.3 273.4,411.1 272.6,416.8 272.2,422.4 271.9,431.3 269.7,431.3 269.3,420.8 268.7,414.4 267.9,409.5 266.4,404.4 262.4,394.6 258.4,386.2 257.0,384.6 254.3,382.5 253.2,381.4 252.0,379.8 251.1,378.2 250.5,376.5 249.9,374.1 249.4,369.3 249.9,363.7 250.5,361.3 251.1,359.6 252.0,358.0 253.5,356.1 255.1,354.7 258.6,352.4 259.9,350.7 267.2,336.3 269.0,331.5 270.3,326.7Z"/>
<path fill="#00e0ff" d="M270.2,331.5 270.4,331.1 271.2,331.1 275.2,339.9 281.5,351.6 283.0,353.2 285.7,354.8 287.3,356.1 288.4,357.2 289.5,358.8 290.3,360.5 291.0,362.9 291.7,368.5 291.2,374.1 290.6,376.5 289.9,378.2 288.1,380.9 286.5,382.5 283.7,384.6 283.0,385.4 282.0,387.0 275.2,401.9 271.2,412.8 270.4,412.8 266.4,401.9 259.2,386.2 257.9,384.6 255.1,382.5 253.5,380.9 251.7,378.2 251.0,376.5 250.4,374.1 249.8,369.3 250.4,363.7 251.0,361.3 251.9,359.2 253.2,357.2 254.3,356.1 255.9,354.8 258.6,353.2 260.1,351.6 266.4,339.9 270.2,331.5Z"/>
<path fill="#00ebff" d="M270.1,333.9 270.4,333.2 271.2,333.2 275.9,342.7 280.0,350.5 281.3,352.4 282.5,353.5 286.5,356.0 287.7,357.2 288.9,358.8 289.8,360.5 290.6,362.9 291.0,365.3 291.3,368.5 290.8,374.1 290.1,376.5 289.4,378.2 288.4,379.8 287.3,381.1 283.3,384.2 281.7,386.2 276.0,398.3 271.2,409.6 270.4,409.6 264.8,396.7 260.7,387.8 259.4,385.4 258.3,384.2 254.3,381.1 253.2,379.8 252.2,378.2 251.5,376.5 250.8,374.1 250.3,369.3 250.8,363.7 251.5,361.3 252.2,359.6 253.2,358.0 254.7,356.4 255.9,355.4 259.1,353.5 260.8,351.8 266.4,341.4 270.1,333.9Z"/>
<path fill="#00f6ff" d="M270.2,335.5 270.4,334.9 271.2,334.9 275.4,343.6 280.3,352.4 282.1,354.0 286.2,356.4 287.3,357.5 288.4,358.8 289.3,360.5 290.1,362.9 290.6,365.3 290.8,368.5 290.7,371.7 290.3,374.1 289.6,376.5 288.9,378.1 287.1,380.6 285.7,381.8 282.8,383.8 281.3,385.4 280.4,387.0 276.2,395.9 276.0,396.7 275.5,397.5 271.2,407.5 270.4,407.5 266.1,397.5 265.6,396.7 265.4,395.9 261.2,387.0 260.3,385.4 258.8,383.8 255.9,381.8 254.5,380.6 252.7,378.2 252.0,376.5 251.3,374.1 250.8,369.3 251.3,363.7 252.0,361.3 252.7,359.6 253.8,358.0 255.1,356.7 256.7,355.5 259.5,354.0 261.3,352.4 265.3,345.2 270.2,335.5Z"/>
<path fill="#02fffd" d="M270.2,338.7 270.4,338.3 271.2,338.3 276.0,347.9 278.7,352.4 280.0,353.6 285.7,356.6 287.8,358.8 288.8,360.5 289.4,362.1 290.2,365.3 290.4,368.5 290.2,371.7 289.9,374.1 289.2,376.5 288.4,378.2 287.2,379.8 285.7,381.2 280.8,384.2 279.6,385.4 278.7,387.0 276.0,392.6 271.2,403.8 270.4,403.8 265.6,392.6 262.9,387.0 262.0,385.4 260.8,384.2 255.9,381.2 254.4,379.8 253.2,378.2 252.4,376.5 251.7,374.1 251.2,369.3 251.4,366.1 251.7,363.7 252.5,361.3 253.2,359.6 254.4,358.0 255.9,356.6 261.6,353.6 262.9,352.4 265.6,347.9 270.2,338.7Z"/>
<path fill="#0cfff3" d="M270.0,342.7 270.4,341.9 271.2,341.9 275.8,350.8 277.4,353.2 278.6,354.0 281.7,355.0 284.1,356.1 285.7,357.2 287.3,358.8 288.3,360.5 289.3,362.9 289.8,365.3 290.0,368.5 289.9,371.7 289.5,374.1 288.7,376.5 287.9,378.2 286.5,379.9 284.9,381.2 282.5,382.6 279.4,383.8 278.4,384.6 277.6,385.6 276.5,387.8 271.2,399.5 270.4,399.5 265.1,387.8 264.0,385.6 263.2,384.6 262.2,383.8 259.1,382.6 256.7,381.2 255.1,379.9 253.7,378.2 252.9,376.5 252.1,374.1 251.6,369.3 251.8,366.1 252.1,363.7 252.9,361.3 253.7,359.6 255.1,357.9 256.7,356.6 259.1,355.4 263.0,354.0 264.2,353.2 265.8,350.8 270.0,342.7Z"/>
<path fill="#17ffe8" d="M270.1,346.0 270.4,345.4 271.2,345.4 274.9,352.4 276.2,354.0 278.2,354.8 280.8,355.3 283.3,356.2 285.0,357.2 286.8,358.8 287.9,360.5 288.9,362.9 289.4,365.3 289.6,368.5 289.5,371.7 289.1,374.1 288.3,376.5 287.4,378.2 286.0,379.8 284.1,381.2 282.5,382.0 278.4,383.2 276.8,384.1 275.5,386.2 271.2,395.5 270.4,395.5 266.1,386.2 264.8,384.1 263.2,383.2 259.1,382.0 257.5,381.2 255.9,380.1 254.3,378.3 253.3,376.5 252.5,374.1 252.1,371.7 252.0,369.3 252.1,366.1 252.7,362.9 253.7,360.5 254.8,358.8 256.6,357.2 258.3,356.2 260.8,355.3 263.4,354.8 265.4,354.0 266.7,352.4 270.1,346.0Z"/>
<path fill="#22ffdd" d="M270.2,349.2 270.4,348.8 271.2,348.8 273.6,353.2 274.2,354.0 275.2,354.8 280.8,355.8 282.5,356.3 284.9,357.6 286.3,358.8 287.5,360.5 288.5,362.9 289.0,365.3 289.2,368.5 289.1,371.7 288.7,374.1 287.9,376.5 286.9,378.2 285.4,379.8 283.3,381.2 280.8,382.0 276.2,383.0 275.2,383.7 274.1,385.4 271.2,391.6 270.4,391.6 267.5,385.4 266.4,383.7 265.4,383.0 260.8,382.0 258.3,381.2 256.7,380.2 255.1,378.7 254.1,377.3 253.1,374.9 252.6,372.5 252.3,369.3 252.5,366.1 253.1,362.9 254.1,360.5 255.3,358.8 256.7,357.6 259.1,356.3 260.8,355.8 266.4,354.8 267.4,354.0 268.0,353.2 270.2,349.2Z"/>
<path fill="#2dffd2" d="M270.3,352.4 270.4,352.2 271.2,352.2 272.8,354.7 273.6,355.3 274.9,355.6 280.8,356.3 283.3,357.1 284.9,358.1 286.5,359.7 287.8,362.1 288.5,364.5 288.9,367.7 288.8,370.9 288.3,374.1 287.5,376.5 286.4,378.2 284.8,379.8 282.5,381.1 280.0,381.7 276.0,382.2 273.8,383.0 272.8,384.5 271.2,387.8 270.4,387.8 268.8,384.5 267.8,383.0 265.6,382.2 261.6,381.7 259.1,381.1 257.5,380.3 255.9,379.0 254.6,377.3 253.5,375.0 252.9,372.5 252.7,370.1 252.8,366.9 253.3,363.7 254.3,360.9 255.9,358.8 257.5,357.5 259.9,356.5 262.4,356.0 266.7,355.6 268.0,355.3 268.8,354.7 270.3,352.4Z"/>
<path fill="#38ffc7" d="M269.9,355.6 270.4,355.0 271.2,355.0 271.7,355.6 272.8,356.1 280.0,356.6 282.5,357.2 284.1,358.0 285.9,359.6 287.4,362.1 288.2,364.5 288.5,367.7 288.4,371.7 288.0,374.1 287.0,376.5 285.9,378.2 285.1,379.0 283.3,380.3 280.8,381.1 274.4,381.7 272.8,382.1 272.0,383.0 271.2,384.5 270.4,384.5 269.6,383.0 268.8,382.1 267.2,381.7 260.8,381.1 258.3,380.3 256.7,379.2 255.1,377.4 254.2,375.7 253.4,373.3 253.1,370.1 253.2,366.1 253.9,362.9 255.1,360.5 256.7,358.6 258.3,357.6 260.8,356.7 263.2,356.4 268.0,356.2 268.8,356.1 269.9,355.6Z"/>
<path fill="#48ffb7" d="M260.4,357.2 262.4,356.9 264.8,356.7 269.6,356.9 278.4,356.8 281.7,357.3 283.3,358.0 284.5,358.8 286.1,360.5 287.0,362.1 287.8,364.5 288.1,366.9 288.1,370.9 287.8,373.3 287.0,375.7 285.7,377.9 284.5,379.0 283.3,379.8 280.8,380.7 278.4,381.0 272.8,381.1 272.0,381.2 271.2,381.7 270.4,381.7 269.6,381.2 268.8,381.1 264.8,381.1 261.6,380.8 259.1,380.2 257.1,379.0 255.9,377.9 255.1,376.7 254.0,374.1 253.7,372.5 253.4,370.1 253.7,365.3 254.6,362.1 255.9,360.0 257.5,358.5 259.1,357.6 260.4,357.2Z"/>
<path fill="#5dffa2" d="M260.4,358.0 262.4,357.7 265.6,357.6 268.0,357.8 270.4,358.5 271.2,358.5 274.4,357.7 278.4,357.6 281.7,358.2 284.1,359.5 285.1,360.5 286.2,362.1 286.8,363.7 287.3,366.1 287.5,369.3 287.2,372.5 286.5,374.9 285.7,376.6 284.3,378.2 282.5,379.3 280.8,379.9 278.4,380.2 274.4,380.1 271.2,379.4 270.4,379.4 268.0,380.0 266.4,380.2 262.4,380.1 259.9,379.6 257.5,378.3 255.9,376.5 255.1,374.9 254.5,373.3 254.2,370.1 254.4,365.3 255.1,362.7 256.5,360.5 258.3,358.9 260.4,358.0ZM270.4,368.3 270.4,369.5 271.2,369.5 271.2,368.3 270.4,368.3Z"/>
<path fill="#73ff8c" d="M260.4,358.8 262.4,358.4 266.4,358.4 268.0,358.6 270.4,359.7 271.2,359.7 272.8,358.9 274.4,358.5 278.4,358.3 280.8,358.7 283.3,359.8 284.8,361.3 285.8,362.9 286.3,364.5 286.8,366.9 286.8,370.1 286.5,372.5 285.8,374.9 284.9,376.4 284.0,377.3 282.5,378.5 280.8,379.1 278.4,379.5 274.4,379.3 272.8,378.9 271.2,378.2 270.4,378.2 268.8,378.9 267.2,379.3 263.2,379.5 260.8,379.1 258.3,378.0 257.5,377.3 256.3,375.7 255.3,373.3 254.8,370.1 254.9,366.1 255.5,363.7 256.7,361.4 258.3,359.8 260.4,358.8ZM270.4,367.8 270.3,368.5 270.4,370.0 271.2,370.0 271.3,368.5 271.2,367.8 270.4,367.8Z"/>
<path fill="#89ff76" d="M260.1,359.6 262.4,359.1 266.4,359.1 268.8,359.6 270.4,360.5 271.2,360.5 273.6,359.4 275.2,359.1 277.6,359.0 280.0,359.2 282.5,360.1 283.9,361.3 284.9,362.5 285.7,364.4 286.1,366.1 286.2,369.3 286.1,371.7 285.4,374.1 284.6,375.7 283.3,377.1 281.7,378.1 280.0,378.6 278.4,378.8 274.4,378.6 272.8,378.2 271.2,377.3 270.4,377.3 268.0,378.4 265.6,378.8 261.6,378.6 259.1,377.7 257.5,376.4 256.2,374.1 255.5,371.7 255.4,367.7 255.9,364.5 256.7,362.5 258.3,360.7 260.1,359.6ZM270.4,367.4 270.2,368.5 270.3,370.1 270.4,370.4 271.2,370.4 271.4,369.3 271.3,367.7 271.2,367.4 270.4,367.4Z"/>
<path fill="#9eff61" d="M263.2,359.6 265.6,359.6 267.2,359.9 268.8,360.4 270.4,361.4 271.2,361.4 272.7,360.5 273.6,360.1 276.0,359.6 278.4,359.6 280.0,359.9 281.7,360.4 282.5,360.9 283.7,362.1 284.7,363.7 285.3,365.3 285.5,366.9 285.6,369.3 285.4,371.7 284.9,373.8 284.1,375.3 282.9,376.5 281.7,377.4 280.0,377.9 278.4,378.2 276.0,378.2 274.4,377.9 272.8,377.4 271.2,376.4 270.4,376.4 268.9,377.3 268.0,377.7 265.6,378.2 263.2,378.2 261.6,377.9 259.9,377.4 259.1,376.9 258.3,376.3 257.3,374.9 256.3,372.5 256.0,369.3 256.1,366.9 256.3,365.3 257.3,362.9 258.7,361.3 260.8,360.1 263.2,359.6ZM270.4,367.0 270.1,368.5 270.2,370.1 270.4,370.8 271.2,370.8 271.5,369.3 271.4,367.7 271.2,367.0 270.4,367.0Z"/>
<path fill="#b4ff4b" d="M262.1,360.5 264.8,360.3 267.2,360.6 268.9,361.3 270.4,362.5 271.2,362.5 272.0,361.7 273.6,360.8 276.0,360.3 279.2,360.4 281.7,361.3 282.8,362.1 284.0,363.7 284.6,365.3 284.9,366.9 285.0,369.3 284.8,371.7 284.4,373.3 283.5,374.9 282.8,375.7 281.7,376.6 280.0,377.2 278.4,377.5 276.0,377.5 274.4,377.2 272.7,376.5 271.2,375.3 270.4,375.3 269.6,376.1 268.0,377.0 265.6,377.5 262.4,377.4 259.9,376.5 258.3,375.2 257.2,373.3 256.7,370.9 256.7,366.9 257.2,364.5 258.3,362.6 259.9,361.2 262.1,360.5ZM270.4,366.6 269.9,368.5 270.1,370.1 270.4,371.2 271.2,371.2 271.7,369.3 271.5,367.7 271.2,366.6 270.4,366.6Z"/>
<path fill="#caff35" d="M261.7,361.3 263.2,361.0 264.8,360.9 267.2,361.3 268.8,362.1 270.4,363.7 271.2,363.7 272.0,362.7 273.6,361.6 276.0,361.0 279.2,361.1 281.6,362.1 282.6,362.9 283.3,363.8 283.9,365.3 284.3,366.9 284.5,369.3 284.3,370.9 283.9,372.5 283.3,374.0 282.6,374.9 281.6,375.7 280.0,376.5 278.4,376.8 276.0,376.8 274.4,376.5 272.8,375.7 271.2,374.1 270.4,374.1 269.6,375.1 268.0,376.2 265.6,376.8 262.4,376.7 260.0,375.7 258.4,374.1 257.7,372.5 257.2,370.1 257.3,366.9 258.0,364.5 259.0,362.9 260.0,362.1 261.7,361.3ZM270.4,366.0 269.9,367.7 269.9,370.1 270.4,371.8 271.2,371.8 271.7,370.1 271.7,367.7 271.2,366.0 270.4,366.0Z"/>
<path fill="#dfff20" d="M261.5,362.1 264.0,361.5 266.4,361.8 267.3,362.1 268.7,362.9 269.5,363.7 270.0,364.5 270.2,365.3 269.7,369.3 270.2,372.5 270.0,373.3 268.8,374.8 267.2,375.8 265.6,376.2 264.0,376.3 261.6,375.7 259.9,374.8 259.1,373.9 258.4,372.5 257.9,370.9 257.7,369.3 257.8,367.7 258.1,366.1 258.8,364.5 259.3,363.7 260.2,362.9 261.5,362.1ZM274.3,362.1 276.8,361.5 278.4,361.6 280.0,362.1 281.7,363.0 282.5,363.9 283.2,365.3 283.7,366.9 283.9,368.5 283.8,370.1 283.5,371.7 282.8,373.3 282.3,374.1 281.4,374.9 280.0,375.7 277.6,376.3 275.2,376.0 274.3,375.7 272.9,374.9 272.1,374.1 271.6,373.3 271.4,372.5 271.9,369.3 271.4,365.3 271.6,364.5 272.8,363.0 274.3,362.1Z"/>
<path fill="#f5ff0a" d="M261.5,362.9 263.2,362.3 264.0,362.2 265.6,362.2 266.4,362.5 267.3,362.9 268.5,363.7 269.6,365.3 269.6,372.5 268.8,373.8 267.2,375.0 265.6,375.6 264.8,375.6 263.2,375.5 262.4,375.3 260.4,374.1 259.1,372.5 258.4,370.1 258.3,368.5 258.5,366.9 259.6,364.5 260.4,363.7 261.5,362.9ZM274.3,362.9 276.0,362.2 276.8,362.2 278.4,362.3 279.2,362.5 281.2,363.7 282.5,365.3 283.2,367.7 283.3,369.3 283.1,370.9 282.0,373.3 281.2,374.1 280.0,375.0 277.6,375.6 276.0,375.6 275.2,375.3 274.3,374.9 273.1,374.1 272.0,372.5 272.0,365.3 272.8,364.0 274.3,362.9Z"/>
<path fill="#fff400" d="M263.1,362.9 264.8,362.7 267.2,363.4 268.5,364.5 269.1,365.3 269.5,366.9 269.5,370.9 269.1,372.5 268.5,373.3 267.2,374.4 264.8,375.1 264.0,375.1 262.4,374.7 260.8,373.8 259.7,372.5 258.8,370.1 258.8,367.7 259.7,365.3 260.8,364.0 261.6,363.4 263.1,362.9ZM275.9,362.9 277.6,362.7 280.0,363.4 280.8,364.0 281.9,365.3 282.8,367.7 282.8,370.1 281.9,372.5 280.8,373.8 280.0,374.4 277.6,375.1 276.8,375.1 275.2,374.8 273.6,373.8 272.5,372.5 272.1,370.9 272.1,366.9 272.5,365.3 273.1,364.5 274.4,363.4 275.9,362.9Z"/>
<path fill="#ffde00" d="M262.0,363.7 264.0,363.1 265.6,363.2 266.4,363.4 268.0,364.5 269.1,366.1 269.3,368.5 269.2,370.9 269.1,371.7 268.0,373.3 266.4,374.4 265.6,374.6 264.0,374.7 262.4,374.3 260.8,373.2 259.7,371.7 259.1,369.3 259.4,366.9 260.2,365.3 260.9,364.5 262.0,363.7ZM274.8,363.7 276.8,363.1 278.4,363.2 279.2,363.5 280.8,364.6 281.9,366.1 282.5,368.5 282.2,370.9 281.7,372.1 280.8,373.2 279.2,374.3 277.6,374.7 276.0,374.6 275.2,374.4 273.6,373.3 272.5,371.7 272.4,370.9 272.3,368.5 272.5,366.1 273.6,364.5 274.8,363.7Z"/>
<path fill="#ffc800" d="M262.9,363.7 264.8,363.4 266.4,363.8 268.0,365.0 268.7,366.1 269.0,366.9 269.1,370.1 268.7,371.7 267.4,373.3 265.6,374.3 264.0,374.4 263.2,374.2 261.6,373.4 260.8,372.7 260.1,371.7 259.5,370.1 259.5,367.7 260.1,366.1 261.4,364.5 262.9,363.7ZM275.6,363.7 277.6,363.4 279.2,363.9 280.0,364.4 280.8,365.1 281.5,366.1 282.1,367.7 282.1,370.1 281.5,371.7 280.2,373.3 278.4,374.2 276.8,374.4 275.2,374.0 273.6,372.8 272.9,371.7 272.6,370.9 272.5,367.7 272.8,366.2 273.4,365.3 274.2,364.5 275.6,363.7Z"/>
<path fill="#ffb300" d="M262.0,364.5 263.2,363.9 264.0,363.8 265.6,363.9 267.2,364.7 268.4,366.1 268.9,367.7 268.8,370.7 267.8,372.5 266.4,373.6 265.6,373.9 264.0,374.0 262.4,373.6 261.1,372.5 260.1,370.9 259.7,369.3 259.9,367.3 260.8,365.7 262.0,364.5ZM274.8,364.5 276.0,363.9 276.8,363.7 278.4,363.9 280.0,364.8 281.1,366.1 281.8,367.7 281.8,370.1 280.8,372.1 280.0,373.0 279.2,373.6 277.6,374.0 276.0,373.9 274.4,373.1 273.2,371.7 272.7,370.1 272.8,367.1 273.6,365.5 274.8,364.5Z"/>
<path fill="#ff9d00" d="M262.7,364.5 264.0,364.1 264.8,364.1 266.1,364.5 267.3,365.3 268.4,366.9 268.8,368.5 268.6,370.1 268.4,370.9 268.0,371.7 267.2,372.6 265.6,373.6 264.0,373.7 262.4,373.2 261.6,372.6 260.8,371.7 260.2,370.1 260.0,368.5 260.4,366.9 261.5,365.3 262.7,364.5ZM275.5,364.5 276.8,364.1 278.4,364.3 280.0,365.2 281.2,366.9 281.6,368.5 281.4,370.1 281.2,370.9 280.0,372.6 278.4,373.5 276.8,373.7 275.2,373.2 274.3,372.5 273.2,370.9 273.0,370.1 272.8,368.5 273.2,366.9 274.3,365.3 275.5,364.5Z"/>
<path fill="#ff8800" d="M263.8,364.5 265.6,364.6 266.8,365.3 268.1,366.9 268.5,368.5 268.3,370.1 267.6,371.7 266.4,372.8 264.8,373.4 263.2,373.2 261.6,372.1 260.8,370.9 260.3,369.3 260.5,367.7 261.2,366.1 262.4,365.0 263.8,364.5ZM276.6,364.5 277.6,364.4 278.4,364.6 279.6,365.3 280.8,366.9 281.3,368.5 281.1,370.1 280.4,371.7 279.2,372.8 277.6,373.4 276.0,373.2 274.4,372.2 273.5,370.9 273.1,369.3 273.3,367.7 274.0,366.1 275.2,365.0 276.6,364.5Z"/>
<path fill="#ff7200" d="M262.6,365.3 264.0,364.8 265.6,364.9 266.4,365.3 267.2,366.1 268.0,367.6 268.2,369.3 267.7,370.9 267.2,371.7 266.4,372.5 265.6,372.9 264.0,373.0 262.6,372.5 261.6,371.6 260.8,370.1 260.7,369.3 260.8,367.7 261.6,366.2 262.6,365.3ZM275.3,365.3 276.8,364.8 278.4,365.0 280.0,366.1 280.5,366.9 280.9,368.5 280.8,370.1 280.0,371.7 278.4,372.8 277.6,373.0 276.0,372.9 275.2,372.5 274.4,371.7 273.9,370.9 273.4,369.3 273.6,367.7 274.4,366.1 275.3,365.3Z"/>
<path fill="#ff5c00" d="M263.4,365.3 264.8,365.1 265.6,365.3 266.7,366.1 267.7,367.7 267.9,368.5 267.7,370.1 266.7,371.7 265.6,372.5 264.8,372.7 263.2,372.5 262.1,371.7 261.1,370.1 260.9,368.5 261.5,366.9 262.4,365.8 263.4,365.3ZM276.1,365.3 277.6,365.1 278.4,365.3 279.5,366.1 280.5,367.7 280.7,369.3 280.1,370.9 279.2,372.0 278.4,372.5 277.6,372.7 276.0,372.5 275.2,372.1 274.4,371.2 273.9,370.1 273.7,368.5 274.2,366.9 275.2,365.7 276.1,365.3Z"/>
<path fill="#ff4700" d="M262.5,366.1 263.2,365.6 264.8,365.4 265.6,365.6 266.3,366.1 267.2,367.2 267.6,368.5 267.4,370.1 266.4,371.7 265.6,372.2 264.0,372.4 263.2,372.2 261.8,370.9 261.4,370.1 261.2,368.5 261.8,366.9 262.5,366.1ZM275.3,366.1 276.0,365.6 277.6,365.4 278.4,365.6 279.8,366.9 280.4,368.5 280.2,370.1 279.2,371.6 278.4,372.2 277.6,372.4 276.0,372.2 275.2,371.7 274.4,370.6 274.0,369.3 274.0,368.5 274.6,366.9 275.3,366.1Z"/>
<path fill="#ff3100" d="M263.0,366.1 264.0,365.7 264.8,365.7 265.6,365.9 266.4,366.5 267.1,367.7 267.3,369.3 267.1,370.1 266.4,371.3 265.6,371.9 264.8,372.1 264.0,372.1 263.2,371.8 262.1,370.9 261.7,370.1 261.5,369.3 261.7,367.7 262.1,366.9 263.0,366.1ZM275.8,366.1 276.8,365.7 277.6,365.7 278.4,366.0 279.5,366.9 279.9,367.7 280.1,369.3 279.9,370.1 279.5,370.9 278.4,371.8 277.6,372.1 276.8,372.1 276.0,371.9 275.2,371.3 274.5,370.1 274.3,369.3 274.5,367.7 274.9,366.9 275.8,366.1Z"/>
<path fill="#ff1b00" d="M263.7,366.1 264.8,366.0 265.6,366.2 266.4,366.9 266.9,367.7 267.1,368.5 266.9,370.1 266.4,370.9 265.6,371.6 264.8,371.8 264.0,371.8 263.2,371.5 262.4,370.8 261.7,369.3 262.0,367.7 262.4,367.0 263.2,366.3 263.7,366.1ZM276.4,366.1 277.6,366.0 278.4,366.3 279.2,367.0 279.9,368.5 279.6,370.1 279.2,370.8 278.4,371.5 277.6,371.8 276.8,371.8 276.0,371.6 275.2,370.9 274.7,370.1 274.5,369.3 274.7,367.7 275.2,366.9 276.4,366.1Z"/>
<path fill="#ff0600" d="M262.8,366.9 264.0,366.3 264.8,366.2 265.6,366.5 266.4,367.3 266.8,368.5 266.8,369.3 266.4,370.5 265.6,371.3 264.8,371.6 264.0,371.5 263.2,371.2 262.4,370.3 262.0,369.3 262.0,368.5 262.2,367.7 262.8,366.9ZM275.6,366.9 276.8,366.2 277.6,366.3 278.4,366.6 279.2,367.5 279.6,368.5 279.6,369.3 279.2,370.3 278.4,371.2 277.6,371.5 276.8,371.6 276.0,371.3 275.2,370.5 274.8,369.3 274.8,368.5 275.0,367.7 275.6,366.9Z"/>
<path fill="#ef0000" d="M263.2,366.9 264.0,366.6 264.8,366.5 265.6,366.8 266.3,367.7 266.6,368.5 266.6,369.3 266.3,370.1 265.6,371.0 264.8,371.3 264.0,371.2 263.2,370.9 262.6,370.1 262.2,369.3 262.2,368.5 262.6,367.7 263.2,366.9ZM276.0,366.9 276.8,366.5 277.6,366.6 278.4,366.9 279.0,367.7 279.4,368.5 279.4,369.3 279.0,370.1 278.4,370.9 277.6,371.2 276.8,371.3 276.0,371.0 275.3,370.1 275.0,369.3 275.0,368.5 275.3,367.7 276.0,366.9Z"/>
<path fill="#da0000" d="M263.9,366.9 264.8,366.8 265.6,367.3 266.3,368.5 266.3,369.3 265.9,370.1 264.8,371.0 264.0,371.0 263.2,370.4 262.6,369.3 262.6,368.5 262.9,367.7 263.9,366.9ZM276.7,366.9 277.7,366.9 278.4,367.4 279.0,368.5 279.0,369.3 278.7,370.1 277.6,371.0 276.8,371.0 276.0,370.5 275.3,369.3 275.3,368.5 275.7,367.7 276.7,366.9Z"/>
<path fill="#c40000" d="M263.5,367.7 264.0,367.4 264.8,367.3 265.3,367.7 265.8,368.5 265.8,369.3 265.6,369.8 264.8,370.5 264.0,370.4 263.2,369.7 263.0,368.5 263.5,367.7ZM276.3,367.7 276.8,367.3 277.6,367.4 278.4,368.1 278.6,369.3 278.1,370.1 277.6,370.4 276.8,370.5 276.0,369.8 275.8,369.3 275.8,368.5 276.3,367.7Z"/>
<path fill="#ae0000" d="M263.5,368.5 264.0,368.0 264.8,367.9 265.3,368.5 265.3,369.3 264.8,369.9 264.0,369.8 263.5,369.3 263.5,368.5ZM276.3,368.5 276.8,367.9 277.6,368.0 278.1,368.5 278.1,369.3 277.6,369.8 276.8,369.9 276.3,369.3 276.3,368.5Z"/>
</g></g>
<rect x="211.4" y="310.2" width="17.3" height="13.2" fill="#fff" fill-opacity="0.5"/>
<text x="214.5" y="320.1" font-family="'Liberation Serif',serif" font-size="9.2" fill="#1a1a1a">(h)</text>
<rect x="333.2" y="310.2" width="8.4" height="117.4" fill="url(#gj)"/>
<g font-family="'Liberation Sans',sans-serif" font-size="7" fill="#262626" stroke="#262626" stroke-width="0.15">
<text x="344.5" y="312.8">130</text>
<text x="344.5" y="329.6">120</text>
<text x="344.5" y="346.3">110</text>
<text x="344.5" y="363.1">100</text>
<text x="344.5" y="379.9">90</text>
<text x="344.5" y="396.7">80</text>
<text x="344.5" y="413.4">70</text>
<text x="344.5" y="430.2">60</text>
</g>
<g font-family="'Liberation Sans',sans-serif" font-size="8.3" fill="#262626" stroke="#262626" stroke-width="0.18">
<text x="233.3" y="439.5" text-anchor="middle">-5</text>
<text x="270.8" y="439.5" text-anchor="middle">0</text>
<text x="307.9" y="439.5" text-anchor="middle">5</text>
<text x="209.4" y="335.2" text-anchor="end" font-size="8.0">5</text>
<text x="209.4" y="371.9" text-anchor="end" font-size="8.0">0</text>
<text x="209.4" y="408.6" text-anchor="end" font-size="8.0">-5</text>
</g>
<text transform="translate(198.8,368.9) rotate(-90)" text-anchor="middle" font-family="'Liberation Sans',sans-serif" font-size="9.2" fill="#262626" stroke="#262626" stroke-width="0.2">Z (<tspan fill="#777" stroke="none">×</tspan> r)</text>
<text x="271.1" y="451.3" text-anchor="middle" font-family="'Liberation Sans',sans-serif" font-size="9.2" fill="#262626" stroke="#262626" stroke-width="0.2">X (<tspan fill="#777" stroke="none">×</tspan> r)</text>
<g clip-path="url(#c22)"><g filter="url(#bl)">
<rect x="402.2" y="306.2" width="126.8" height="125.4" fill="#fff"/>
<path fill="#ffecec" d="M402.5,306.5 528.7,306.5 528.7,431.3 402.5,431.3 402.5,306.5ZM440.3,355.5 436.9,356.4 433.8,358.0 431.8,359.6 429.8,362.1 428.8,364.5 428.7,366.9 429.2,369.3 430.8,371.7 433.4,374.1 436.3,375.7 438.7,376.6 442.7,377.2 445.9,377.2 449.9,376.4 453.1,375.1 455.9,373.3 457.4,371.7 458.5,370.1 459.3,368.5 459.4,366.9 459.7,366.1 460.4,366.0 461.2,365.5 461.4,365.3 461.2,364.3 460.4,363.8 459.0,363.7 457.5,361.3 455.6,359.2 453.9,358.0 450.7,356.4 448.3,355.7 445.9,355.3 443.5,355.2 440.3,355.5ZM482.1,355.6 479.7,356.0 477.3,357.0 472.8,361.3 471.3,364.5 470.0,364.5 469.2,364.7 468.8,365.3 469.2,365.8 471.0,366.1 471.3,366.9 471.5,368.5 473.1,371.7 474.1,373.3 475.6,374.7 477.3,375.7 479.7,376.7 482.1,377.1 484.5,377.1 486.9,376.7 489.3,375.7 490.9,374.7 492.5,373.3 493.8,371.7 495.1,369.3 495.5,367.7 495.5,365.3 495.2,363.7 494.0,361.3 492.8,359.6 490.9,357.9 488.5,356.6 486.9,356.0 484.5,355.6 482.1,355.6ZM471.6,371.1 471.2,371.7 471.6,371.9 472.1,371.7 471.6,371.1Z"/>
<path fill="#ffdfdf" d="M402.5,306.5 528.7,306.5 528.7,431.3 402.5,431.3 402.5,306.5ZM438.7,354.7 436.3,355.4 434.6,356.0 431.4,358.0 429.0,360.5 427.5,362.9 426.9,365.3 426.8,366.9 427.1,368.5 428.4,370.9 430.5,373.3 433.0,375.3 436.3,376.9 440.3,377.8 444.3,378.1 448.3,377.7 452.1,376.5 455.2,374.9 458.0,372.6 460.2,369.3 460.5,368.5 460.7,366.1 461.2,365.9 461.6,365.3 461.6,364.5 461.2,364.0 460.2,363.7 458.0,360.5 456.4,358.8 454.7,357.5 452.8,356.4 450.7,355.5 448.3,354.7 445.9,354.3 443.5,354.1 438.7,354.7ZM482.1,354.8 478.9,355.5 477.3,356.3 471.6,362.1 470.8,363.8 469.2,364.6 468.7,365.3 469.2,366.0 469.6,366.1 470.4,366.9 470.5,368.5 471.6,370.1 470.8,371.8 471.6,372.2 472.4,372.1 473.2,373.5 474.8,375.1 477.1,376.5 479.7,377.5 482.9,378.0 485.3,377.9 487.7,377.4 489.8,376.5 492.3,374.9 494.0,373.3 495.3,371.7 496.6,369.3 497.1,367.7 497.2,365.3 496.8,363.7 495.6,361.3 493.7,358.8 491.8,357.2 489.3,355.9 486.9,355.1 484.5,354.7 482.1,354.8Z"/>
<path fill="#ffd2d2" d="M402.5,306.5 528.7,306.5 528.7,431.3 402.5,431.3 402.5,306.5ZM441.9,353.2 437.9,353.8 434.6,354.8 431.4,356.5 428.6,358.8 426.7,361.3 425.5,363.7 425.2,366.1 425.3,367.7 425.8,369.3 428.1,372.5 430.6,374.9 433.8,376.9 437.6,378.2 441.9,378.8 445.9,378.7 449.9,378.0 453.9,376.5 456.6,374.9 458.4,373.3 461.2,369.3 461.6,368.5 461.5,366.1 461.9,365.3 461.8,364.5 460.9,363.7 459.5,361.3 458.0,359.3 456.4,357.8 453.9,356.2 450.7,354.7 447.5,353.6 445.1,353.2 441.9,353.2ZM478.9,354.8 478.1,355.1 476.3,357.2 472.2,361.3 470.2,363.7 469.2,364.4 468.5,365.3 469.7,366.9 469.7,368.5 471.0,370.1 470.7,371.7 470.8,372.0 472.0,372.5 472.8,374.1 474.0,375.3 475.6,376.5 478.1,377.7 480.5,378.4 482.9,378.7 486.1,378.5 488.5,377.9 491.6,376.5 493.7,374.9 495.3,373.3 496.6,371.7 498.1,369.3 498.6,367.7 498.7,365.3 498.4,363.7 497.6,362.1 495.9,359.6 494.1,357.9 491.7,356.1 489.3,354.9 486.9,354.3 484.5,354.0 481.3,354.2 478.9,354.8Z"/>
<path fill="#ffc6c6" d="M402.5,306.5 528.7,306.5 528.7,431.3 402.5,431.3 402.5,306.5ZM440.3,352.3 436.3,353.1 432.2,354.7 429.0,356.7 426.1,359.6 425.0,361.3 424.1,362.9 423.5,365.3 423.6,366.9 423.9,368.5 425.3,370.9 428.1,374.1 431.2,376.5 434.6,378.1 438.7,379.1 443.5,379.5 448.3,379.1 450.7,378.5 453.1,377.6 456.6,375.7 459.4,373.3 460.6,370.9 462.6,368.5 462.0,364.5 459.7,360.5 458.3,358.8 456.4,357.1 453.9,355.4 451.5,354.2 448.3,353.0 445.1,352.2 442.7,352.0 440.3,352.3ZM479.7,353.9 478.1,354.4 476.8,356.4 476.1,357.2 472.0,361.3 468.4,365.3 469.0,366.9 469.1,368.5 470.6,370.1 470.6,371.7 470.8,372.2 471.4,372.5 471.6,373.4 472.4,374.7 474.6,376.5 477.3,378.1 480.5,379.1 483.7,379.4 486.9,379.1 490.1,378.2 493.1,376.5 495.1,374.9 498.0,371.7 499.5,369.3 500.1,367.7 500.3,366.1 500.1,364.5 499.6,362.9 497.9,360.5 495.8,358.0 493.9,356.4 491.2,354.8 488.5,353.9 485.3,353.4 482.1,353.4 479.7,353.9Z"/>
<path fill="#ffb9b9" d="M402.5,306.5 528.7,306.5 528.7,431.3 402.5,431.3 402.5,306.5ZM438.7,351.4 433.8,352.8 431.4,353.8 429.6,354.8 426.4,357.2 424.2,359.6 423.1,361.3 421.9,363.7 421.6,365.3 421.7,366.9 422.1,368.5 422.5,369.3 425.0,372.5 428.3,375.7 431.4,377.7 433.8,378.7 436.3,379.4 441.1,380.1 444.3,380.1 446.7,379.9 451.2,379.0 455.2,377.3 457.2,376.2 458.7,374.9 460.2,373.3 461.1,370.9 463.4,368.5 462.4,364.5 461.2,361.9 459.6,359.6 456.4,356.4 455.6,355.8 452.6,354.0 449.9,352.8 445.9,351.5 443.5,350.9 441.1,351.0 438.7,351.4ZM480.5,353.1 478.1,353.8 476.7,356.4 476.0,357.2 471.9,361.3 468.2,365.3 468.5,366.9 468.5,368.5 470.2,370.1 470.5,370.9 470.4,371.7 471.0,372.5 471.0,373.3 471.6,374.6 474.0,376.9 476.5,378.3 479.7,379.5 482.9,380.0 486.9,379.8 490.1,378.9 492.5,377.8 494.9,376.2 497.2,374.1 499.3,371.7 501.2,369.3 501.9,367.7 502.2,365.3 501.8,363.7 500.2,361.3 497.3,358.0 494.9,356.1 492.5,354.6 490.1,353.6 486.9,353.0 483.7,352.7 480.5,353.1Z"/>
<path fill="#ffacac" d="M402.5,306.5 528.7,306.5 528.7,361.6 517.9,362.9 512.0,363.7 509.4,364.3 507.8,364.3 505.4,363.2 503.0,361.6 497.0,356.4 493.3,354.0 490.9,353.1 487.7,352.4 484.5,352.1 482.1,352.2 479.7,352.7 478.1,353.2 477.0,355.6 475.9,357.2 470.9,362.1 468.0,365.3 467.9,367.7 468.0,368.5 469.9,370.1 470.3,370.9 470.8,374.2 471.6,375.5 473.2,377.0 475.6,378.6 478.1,379.6 481.3,380.3 484.5,380.6 486.9,380.4 489.3,379.9 491.7,379.1 494.1,377.8 497.0,375.7 502.2,370.4 504.6,368.5 506.2,366.9 507.8,366.0 509.4,365.7 516.7,366.4 528.7,366.8 528.7,431.3 402.5,431.3 402.5,306.5ZM439.5,349.8 433.0,351.8 430.6,352.8 427.1,354.8 424.2,357.2 421.3,360.5 419.4,363.7 419.2,364.5 419.2,366.1 419.9,368.5 420.4,369.3 424.8,374.1 428.2,377.0 431.4,378.7 436.3,380.1 439.1,380.6 441.9,380.8 445.1,380.7 447.5,380.4 450.5,379.8 453.0,379.0 454.9,378.2 457.2,376.9 458.8,375.7 460.4,374.1 460.9,373.3 461.5,370.9 464.0,368.5 462.8,364.4 461.3,361.3 457.4,357.2 456.4,355.8 452.3,353.2 449.1,351.8 442.7,349.5 441.9,349.3 439.5,349.8Z"/>
<path fill="#ff9f9f" d="M402.5,306.5 528.7,306.5 528.7,354.5 509.4,358.9 507.0,359.3 505.4,359.4 503.8,359.1 502.2,358.5 495.7,354.2 493.8,353.2 492.5,352.8 489.3,352.0 485.3,351.6 482.9,351.6 480.5,351.9 478.1,352.7 476.9,355.6 475.7,357.2 470.8,362.1 467.8,365.3 467.4,367.7 467.5,368.5 469.2,369.8 470.0,370.6 470.8,374.7 471.6,376.1 473.2,377.6 475.6,379.2 478.1,380.2 480.5,380.8 483.7,381.1 486.1,381.1 489.3,380.6 490.9,380.2 493.3,379.2 495.3,378.2 497.4,376.7 501.4,373.1 503.0,371.9 505.4,370.7 507.0,370.4 509.4,370.3 528.7,370.5 528.7,431.3 402.5,431.3 402.5,367.2 410.5,367.1 412.1,367.2 413.7,367.6 418.6,370.4 420.2,371.6 425.0,376.0 426.8,377.3 429.0,378.7 432.2,379.9 435.5,380.7 438.7,381.2 441.9,381.4 445.9,381.2 449.9,380.5 453.1,379.5 456.4,378.1 458.8,376.5 461.2,374.1 461.5,373.3 461.5,371.7 461.9,370.9 462.6,370.1 463.8,369.3 464.5,368.5 462.2,362.1 457.6,357.2 456.4,355.2 453.1,353.1 449.1,351.0 440.3,347.5 439.5,347.4 439.0,347.6 434.6,349.8 430.6,351.1 426.6,352.9 423.6,354.8 417.0,360.2 414.5,361.4 412.9,361.7 411.3,361.7 402.5,360.7 402.5,306.5Z"/>
<path fill="#ff9393" d="M402.5,306.5 528.7,306.5 528.7,348.6 507.8,355.3 505.4,356.0 503.8,356.1 501.4,355.7 494.9,352.6 491.7,351.8 488.5,351.2 484.5,350.9 482.1,351.0 479.7,351.5 478.1,352.1 476.7,355.6 476.2,356.4 474.9,358.0 467.6,365.3 467.0,368.5 469.2,370.0 470.0,370.9 470.1,372.5 470.8,375.1 471.6,376.7 473.2,378.3 474.8,379.4 477.3,380.5 479.7,381.2 482.9,381.6 485.3,381.7 487.7,381.5 490.9,381.0 492.5,380.5 496.6,378.6 503.0,374.1 505.4,373.3 509.4,373.2 528.7,374.4 528.7,431.3 506.6,431.3 482.9,395.4 482.7,395.9 483.7,397.9 484.2,398.3 484.5,399.2 485.3,400.4 485.7,400.7 486.1,401.8 486.6,402.3 487.7,404.4 488.1,404.7 488.5,405.7 489.6,407.1 490.1,408.2 504.5,431.3 402.5,431.3 402.5,371.7 412.1,371.6 414.5,371.8 416.2,372.1 418.6,373.2 424.2,377.3 426.9,379.0 428.2,379.5 432.2,380.8 436.3,381.6 440.3,382.0 443.5,381.9 447.5,381.5 450.7,380.8 454.1,379.8 457.2,378.3 459.6,376.4 461.2,374.7 462.0,373.3 461.9,371.7 462.2,370.9 462.9,370.1 464.2,369.3 464.8,368.5 462.7,362.1 457.7,357.2 456.6,355.6 456.4,354.7 452.3,352.1 447.5,349.4 439.1,345.2 436.8,343.6 402.5,313.5 402.5,306.5ZM482.1,394.5 482.1,395.2 482.5,395.1 482.1,394.5ZM402.5,324.2 402.5,323.6 430.2,343.6 432.0,345.2 432.5,346.0 432.6,346.8 432.4,347.6 431.4,348.2 426.6,349.1 424.2,349.4 421.6,349.2 417.8,347.9 402.5,341.1 402.5,324.2Z"/>
<path fill="#ff8686" d="M403.8,306.5 528.7,306.5 528.7,341.5 506.2,351.2 503.0,352.4 501.4,352.7 499.8,352.6 496.0,351.6 493.3,351.2 485.3,350.3 481.3,350.5 478.1,351.5 476.6,355.6 476.1,356.4 474.7,358.0 467.4,365.3 466.6,368.5 469.0,370.1 469.8,370.9 470.0,372.9 470.8,375.5 471.6,377.3 473.2,378.8 474.8,380.0 477.3,381.1 479.7,381.7 485.3,382.3 488.5,382.1 491.7,381.6 495.7,380.2 502.2,377.3 504.6,376.9 508.5,377.3 528.7,381.3 528.7,431.3 508.6,431.3 484.2,395.9 481.3,392.7 481.0,393.4 482.6,396.7 503.8,431.3 402.5,431.3 402.5,379.2 412.9,377.5 417.0,377.3 420.2,378.1 425.0,379.9 431.4,381.6 434.6,382.2 437.9,382.5 441.1,382.6 445.1,382.4 448.3,381.9 453.9,380.5 456.4,379.4 458.0,378.4 459.6,377.0 461.5,374.9 462.0,374.1 462.3,373.3 462.1,371.7 462.4,370.9 463.2,370.1 464.5,369.3 465.2,368.5 464.7,367.7 463.4,362.9 462.9,362.1 457.9,357.2 456.7,355.6 456.4,354.2 447.2,348.4 441.7,344.4 439.8,342.7 403.8,306.5ZM480.5,392.5 480.5,392.7 480.9,392.6 480.5,392.5Z"/>
<path fill="#ff7979" d="M410.1,306.5 528.7,306.5 528.7,333.0 503.8,347.2 500.6,348.9 499.0,349.6 497.4,350.0 494.9,350.2 486.1,349.6 483.7,349.5 481.3,349.9 478.1,350.9 476.5,355.6 476.0,356.4 474.6,358.0 470.5,362.1 469.0,363.7 467.1,365.3 466.6,367.7 466.2,368.5 467.2,369.3 468.4,369.8 469.6,370.9 470.0,373.3 471.6,377.8 474.8,380.6 477.3,381.7 480.5,382.5 486.9,382.9 494.1,382.1 499.8,380.7 502.2,380.6 505.6,381.4 528.7,388.6 528.7,431.3 510.6,431.3 484.5,395.1 482.1,392.5 479.7,390.5 479.5,391.0 479.7,391.5 482.1,396.3 503.1,431.3 402.5,431.3 402.5,387.8 418.6,383.0 422.6,382.2 425.8,382.1 435.5,383.2 440.3,383.3 446.7,382.8 453.1,381.4 456.4,380.0 458.8,378.3 460.4,376.8 461.9,374.9 462.4,374.1 462.6,373.3 462.4,371.7 462.7,370.9 465.7,368.5 465.2,368.2 464.9,367.7 464.1,363.7 463.7,362.9 458.1,357.2 456.9,355.6 456.4,353.8 447.4,347.6 443.1,343.6 410.1,306.5Z"/>
<path fill="#ff6c6c" d="M413.3,306.5 528.7,306.5 528.7,327.5 500.6,346.0 497.4,347.8 494.9,348.7 492.5,348.9 489.3,349.0 486.1,348.7 482.9,348.8 480.5,349.4 478.1,350.3 476.7,354.8 475.9,356.4 474.5,358.0 470.3,362.1 468.9,363.7 467.6,364.9 466.9,365.3 466.4,367.7 466.0,368.4 465.1,367.7 464.4,363.7 463.1,362.1 458.9,358.0 457.5,356.4 457.0,355.6 456.4,353.4 449.4,348.4 445.9,345.2 441.6,340.3 413.3,306.5ZM465.1,369.3 466.0,368.6 466.8,369.3 468.4,370.0 469.4,370.9 469.6,371.7 469.6,372.5 471.6,378.4 474.0,380.7 475.6,381.8 478.9,382.8 481.3,383.2 487.7,383.5 494.9,383.3 497.4,383.5 499.8,383.9 503.5,385.4 528.7,396.3 528.7,431.3 512.2,431.3 484.5,394.2 481.3,390.7 478.9,389.0 478.7,389.4 478.8,390.2 481.6,395.9 502.4,431.3 402.5,431.3 402.5,393.5 421.3,386.2 426.3,384.6 429.8,384.2 438.7,384.2 444.3,383.7 451.5,382.5 454.7,381.5 458.0,379.5 461.2,376.5 462.8,374.1 462.9,373.3 462.6,371.7 462.9,370.9 463.8,370.1 465.1,369.3Z"/>
<path fill="#ff6060" d="M416.3,306.5 528.7,306.5 528.7,321.7 498.4,344.4 494.9,346.6 491.7,347.7 486.1,347.6 482.9,347.9 480.5,348.5 478.1,349.5 476.6,354.8 475.8,356.4 474.4,358.0 470.2,362.1 468.4,364.1 467.6,364.8 466.6,365.3 466.3,367.7 466.0,368.1 465.3,367.7 465.0,364.5 464.6,363.7 463.2,362.1 459.0,358.0 457.6,356.4 456.9,354.8 456.4,352.9 450.4,348.4 447.0,345.2 416.3,306.5ZM465.5,369.3 466.0,368.9 466.5,369.3 468.3,370.1 469.2,370.9 469.5,371.7 469.4,372.5 470.1,374.1 471.6,378.9 474.8,382.1 476.5,383.2 481.3,383.9 493.3,384.6 496.6,385.4 500.1,387.0 528.7,402.1 528.7,431.3 513.4,431.3 485.0,394.2 481.3,389.9 479.7,388.4 478.1,387.4 477.8,387.8 477.8,388.6 481.3,395.9 501.8,431.3 434.0,431.3 450.7,398.3 451.7,395.9 451.5,395.0 449.6,397.5 430.6,431.3 402.5,431.3 402.5,399.7 425.2,388.6 429.8,386.6 433.8,385.7 444.3,384.4 450.7,383.4 453.1,382.8 454.7,382.2 458.0,380.1 461.2,377.0 462.8,374.8 463.1,373.3 462.8,371.7 463.1,370.9 464.0,370.1 465.5,369.3Z"/>
<path fill="#ff5353" d="M419.2,306.5 528.7,306.5 528.7,311.7 493.4,343.6 492.2,344.4 490.1,345.2 484.5,346.2 481.3,347.2 478.9,348.2 478.1,349.0 476.5,354.8 475.7,356.4 474.3,358.0 470.1,362.1 468.4,363.9 467.6,364.6 466.3,365.3 466.0,367.8 465.7,367.7 465.4,364.5 463.3,362.1 459.1,358.0 457.8,356.4 457.0,354.8 456.4,352.5 451.1,348.4 448.0,345.2 419.2,306.5ZM465.9,369.3 467.6,369.8 469.1,370.9 469.3,371.7 469.2,372.5 470.0,374.1 471.6,379.5 475.4,383.8 475.6,384.6 476.3,385.4 476.4,386.2 478.6,391.0 481.3,396.4 501.1,431.3 434.8,431.3 451.5,397.3 453.2,393.4 453.3,392.6 453.1,392.0 450.7,393.8 449.1,395.9 427.2,431.3 402.5,431.3 402.5,406.0 429.3,390.2 433.8,387.8 435.9,387.0 438.8,386.2 447.5,384.6 452.3,383.9 453.9,383.3 455.6,382.4 458.8,380.0 462.0,376.6 462.8,375.4 463.2,374.1 463.3,373.3 463.0,371.7 463.3,370.9 465.2,369.5 465.9,369.3ZM478.4,384.6 478.9,384.4 481.3,384.7 484.5,384.7 487.7,385.1 491.7,385.8 494.1,386.6 497.8,388.6 528.7,407.5 528.7,431.3 514.7,431.3 485.5,394.2 479.4,387.0 478.4,385.4 478.4,384.6Z"/>
<path fill="#ff4646" d="M420.9,306.5 508.2,306.5 485.1,340.3 482.0,344.4 478.9,346.9 478.7,347.6 478.1,348.5 476.3,354.8 475.6,356.4 474.2,358.0 470.0,362.1 468.4,363.8 467.6,364.5 466.0,365.2 465.7,364.5 465.2,364.2 463.4,362.1 459.2,358.0 457.9,356.4 457.1,354.8 456.4,352.1 451.5,348.2 450.1,346.8 448.1,344.4 420.9,306.5ZM464.4,370.1 465.2,369.5 466.0,369.4 467.6,369.9 468.9,370.9 469.2,371.7 469.1,372.5 469.9,374.1 471.6,380.0 474.1,383.0 475.2,384.6 481.1,396.7 500.5,431.3 435.5,431.3 452.2,396.7 454.1,391.8 454.4,390.2 453.9,389.8 453.1,390.1 451.5,391.4 448.0,395.9 424.8,431.3 402.5,431.3 402.5,411.8 431.8,391.8 436.9,388.6 440.3,387.2 443.8,386.2 446.7,385.6 451.5,385.2 453.1,384.6 456.4,382.8 458.0,381.5 460.4,379.1 462.8,376.0 463.6,373.3 463.2,371.7 463.5,370.9 464.4,370.1ZM480.0,386.2 480.5,385.7 486.9,385.9 490.1,386.7 492.5,387.8 528.7,412.9 528.7,431.3 515.9,431.3 481.5,388.6 480.3,387.0 480.0,386.2Z"/>
<path fill="#ff3939" d="M422.4,306.5 498.3,306.5 480.5,340.5 480.1,341.9 479.7,342.4 479.5,344.4 478.9,345.2 478.7,346.8 478.0,348.4 475.9,355.6 474.1,358.0 469.9,362.1 468.4,363.7 466.8,364.8 466.0,364.6 465.2,364.0 463.5,362.1 458.6,357.2 457.5,355.6 456.4,351.7 455.6,350.8 453.2,349.2 451.4,347.6 448.7,344.4 422.4,306.5ZM464.6,370.1 465.2,369.6 466.0,369.5 467.6,370.1 468.8,370.9 469.0,371.7 469.0,372.5 469.8,374.1 471.6,380.4 475.2,385.4 480.8,396.7 499.8,431.3 436.2,431.3 451.5,398.8 453.5,394.2 455.6,388.6 455.6,387.3 455.2,387.0 454.7,386.3 453.9,386.8 451.5,389.7 447.5,395.1 422.3,431.3 402.5,431.3 402.5,418.1 439.5,389.4 441.9,388.1 445.1,387.0 449.9,387.1 453.1,385.9 454.7,386.1 455.1,385.4 455.6,385.1 461.2,378.8 462.8,376.6 463.7,373.3 463.3,371.7 463.7,370.9 464.6,370.1ZM481.8,387.8 482.1,387.5 487.7,387.3 489.3,387.8 490.8,388.6 528.7,418.0 528.7,431.3 517.2,431.3 485.3,392.6 482.1,388.6 481.8,387.8Z"/>
<path fill="#ff2d2d" d="M423.8,306.5 496.8,306.5 480.5,339.1 480.3,340.3 479.6,341.9 479.4,343.6 478.7,345.2 478.5,346.8 477.8,348.4 475.8,355.6 474.0,357.9 469.7,362.1 468.4,363.6 466.8,364.7 465.2,363.8 463.7,362.1 458.7,357.2 457.6,355.6 456.4,351.3 455.6,350.3 453.9,349.3 452.0,347.6 449.2,344.4 423.8,306.5ZM464.7,370.1 465.2,369.7 466.0,369.6 467.4,370.1 468.6,370.9 468.9,371.7 468.9,372.5 469.7,374.1 471.6,380.8 472.4,382.3 474.0,384.3 475.6,387.0 480.9,397.5 499.1,431.3 436.9,431.3 452.5,397.5 455.1,391.0 457.4,384.6 458.3,383.0 462.8,377.4 463.9,373.3 463.5,371.7 463.8,370.9 464.7,370.1Z"/>
<path fill="#ff2020" d="M425.2,306.5 495.3,306.5 481.3,336.0 480.8,337.9 480.3,338.7 480.1,340.3 479.4,341.9 479.2,343.6 478.5,345.2 478.3,346.8 477.9,347.6 475.7,355.6 474.0,357.7 467.6,364.1 466.8,364.5 465.2,363.7 463.9,362.1 458.8,357.1 457.8,355.6 456.4,350.8 455.6,349.7 453.1,348.1 451.8,346.8 449.2,343.6 425.2,306.5ZM464.8,370.1 465.2,369.8 466.0,369.7 467.2,370.1 468.4,370.9 468.8,371.7 468.7,372.5 469.6,374.1 471.4,380.6 472.4,383.0 474.0,385.1 475.6,387.8 480.5,397.5 498.2,431.3 437.7,431.3 452.9,397.5 458.0,384.8 459.5,382.2 462.0,379.2 462.8,377.8 464.0,373.3 463.7,371.7 464.0,370.9 464.8,370.1ZM465.2,407.8 464.4,409.9 464.4,411.8 465.2,411.4 465.7,409.5 465.8,408.7 465.2,407.8ZM464.4,392.8 463.6,393.9 463.5,395.1 463.6,396.1 464.4,397.0 464.7,395.1 464.4,392.8ZM465.2,422.5 464.9,423.2 464.9,424.0 465.0,425.6 465.2,426.4 466.0,426.4 466.1,425.6 466.0,424.0 465.2,422.5Z"/>
<path fill="#ff1313" d="M426.5,306.5 493.9,306.5 482.1,332.6 481.9,333.9 481.1,335.5 480.8,337.1 480.1,338.7 479.9,340.3 479.2,341.9 479.0,343.6 478.6,344.4 478.3,346.0 477.7,347.6 475.6,355.3 475.0,356.4 474.0,357.6 467.6,363.9 466.8,364.3 465.5,363.7 464.0,362.1 459.6,357.7 458.0,355.8 456.4,350.3 455.6,349.1 453.1,347.5 452.3,346.7 449.3,342.7 426.5,306.5ZM464.9,370.1 465.2,369.9 466.0,369.9 466.8,370.1 468.4,371.2 468.6,371.7 468.6,372.5 469.4,374.1 471.2,380.6 472.4,383.7 474.0,385.9 475.2,387.8 497.3,431.3 438.7,431.3 452.9,398.3 458.0,385.9 459.6,383.0 462.0,380.1 462.4,379.0 462.9,378.2 463.5,375.7 464.1,374.1 464.2,373.3 463.9,371.7 464.1,370.9 464.9,370.1ZM465.2,406.8 464.3,408.7 464.0,410.3 463.9,412.0 464.4,413.0 465.2,412.2 466.1,409.5 466.2,407.9 466.1,407.1 465.2,406.8ZM464.4,391.7 463.6,392.7 463.1,395.1 463.6,397.3 464.4,398.1 464.8,397.5 465.0,396.7 465.1,394.2 464.9,392.6 464.4,391.7ZM465.2,421.6 464.4,422.4 464.4,423.2 464.7,425.6 465.2,427.6 466.0,427.5 466.5,425.6 466.1,423.2 465.2,421.6Z"/>
<path fill="#ff0606" d="M427.9,306.5 492.5,306.5 482.8,329.1 482.5,330.7 481.7,332.3 481.6,333.9 481.0,334.7 480.8,335.5 480.6,337.1 480.1,337.9 479.7,340.3 479.2,341.1 479.0,342.7 478.3,344.4 478.1,346.2 477.6,346.8 477.3,349.1 476.8,350.0 476.6,351.6 475.9,353.2 475.6,355.0 475.1,355.6 474.8,356.5 467.6,363.8 466.8,364.0 465.7,363.7 458.6,356.4 458.0,355.4 457.5,353.2 457.2,352.7 456.9,350.8 456.5,350.0 455.6,348.4 452.3,346.0 449.8,342.7 427.9,306.5ZM465.1,370.1 466.5,370.1 467.9,370.9 468.4,371.6 468.7,373.3 469.3,374.1 469.5,375.7 470.0,376.6 470.2,378.2 470.4,379.0 470.8,379.4 471.1,381.4 471.7,382.2 472.4,384.6 474.2,387.0 475.7,390.2 478.1,394.2 496.4,431.3 478.9,431.3 478.9,430.4 478.7,431.3 439.7,431.3 458.0,387.1 459.6,384.0 460.4,382.8 462.0,381.2 462.3,380.6 462.7,379.0 463.2,378.2 463.6,375.9 464.1,374.9 464.4,373.3 464.2,371.7 464.2,370.9 465.1,370.1ZM474.8,391.5 474.5,392.6 474.4,394.2 474.7,395.9 474.8,397.7 475.6,398.1 475.7,394.2 475.3,392.6 474.8,391.5ZM476.5,406.6 476.2,407.9 476.5,413.6 476.7,412.0 476.5,406.6ZM477.3,414.6 477.0,416.0 477.3,421.6 477.5,420.0 477.3,414.6ZM478.1,422.5 477.8,424.0 478.1,429.5 478.3,428.0 478.1,422.5ZM464.4,390.9 463.6,391.8 463.2,392.6 462.8,395.1 463.2,397.5 463.6,398.2 464.4,399.0 465.2,398.3 465.4,397.5 465.5,394.2 465.3,391.8 465.2,391.5 464.4,390.9ZM475.6,398.7 475.4,399.9 475.6,405.7 475.9,403.9 475.6,398.7ZM465.2,405.9 464.2,407.9 463.4,412.0 463.6,413.0 464.4,413.9 465.4,412.8 466.4,410.3 466.5,409.5 466.6,407.9 466.2,406.3 466.0,405.9 465.2,405.9ZM464.4,420.7 464.0,422.4 464.1,424.8 464.6,427.2 465.2,428.7 466.0,428.5 466.3,428.0 466.8,426.4 466.8,424.8 466.3,422.4 465.2,420.8 464.4,420.7Z"/>
<path fill="#ececff" d="M458.4,364.5 459.6,364.0 460.4,364.1 460.9,364.5 460.9,365.3 460.4,365.7 459.6,365.8 458.4,365.3 458.4,364.5ZM469.0,365.3 469.2,365.0 470.0,364.8 470.8,365.3 470.0,365.8 469.2,365.5 469.0,365.3Z"/>
<path fill="#dfdfff" d="M458.9,364.5 459.6,364.1 460.4,364.2 460.8,364.5 460.8,365.3 460.4,365.6 459.6,365.7 458.9,365.3 458.9,364.5ZM469.2,365.3 470.0,364.9 470.5,365.3 470.0,365.6 469.2,365.3Z"/>
<path fill="#d2d2ff" d="M459.1,364.5 459.6,364.3 460.4,364.3 460.6,364.5 460.6,365.3 459.6,365.5 459.2,365.3 459.1,364.5ZM469.4,365.3 470.0,365.1 470.3,365.3 470.0,365.5 469.4,365.3Z"/>
<path fill="#c6c6ff" d="M459.4,364.5 460.4,364.5 460.4,365.3 459.4,365.3 459.4,364.5ZM469.9,365.3 470.1,365.3 469.9,365.3Z"/>
</g></g>
<rect x="406.20" y="309.90" width="118.8" height="117.7" fill="none" stroke="#c4c4c4" stroke-width="0.7"/>
<rect x="406.2" y="310.2" width="17.3" height="13.2" fill="#fff" fill-opacity="0.5"/>
<text x="409.3" y="320.1" font-family="'Liberation Serif',serif" font-size="9.2" fill="#1a1a1a">(i)</text>
<rect x="528.2" y="310.2" width="8.4" height="117.4" fill="url(#gb)"/>
<g font-family="'Liberation Sans',sans-serif" font-size="7" fill="#262626" stroke="#262626" stroke-width="0.15">
<text x="539.1" y="312.8">5</text>
<text x="539.1" y="371.5">0</text>
<text x="538.3" y="430.2">-5</text>
</g>
<g font-family="'Liberation Sans',sans-serif" font-size="8.3" fill="#262626" stroke="#262626" stroke-width="0.18">
<text x="428.1" y="439.5" text-anchor="middle">-5</text>
<text x="465.6" y="439.5" text-anchor="middle">0</text>
<text x="502.7" y="439.5" text-anchor="middle">5</text>
<text x="404.2" y="335.2" text-anchor="end" font-size="8.0">5</text>
<text x="404.2" y="371.9" text-anchor="end" font-size="8.0">0</text>
<text x="404.2" y="408.6" text-anchor="end" font-size="8.0">-5</text>
</g>
<text transform="translate(393.6,368.9) rotate(-90)" text-anchor="middle" font-family="'Liberation Sans',sans-serif" font-size="9.2" fill="#262626" stroke="#262626" stroke-width="0.2">Z (<tspan fill="#777" stroke="none">×</tspan> r)</text>
<text x="465.9" y="451.3" text-anchor="middle" font-family="'Liberation Sans',sans-serif" font-size="9.2" fill="#262626" stroke="#262626" stroke-width="0.2">X (<tspan fill="#777" stroke="none">×</tspan> r)</text>
<text x="33.9" y="13.4" font-family="'Liberation Serif',serif" font-size="9.6" fill="#1a1a1a" stroke="#1a1a1a" stroke-width="0.22" textLength="85.6" lengthAdjust="spacingAndGlyphs">twisted propeller, SPL</text>
<text x="119.7" y="15.2" font-family="'Liberation Serif',serif" font-size="6.6" fill="#1a1a1a" stroke="#1a1a1a" stroke-width="0.08" textLength="24.5" lengthAdjust="spacingAndGlyphs">thickness</text>
<text x="214.7" y="13.4" font-family="'Liberation Serif',serif" font-size="9.6" fill="#1a1a1a" stroke="#1a1a1a" stroke-width="0.22" textLength="94.6" lengthAdjust="spacingAndGlyphs">untwisted propeller, SPL</text>
<text x="309.5" y="15.2" font-family="'Liberation Serif',serif" font-size="6.6" fill="#1a1a1a" stroke="#1a1a1a" stroke-width="0.08" textLength="24.8" lengthAdjust="spacingAndGlyphs">thickness</text>
<text x="452.3" y="11.9" font-family="'Liberation Serif',serif" font-size="8.8" fill="#1a1a1a" stroke="#1a1a1a" stroke-width="0.22" textLength="19.0" lengthAdjust="spacingAndGlyphs">ΔSPL</text>
<text x="471.5" y="13.7" font-family="'Liberation Serif',serif" font-size="6.6" fill="#1a1a1a" stroke="#1a1a1a" stroke-width="0.08" textLength="22.7" lengthAdjust="spacingAndGlyphs">thickness</text>
<text x="38.3" y="159.6" font-family="'Liberation Serif',serif" font-size="9.6" fill="#1a1a1a" stroke="#1a1a1a" stroke-width="0.22" textLength="86.0" lengthAdjust="spacingAndGlyphs">twisted propeller, SPL</text>
<text x="124.5" y="161.4" font-family="'Liberation Serif',serif" font-size="6.2" fill="#1a1a1a" stroke="#1a1a1a" stroke-width="0.08" textLength="8.1" lengthAdjust="spacingAndGlyphs">LN</text>
<text x="225.4" y="159.4" font-family="'Liberation Serif',serif" font-size="9.6" fill="#1a1a1a" stroke="#1a1a1a" stroke-width="0.22" textLength="95.4" lengthAdjust="spacingAndGlyphs">untwisted propeller, SPL</text>
<text x="321.0" y="161.2" font-family="'Liberation Serif',serif" font-size="6.2" fill="#1a1a1a" stroke="#1a1a1a" stroke-width="0.08" textLength="9.2" lengthAdjust="spacingAndGlyphs">LN</text>
<text x="454.5" y="160.1" font-family="'Liberation Serif',serif" font-size="8.8" fill="#1a1a1a" stroke="#1a1a1a" stroke-width="0.22" textLength="19.0" lengthAdjust="spacingAndGlyphs">ΔSPL</text>
<text x="473.7" y="161.9" font-family="'Liberation Serif',serif" font-size="6.2" fill="#1a1a1a" stroke="#1a1a1a" stroke-width="0.08" textLength="9.0" lengthAdjust="spacingAndGlyphs">LN</text>
<text x="36.6" y="305.6" font-family="'Liberation Serif',serif" font-size="9.6" fill="#1a1a1a" stroke="#1a1a1a" stroke-width="0.22" textLength="86.2" lengthAdjust="spacingAndGlyphs">twisted propeller, SPL</text>
<text x="123.0" y="307.4" font-family="'Liberation Serif',serif" font-size="6.2" fill="#1a1a1a" stroke="#1a1a1a" stroke-width="0.08" textLength="7.0" lengthAdjust="spacingAndGlyphs">LF</text>
<text x="223.3" y="305.4" font-family="'Liberation Serif',serif" font-size="9.6" fill="#1a1a1a" stroke="#1a1a1a" stroke-width="0.22" textLength="96.2" lengthAdjust="spacingAndGlyphs">untwisted propeller, SPL</text>
<text x="319.7" y="307.2" font-family="'Liberation Serif',serif" font-size="6.2" fill="#1a1a1a" stroke="#1a1a1a" stroke-width="0.08" textLength="8.7" lengthAdjust="spacingAndGlyphs">LF</text>
<text x="454.7" y="307.9" font-family="'Liberation Serif',serif" font-size="8.8" fill="#1a1a1a" stroke="#1a1a1a" stroke-width="0.22" textLength="20.2" lengthAdjust="spacingAndGlyphs">ΔSPL</text>
<text x="475.1" y="309.7" font-family="'Liberation Serif',serif" font-size="6.2" fill="#1a1a1a" stroke="#1a1a1a" stroke-width="0.08" textLength="6.9" lengthAdjust="spacingAndGlyphs">LF</text>
</svg>
</body></html>
